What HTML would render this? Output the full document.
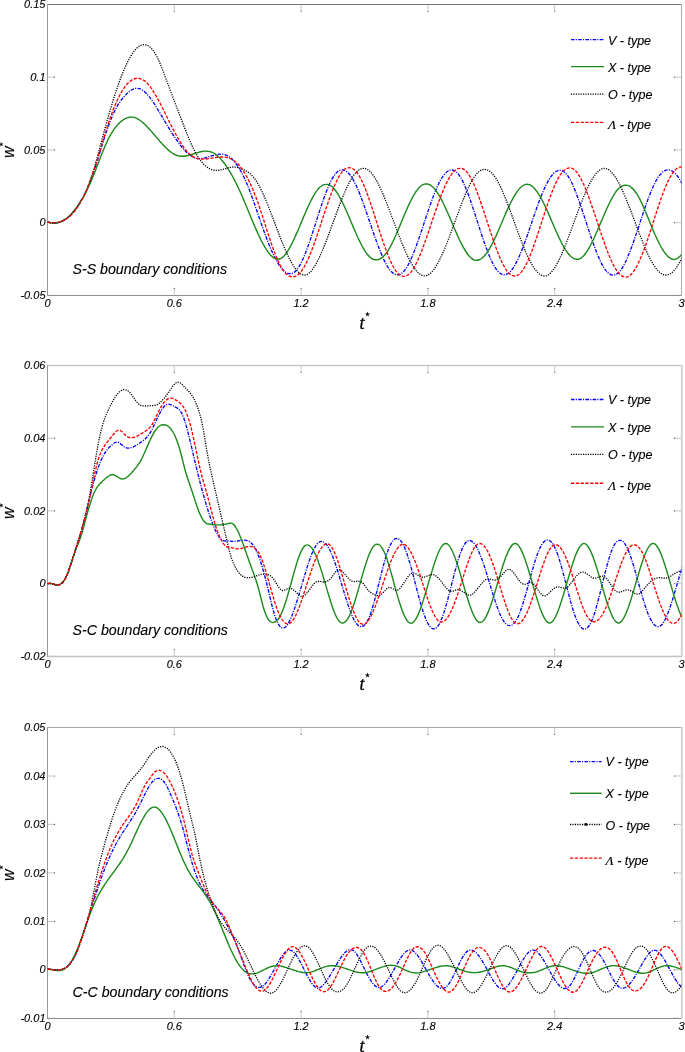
<!DOCTYPE html>
<html><head><meta charset="utf-8"><style>
html,body{margin:0;padding:0;background:#fff;}
svg{display:block;}
.box{fill:none;stroke:#858585;stroke-width:1;}
.tk{stroke:#b8b8b8;stroke-width:0.8;}
.td{fill:#555;}
text{font-family:"Liberation Sans",Arial,sans-serif;fill:#000;stroke:#000;stroke-width:0.12px;}
.yl{font-size:11px;font-style:italic;text-anchor:end;}
.xl{font-size:11px;font-style:italic;text-anchor:middle;}
.lg{font-size:12.5px;font-style:italic;}
.lam{font-family:"Liberation Serif",serif;font-size:13.5px;}
.ttl{font-size:14.2px;font-style:italic;}
.tl{font-family:"Liberation Serif",serif;font-style:italic;font-size:18px;stroke-width:0.3px;}
.wl{font-size:16px;font-style:italic;}
.st{font-family:"DejaVu Sans",sans-serif;font-style:normal;font-size:5.5px;}
.st2{font-family:"DejaVu Sans",sans-serif;font-size:5.5px;}
</style></head><body>
<svg width="685" height="1052" viewBox="0 0 685 1052">
<defs><clipPath id="c0"><rect x="47.5" y="4.5" width="634.0" height="290.9"/></clipPath><clipPath id="c1"><rect x="47.5" y="365.5" width="634.0" height="290.8"/></clipPath><clipPath id="c2"><rect x="47.5" y="727.5" width="634.0" height="290.8"/></clipPath></defs>
<line x1="47.5" y1="295.4" x2="47.5" y2="288.4" class="tk"/><line x1="47.5" y1="4.5" x2="47.5" y2="11.5" class="tk"/><circle cx="47.5" cy="288.4" r="0.6" class="td"/><circle cx="47.5" cy="11.5" r="0.6" class="td"/><line x1="174.3" y1="295.4" x2="174.3" y2="288.4" class="tk"/><line x1="174.3" y1="4.5" x2="174.3" y2="11.5" class="tk"/><circle cx="174.3" cy="288.4" r="0.6" class="td"/><circle cx="174.3" cy="11.5" r="0.6" class="td"/><line x1="301.1" y1="295.4" x2="301.1" y2="288.4" class="tk"/><line x1="301.1" y1="4.5" x2="301.1" y2="11.5" class="tk"/><circle cx="301.1" cy="288.4" r="0.6" class="td"/><circle cx="301.1" cy="11.5" r="0.6" class="td"/><line x1="427.9" y1="295.4" x2="427.9" y2="288.4" class="tk"/><line x1="427.9" y1="4.5" x2="427.9" y2="11.5" class="tk"/><circle cx="427.9" cy="288.4" r="0.6" class="td"/><circle cx="427.9" cy="11.5" r="0.6" class="td"/><line x1="554.7" y1="295.4" x2="554.7" y2="288.4" class="tk"/><line x1="554.7" y1="4.5" x2="554.7" y2="11.5" class="tk"/><circle cx="554.7" cy="288.4" r="0.6" class="td"/><circle cx="554.7" cy="11.5" r="0.6" class="td"/><line x1="681.5" y1="295.4" x2="681.5" y2="288.4" class="tk"/><line x1="681.5" y1="4.5" x2="681.5" y2="11.5" class="tk"/><circle cx="681.5" cy="288.4" r="0.6" class="td"/><circle cx="681.5" cy="11.5" r="0.6" class="td"/><line x1="47.5" y1="4.5" x2="54.5" y2="4.5" class="tk"/><line x1="681.5" y1="4.5" x2="674.5" y2="4.5" class="tk"/><circle cx="54.5" cy="4.5" r="0.6" class="td"/><circle cx="674.5" cy="4.5" r="0.6" class="td"/><text x="45.5" y="8.1" class="yl">0.15</text><line x1="47.5" y1="77.2" x2="54.5" y2="77.2" class="tk"/><line x1="681.5" y1="77.2" x2="674.5" y2="77.2" class="tk"/><circle cx="54.5" cy="77.2" r="0.6" class="td"/><circle cx="674.5" cy="77.2" r="0.6" class="td"/><text x="45.5" y="80.8" class="yl">0.1</text><line x1="47.5" y1="149.9" x2="54.5" y2="149.9" class="tk"/><line x1="681.5" y1="149.9" x2="674.5" y2="149.9" class="tk"/><circle cx="54.5" cy="149.9" r="0.6" class="td"/><circle cx="674.5" cy="149.9" r="0.6" class="td"/><text x="45.5" y="153.5" class="yl">0.05</text><line x1="47.5" y1="222.7" x2="54.5" y2="222.7" class="tk"/><line x1="681.5" y1="222.7" x2="674.5" y2="222.7" class="tk"/><circle cx="54.5" cy="222.7" r="0.6" class="td"/><circle cx="674.5" cy="222.7" r="0.6" class="td"/><text x="45.5" y="226.3" class="yl">0</text><line x1="47.5" y1="295.4" x2="54.5" y2="295.4" class="tk"/><line x1="681.5" y1="295.4" x2="674.5" y2="295.4" class="tk"/><circle cx="54.5" cy="295.4" r="0.6" class="td"/><circle cx="674.5" cy="295.4" r="0.6" class="td"/><text x="45.5" y="299.0" class="yl">-0.05</text>
<text x="47.5" y="307.4" class="xl">0</text><text x="174.3" y="307.4" class="xl">0.6</text><text x="301.1" y="307.4" class="xl">1.2</text><text x="427.9" y="307.4" class="xl">1.8</text><text x="554.7" y="307.4" class="xl">2.4</text><text x="681.5" y="307.4" class="xl">3</text>
<line x1="47.0" y1="4.50" x2="682.0" y2="4.50" stroke="#777" stroke-width="1"/><line x1="47.0" y1="295.50" x2="682.0" y2="295.50" stroke="#8f8f8f" stroke-width="1"/><line x1="47.50" y1="4.0" x2="47.50" y2="295.9" stroke="#999" stroke-width="1"/><line x1="681.50" y1="4.0" x2="681.50" y2="295.9" stroke="#aaa" stroke-width="1"/>
<text x="72.5" y="274.4" class="ttl">S-S boundary conditions</text>
<text x="359.5" y="328.8" class="tl">t<tspan class="st" dx="0.6" dy="-12.6">&#9733;</tspan></text>
<text transform="translate(14,157.9) rotate(-90)" class="wl">w<tspan class="st2" dx="-0.5" dy="-11">&#9733;</tspan></text>
<path d="M47.5,222.0 C48.2,222.2 48.8,222.3 49.5,222.4 C50.2,222.6 50.8,222.7 51.5,222.7 C52.2,222.8 52.8,222.8 53.5,222.9 C54.2,222.9 54.8,222.9 55.5,222.8 C56.2,222.8 56.8,222.7 57.5,222.6 C58.2,222.5 58.8,222.4 59.5,222.2 C60.2,222.0 60.8,221.8 61.5,221.5 C62.2,221.3 62.8,220.9 63.5,220.6 C64.2,220.2 64.8,219.8 65.5,219.4 C66.2,219.0 66.8,218.5 67.5,217.9 C68.2,217.4 68.8,216.8 69.5,216.2 C70.2,215.5 70.8,214.8 71.5,214.1 C72.2,213.4 72.8,212.6 73.5,211.8 C74.2,211.0 74.8,210.1 75.5,209.2 C76.2,208.3 76.8,207.3 77.5,206.4 C78.2,205.4 78.8,204.3 79.5,203.3 C80.2,202.2 80.8,201.1 81.5,199.9 C82.2,198.8 82.8,197.6 83.5,196.4 C84.2,195.1 84.8,193.8 85.5,192.5 C86.2,191.1 86.8,189.7 87.5,188.3 C88.2,186.8 88.8,185.2 89.5,183.6 C90.2,181.9 90.8,180.2 91.5,178.5 C92.2,176.6 92.8,174.7 93.5,172.8 C94.2,170.8 94.8,168.7 95.5,166.7 C96.2,164.5 96.8,162.4 97.5,160.2 C98.2,158.1 98.8,155.9 99.5,153.7 C100.2,151.5 100.8,149.3 101.5,147.1 C102.2,144.9 102.8,142.7 103.5,140.6 C104.2,138.5 104.8,136.4 105.5,134.4 C106.2,132.4 106.8,130.5 107.5,128.6 C108.2,126.7 108.8,124.9 109.5,123.1 C110.2,121.4 110.8,119.7 111.5,118.1 C112.2,116.5 112.8,114.9 113.5,113.5 C114.2,112.0 114.8,110.6 115.5,109.3 C116.2,108.0 116.8,106.8 117.5,105.6 C118.1,104.5 118.8,103.5 119.5,102.5 C120.2,101.5 120.8,100.6 121.5,99.7 C122.2,98.9 122.8,98.1 123.5,97.3 C124.2,96.5 124.8,95.8 125.5,95.1 C126.2,94.4 126.8,93.7 127.5,93.1 C128.2,92.5 128.8,91.9 129.5,91.4 C130.2,90.9 130.8,90.4 131.5,90.0 C132.2,89.6 132.8,89.3 133.5,89.0 C134.2,88.8 134.8,88.5 135.5,88.4 C136.2,88.3 136.8,88.3 137.5,88.3 C138.2,88.4 138.8,88.5 139.5,88.7 C140.2,88.9 140.8,89.2 141.5,89.6 C142.2,89.9 142.8,90.4 143.5,90.9 C144.2,91.4 144.8,92.0 145.5,92.6 C146.2,93.3 146.8,94.0 147.5,94.7 C148.2,95.5 148.8,96.3 149.5,97.1 C150.2,97.9 150.8,98.8 151.5,99.8 C152.2,100.7 152.8,101.7 153.5,102.7 C154.2,103.7 154.8,104.7 155.5,105.7 C156.2,106.8 156.8,107.9 157.5,109.0 C158.2,110.1 158.8,111.2 159.5,112.3 C160.2,113.4 160.8,114.6 161.5,115.7 C162.2,116.8 162.8,118.0 163.5,119.1 C164.2,120.2 164.8,121.4 165.5,122.5 C166.2,123.6 166.8,124.7 167.5,125.8 C168.2,126.9 168.8,128.0 169.5,129.1 C170.2,130.2 170.8,131.3 171.5,132.4 C172.2,133.4 172.8,134.5 173.5,135.5 C174.2,136.5 174.8,137.5 175.5,138.5 C176.2,139.5 176.8,140.4 177.5,141.4 C178.2,142.3 178.8,143.2 179.5,144.1 C180.2,145.0 180.8,145.8 181.5,146.7 C182.2,147.5 182.8,148.3 183.5,149.0 C184.2,149.8 184.8,150.5 185.5,151.2 C186.2,151.8 186.8,152.5 187.5,153.1 C188.2,153.7 188.8,154.2 189.5,154.7 C190.2,155.2 190.8,155.7 191.5,156.1 C192.2,156.5 192.8,156.9 193.5,157.2 C194.2,157.5 194.8,157.8 195.5,158.0 C196.2,158.2 196.8,158.4 197.5,158.5 C198.2,158.6 198.8,158.6 199.5,158.6 C200.2,158.6 200.8,158.6 201.5,158.5 C202.2,158.5 202.8,158.4 203.5,158.2 C204.2,158.1 204.8,158.0 205.5,157.8 C206.2,157.6 206.8,157.4 207.5,157.2 C208.2,157.0 208.8,156.8 209.5,156.6 C210.2,156.4 210.8,156.2 211.5,155.9 C212.2,155.7 212.8,155.5 213.5,155.3 C214.2,155.1 214.8,154.9 215.5,154.8 C216.2,154.6 216.8,154.5 217.5,154.4 C218.2,154.2 218.8,154.2 219.5,154.1 C220.2,154.1 220.8,154.0 221.5,154.1 C222.2,154.1 222.8,154.2 223.5,154.3 C224.2,154.4 224.8,154.6 225.5,154.8 C226.2,155.1 226.8,155.4 227.5,155.7 C228.2,156.1 228.8,156.5 229.5,157.0 C230.2,157.5 230.8,158.0 231.5,158.6 C232.2,159.2 232.8,159.9 233.5,160.6 C234.2,161.4 234.8,162.2 235.5,163.0 C236.2,163.9 236.8,164.8 237.5,165.8 C238.2,166.8 238.8,167.8 239.5,168.9 C240.2,170.0 240.8,171.2 241.5,172.4 C242.2,173.7 242.8,175.0 243.5,176.3 C244.2,177.7 244.8,179.2 245.5,180.6 C246.2,182.1 246.8,183.7 247.5,185.3 C248.2,186.9 248.8,188.6 249.5,190.3 C250.2,192.1 250.8,193.9 251.5,195.7 C252.2,197.5 252.8,199.3 253.5,201.2 C254.2,203.1 254.8,205.0 255.5,206.9 C256.2,208.8 256.8,210.8 257.5,212.7 C258.2,214.6 258.8,216.6 259.5,218.5 C260.2,220.4 260.8,222.4 261.5,224.3 C262.2,226.2 262.8,228.1 263.5,229.9 C264.2,231.8 264.8,233.6 265.5,235.4 C266.2,237.2 266.8,239.0 267.5,240.7 C268.2,242.4 268.8,244.1 269.5,245.7 C270.2,247.3 270.8,248.9 271.5,250.4 C272.2,251.9 272.8,253.3 273.5,254.8 C274.2,256.1 274.8,257.5 275.5,258.8 C276.2,260.0 276.8,261.2 277.5,262.4 C278.2,263.5 278.8,264.5 279.5,265.5 C280.1,266.5 280.8,267.4 281.5,268.2 C282.1,269.0 282.8,269.8 283.5,270.4 C284.1,271.1 284.8,271.6 285.5,272.1 C286.1,272.5 286.8,272.9 287.5,273.2 C288.2,273.4 288.8,273.6 289.5,273.7 C290.2,273.7 290.8,273.7 291.5,273.5 C292.2,273.4 292.9,273.1 293.5,272.7 C294.2,272.3 294.9,271.8 295.5,271.2 C296.2,270.5 296.9,269.7 297.5,268.9 C298.2,268.0 298.9,266.9 299.5,265.9 C300.2,264.7 300.9,263.4 301.5,262.1 C302.2,260.8 302.8,259.3 303.5,257.8 C304.2,256.2 304.8,254.6 305.5,253.0 C306.2,251.2 306.8,249.5 307.5,247.7 C308.2,245.8 308.8,243.9 309.5,242.0 C310.2,240.0 310.8,238.1 311.5,236.1 C312.2,234.0 312.8,232.0 313.5,229.9 C314.2,227.9 314.8,225.8 315.5,223.7 C316.2,221.6 316.8,219.5 317.5,217.4 C318.2,215.4 318.8,213.3 319.5,211.2 C320.2,209.2 320.8,207.2 321.5,205.2 C322.2,203.2 322.8,201.2 323.5,199.3 C324.2,197.5 324.8,195.6 325.5,193.8 C326.2,192.1 326.8,190.3 327.5,188.7 C328.2,187.1 328.8,185.5 329.5,184.0 C330.1,182.6 330.8,181.2 331.5,179.9 C332.1,178.7 332.8,177.5 333.5,176.5 C334.1,175.5 334.8,174.5 335.5,173.7 C336.1,173.0 336.8,172.3 337.5,171.7 C338.1,171.2 338.8,170.8 339.5,170.5 C340.1,170.2 340.8,170.0 341.5,169.9 C342.2,169.8 342.8,169.9 343.5,170.0 C344.2,170.2 344.9,170.5 345.5,170.8 C346.2,171.2 346.9,171.7 347.5,172.3 C348.2,172.9 348.9,173.6 349.5,174.3 C350.2,175.1 350.9,176.1 351.5,177.0 C352.2,178.0 352.9,179.1 353.5,180.3 C354.2,181.5 354.8,182.8 355.5,184.1 C356.2,185.5 356.8,187.0 357.5,188.5 C358.2,190.0 358.8,191.6 359.5,193.3 C360.2,195.0 360.8,196.7 361.5,198.4 C362.2,200.2 362.8,202.1 363.5,203.9 C364.2,205.8 364.8,207.7 365.5,209.6 C366.2,211.5 366.8,213.5 367.5,215.4 C368.2,217.4 368.8,219.3 369.5,221.3 C370.2,223.3 370.8,225.3 371.5,227.2 C372.2,229.2 372.8,231.1 373.5,233.0 C374.2,235.0 374.8,236.9 375.5,238.7 C376.2,240.6 376.8,242.4 377.5,244.2 C378.2,246.0 378.8,247.8 379.5,249.5 C380.2,251.1 380.8,252.8 381.5,254.4 C382.2,255.9 382.8,257.5 383.5,258.9 C384.2,260.3 384.8,261.7 385.5,263.0 C386.1,264.2 386.8,265.4 387.5,266.5 C388.1,267.6 388.8,268.6 389.5,269.5 C390.1,270.3 390.8,271.1 391.5,271.8 C392.1,272.4 392.8,273.0 393.5,273.5 C394.1,273.9 394.8,274.3 395.5,274.5 C396.2,274.7 396.8,274.8 397.5,274.8 C398.2,274.8 398.8,274.7 399.5,274.5 C400.2,274.2 400.9,273.9 401.5,273.4 C402.2,272.9 402.9,272.3 403.5,271.7 C404.2,271.0 404.9,270.1 405.5,269.2 C406.2,268.3 406.9,267.2 407.5,266.1 C408.2,264.9 408.9,263.6 409.5,262.3 C410.2,260.9 410.8,259.5 411.5,258.0 C412.2,256.5 412.8,254.9 413.5,253.2 C414.2,251.6 414.8,249.8 415.5,248.1 C416.2,246.3 416.8,244.4 417.5,242.6 C418.2,240.7 418.8,238.7 419.5,236.8 C420.2,234.8 420.8,232.9 421.5,230.9 C422.2,228.9 422.8,226.9 423.5,224.9 C424.2,222.8 424.8,220.8 425.5,218.8 C426.2,216.8 426.8,214.8 427.5,212.8 C428.2,210.8 428.8,208.9 429.5,206.9 C430.2,205.0 430.8,203.1 431.5,201.2 C432.2,199.4 432.8,197.6 433.5,195.8 C434.2,194.1 434.8,192.4 435.5,190.8 C436.2,189.2 436.8,187.7 437.5,186.2 C438.2,184.7 438.8,183.4 439.5,182.0 C440.1,180.8 440.8,179.6 441.5,178.5 C442.1,177.4 442.8,176.4 443.5,175.5 C444.1,174.7 444.8,173.9 445.5,173.2 C446.1,172.5 446.8,171.9 447.5,171.5 C448.1,171.0 448.8,170.7 449.5,170.4 C450.2,170.2 450.8,170.1 451.5,170.0 C452.2,170.0 452.8,170.2 453.5,170.4 C454.2,170.6 454.9,171.0 455.5,171.4 C456.2,171.9 456.9,172.5 457.5,173.2 C458.2,173.9 458.9,174.8 459.5,175.7 C460.2,176.7 460.9,177.8 461.5,178.9 C462.2,180.2 462.9,181.5 463.5,182.9 C464.2,184.3 464.8,185.8 465.5,187.4 C466.2,189.0 466.8,190.7 467.5,192.4 C468.2,194.2 468.8,196.0 469.5,197.8 C470.2,199.7 470.8,201.6 471.5,203.6 C472.2,205.6 472.8,207.6 473.5,209.6 C474.2,211.6 474.8,213.7 475.5,215.7 C476.2,217.8 476.8,219.9 477.5,221.9 C478.2,224.0 478.8,226.1 479.5,228.1 C480.2,230.2 480.8,232.2 481.5,234.3 C482.2,236.3 482.8,238.2 483.5,240.2 C484.2,242.1 484.8,244.0 485.5,245.9 C486.2,247.7 486.8,249.5 487.5,251.3 C488.2,253.0 488.8,254.7 489.5,256.3 C490.2,257.8 490.8,259.4 491.5,260.8 C492.2,262.2 492.8,263.5 493.5,264.8 C494.1,266.0 494.8,267.1 495.5,268.2 C496.1,269.1 496.8,270.1 497.5,270.9 C498.1,271.6 498.8,272.3 499.5,272.8 C500.1,273.3 500.8,273.8 501.5,274.1 C502.1,274.4 502.8,274.6 503.5,274.7 C504.2,274.8 504.8,274.7 505.5,274.6 C506.2,274.5 506.9,274.2 507.5,273.8 C508.2,273.5 508.9,272.9 509.5,272.4 C510.2,271.8 510.9,271.0 511.5,270.3 C512.2,269.4 512.9,268.5 513.5,267.5 C514.2,266.4 514.9,265.3 515.5,264.1 C516.2,262.8 516.8,261.5 517.5,260.2 C518.2,258.7 518.8,257.3 519.5,255.8 C520.2,254.2 520.8,252.6 521.5,251.0 C522.2,249.3 522.8,247.5 523.5,245.8 C524.2,244.0 524.8,242.2 525.5,240.4 C526.2,238.5 526.8,236.7 527.5,234.8 C528.2,232.9 528.8,230.9 529.5,229.0 C530.2,227.1 530.8,225.1 531.5,223.2 C532.2,221.2 532.8,219.3 533.5,217.3 C534.2,215.4 534.8,213.5 535.5,211.6 C536.2,209.7 536.8,207.8 537.5,205.9 C538.2,204.1 538.8,202.3 539.5,200.5 C540.2,198.8 540.8,197.0 541.5,195.3 C542.2,193.7 542.8,192.1 543.5,190.5 C544.2,189.0 544.8,187.5 545.5,186.1 C546.2,184.7 546.8,183.4 547.5,182.1 C548.1,180.9 548.8,179.8 549.5,178.7 C550.1,177.7 550.8,176.7 551.5,175.8 C552.1,175.0 552.8,174.2 553.5,173.5 C554.1,172.9 554.8,172.3 555.5,171.8 C556.1,171.4 556.8,171.0 557.5,170.8 C558.2,170.5 558.8,170.4 559.5,170.3 C560.2,170.3 560.8,170.4 561.5,170.6 C562.2,170.8 562.9,171.1 563.5,171.5 C564.2,171.9 564.9,172.5 565.5,173.1 C566.2,173.8 566.9,174.6 567.5,175.4 C568.2,176.4 568.9,177.4 569.5,178.5 C570.2,179.7 570.9,180.9 571.5,182.2 C572.2,183.6 572.8,185.1 573.5,186.6 C574.2,188.1 574.8,189.8 575.5,191.4 C576.2,193.1 576.8,194.9 577.5,196.7 C578.2,198.5 578.8,200.4 579.5,202.3 C580.2,204.2 580.8,206.2 581.5,208.1 C582.2,210.1 582.8,212.1 583.5,214.2 C584.2,216.2 584.8,218.2 585.5,220.3 C586.2,222.3 586.8,224.4 587.5,226.4 C588.2,228.4 588.8,230.4 589.5,232.4 C590.2,234.4 590.8,236.4 591.5,238.4 C592.2,240.3 592.8,242.2 593.5,244.1 C594.2,245.9 594.8,247.7 595.5,249.5 C596.2,251.2 596.8,252.9 597.5,254.6 C598.2,256.2 598.8,257.8 599.5,259.3 C600.2,260.7 600.8,262.1 601.5,263.4 C602.1,264.7 602.8,265.9 603.5,267.0 C604.1,268.1 604.8,269.1 605.5,270.0 C606.1,270.9 606.8,271.6 607.5,272.3 C608.1,272.9 608.8,273.5 609.5,273.9 C610.1,274.3 610.8,274.7 611.5,274.8 C612.2,275.0 612.8,275.1 613.5,275.1 C614.2,275.0 614.9,274.9 615.5,274.6 C616.2,274.3 616.9,273.9 617.5,273.4 C618.2,272.9 618.9,272.3 619.5,271.6 C620.2,270.8 620.9,269.9 621.5,269.0 C622.2,268.0 622.9,266.9 623.5,265.7 C624.2,264.5 624.8,263.2 625.5,261.9 C626.2,260.5 626.8,259.0 627.5,257.5 C628.2,255.9 628.8,254.3 629.5,252.7 C630.2,250.9 630.8,249.2 631.5,247.4 C632.2,245.6 632.8,243.8 633.5,241.9 C634.2,240.0 634.8,238.1 635.5,236.1 C636.2,234.1 636.8,232.2 637.5,230.2 C638.2,228.2 638.8,226.2 639.5,224.2 C640.2,222.2 640.8,220.1 641.5,218.1 C642.2,216.1 642.8,214.1 643.5,212.2 C644.2,210.2 644.8,208.2 645.5,206.3 C646.2,204.4 646.8,202.5 647.5,200.7 C648.2,198.9 648.8,197.1 649.5,195.4 C650.2,193.7 650.8,192.0 651.5,190.4 C652.2,188.8 652.8,187.3 653.5,185.8 C654.2,184.4 654.8,183.1 655.5,181.8 C656.1,180.6 656.8,179.4 657.5,178.3 C658.1,177.3 658.8,176.3 659.5,175.4 C660.1,174.6 660.8,173.8 661.5,173.1 C662.1,172.5 662.8,171.9 663.5,171.4 C664.1,171.0 664.8,170.6 665.5,170.3 C666.2,170.1 666.8,169.9 667.5,169.8 C668.2,169.8 668.8,169.8 669.5,169.9 C670.2,170.0 670.9,170.3 671.5,170.6 C672.2,170.9 672.9,171.4 673.5,171.9 C674.2,172.4 674.9,173.1 675.5,173.7 C676.2,174.5 676.9,175.3 677.5,176.2 C678.2,177.2 678.9,178.2 679.5,179.2 C680.2,180.3 680.8,181.5 681.5,182.7 C682.2,184.0 682.8,185.3 683.5,186.7 C684.2,188.1 684.8,189.5 685.5,191.0 C686.2,192.5 686.8,194.0 687.5,195.6 C688.2,197.2 688.8,198.9 689.5,200.5 C690.2,202.2 690.8,203.9 691.5,205.6 C692.2,207.4 692.8,209.1 693.5,210.9 C694.2,212.7 694.8,214.5 695.5,216.3 C696.2,218.1 696.8,219.9 697.5,221.7 C698.2,223.5 698.8,225.3 699.5,227.1 C700.2,228.9 700.8,230.7 701.5,232.5 C702.2,234.3 702.8,236.0 703.5,237.8 C704.2,239.5 704.8,241.2 705.5,242.9 C706.2,244.5 706.8,246.2 707.5,247.8 C708.2,249.4 708.8,250.9 709.5,252.4 C710.2,253.9 710.8,255.3 711.5,256.8 C712.2,258.1 712.8,259.4 713.5,260.7 C714.2,261.9 714.8,263.1 715.5,264.3 C716.2,265.3 716.8,266.4 717.5,267.4 C718.1,268.3 718.8,269.2 719.5,270.0 C720.1,270.7 720.8,271.5 721.5,272.1 C722.1,272.7 722.8,273.2 723.5,273.6 C724.1,274.0 724.8,274.4 725.5,274.6 C726.2,274.8 727.1,274.9 727.5,275.0 C727.7,275.0 727.8,275.0 728.0,275.0" fill="none" stroke="#0000ff" stroke-width="1.35" stroke-dasharray="3.6 1.2 1.1 1.3" stroke-linejoin="round" clip-path="url(#c0)"/>
<path d="M47.5,221.8 C48.2,222.0 48.8,222.3 49.5,222.5 C50.2,222.7 50.8,222.9 51.5,223.0 C52.2,223.1 52.8,223.2 53.5,223.2 C54.2,223.2 54.8,223.2 55.5,223.1 C56.2,223.1 56.8,223.0 57.5,222.8 C58.2,222.7 58.8,222.5 59.5,222.3 C60.2,222.1 60.8,221.8 61.5,221.5 C62.2,221.2 62.8,220.8 63.5,220.4 C64.2,220.0 64.8,219.6 65.5,219.1 C66.2,218.7 66.8,218.1 67.5,217.6 C68.2,217.0 68.8,216.4 69.5,215.8 C70.2,215.2 70.8,214.5 71.5,213.8 C72.2,213.0 72.8,212.3 73.5,211.5 C74.2,210.7 74.8,209.9 75.5,209.0 C76.2,208.1 76.8,207.2 77.5,206.2 C78.2,205.3 78.8,204.3 79.5,203.3 C80.2,202.2 80.8,201.1 81.5,200.0 C82.2,198.9 82.8,197.7 83.5,196.6 C84.2,195.4 84.8,194.1 85.5,192.9 C86.2,191.6 86.8,190.2 87.5,188.9 C88.2,187.5 88.8,186.1 89.5,184.7 C90.2,183.2 90.8,181.7 91.5,180.2 C92.2,178.6 92.8,177.0 93.5,175.4 C94.2,173.8 94.8,172.1 95.5,170.4 C96.2,168.7 96.8,166.9 97.5,165.2 C98.2,163.5 98.8,161.7 99.5,160.0 C100.2,158.2 100.8,156.5 101.5,154.8 C102.2,153.1 102.8,151.4 103.5,149.8 C104.2,148.2 104.8,146.6 105.5,145.0 C106.2,143.5 106.8,142.1 107.5,140.7 C108.2,139.3 108.8,138.0 109.5,136.7 C110.2,135.5 110.8,134.3 111.5,133.2 C112.2,132.1 112.8,131.1 113.5,130.1 C114.2,129.1 114.8,128.2 115.5,127.3 C116.2,126.5 116.8,125.7 117.5,124.9 C118.2,124.2 118.8,123.5 119.5,122.9 C120.2,122.3 120.8,121.7 121.5,121.1 C122.2,120.6 122.8,120.1 123.5,119.7 C124.2,119.3 124.8,118.9 125.5,118.5 C126.2,118.2 126.8,117.9 127.5,117.7 C128.2,117.5 128.8,117.3 129.5,117.2 C130.2,117.1 130.8,117.0 131.5,117.0 C132.2,117.1 132.8,117.1 133.5,117.3 C134.2,117.4 134.8,117.6 135.5,117.9 C136.2,118.1 136.8,118.4 137.5,118.8 C138.2,119.1 138.8,119.6 139.5,120.0 C140.2,120.5 140.8,121.0 141.5,121.5 C142.2,122.0 142.8,122.6 143.5,123.2 C144.2,123.8 144.8,124.4 145.5,125.1 C146.2,125.7 146.8,126.4 147.5,127.1 C148.2,127.8 148.8,128.6 149.5,129.3 C150.2,130.0 150.8,130.8 151.5,131.5 C152.2,132.3 152.8,133.1 153.5,133.9 C154.2,134.6 154.8,135.4 155.5,136.2 C156.2,137.0 156.8,137.8 157.5,138.6 C158.2,139.3 158.8,140.1 159.5,140.9 C160.2,141.6 160.8,142.4 161.5,143.1 C162.2,143.9 162.8,144.6 163.5,145.3 C164.2,146.0 164.8,146.7 165.5,147.4 C166.2,148.0 166.8,148.7 167.5,149.3 C168.2,149.9 168.8,150.5 169.5,151.0 C170.2,151.5 170.8,152.1 171.5,152.5 C172.2,153.0 172.8,153.4 173.5,153.8 C174.2,154.2 174.8,154.6 175.5,154.9 C176.2,155.2 176.8,155.4 177.5,155.6 C178.2,155.8 178.8,156.0 179.5,156.1 C180.2,156.2 180.8,156.2 181.5,156.3 C182.2,156.3 182.8,156.3 183.5,156.2 C184.2,156.2 184.8,156.1 185.5,156.0 C186.2,155.9 186.8,155.7 187.5,155.6 C188.2,155.4 188.8,155.3 189.5,155.1 C190.2,154.9 190.8,154.7 191.5,154.5 C192.2,154.3 192.8,154.1 193.5,153.8 C194.2,153.6 194.8,153.4 195.5,153.2 C196.2,153.0 196.8,152.8 197.5,152.6 C198.2,152.4 198.8,152.2 199.5,152.0 C200.2,151.9 200.8,151.7 201.5,151.6 C202.2,151.4 202.8,151.3 203.5,151.2 C204.2,151.2 204.8,151.1 205.5,151.1 C206.2,151.1 206.8,151.1 207.5,151.2 C208.2,151.2 208.8,151.3 209.5,151.5 C210.2,151.6 210.8,151.8 211.5,152.1 C212.2,152.3 212.8,152.6 213.5,153.0 C214.2,153.4 214.8,153.8 215.5,154.2 C216.2,154.7 216.8,155.2 217.5,155.8 C218.2,156.4 218.8,157.0 219.5,157.7 C220.2,158.4 220.8,159.1 221.5,159.9 C222.2,160.6 222.8,161.5 223.5,162.3 C224.2,163.2 224.8,164.1 225.5,165.0 C226.2,165.9 226.8,166.9 227.5,167.9 C228.2,169.0 228.8,170.0 229.5,171.1 C230.2,172.2 230.8,173.4 231.5,174.5 C232.2,175.7 232.8,176.9 233.5,178.2 C234.2,179.4 234.8,180.7 235.5,182.0 C236.2,183.3 236.8,184.7 237.5,186.1 C238.2,187.5 238.8,188.9 239.5,190.3 C240.2,191.8 240.8,193.3 241.5,194.8 C242.2,196.3 242.8,197.9 243.5,199.4 C244.2,201.0 244.8,202.6 245.5,204.2 C246.2,205.8 246.8,207.4 247.5,209.0 C248.2,210.6 248.8,212.2 249.5,213.8 C250.2,215.4 250.8,217.1 251.5,218.7 C252.2,220.3 252.8,221.8 253.5,223.4 C254.2,225.0 254.8,226.5 255.5,228.1 C256.2,229.6 256.8,231.1 257.5,232.6 C258.2,234.0 258.8,235.5 259.5,236.9 C260.2,238.3 260.8,239.6 261.5,241.0 C262.2,242.2 262.8,243.5 263.5,244.7 C264.2,245.9 264.8,247.1 265.5,248.2 C266.2,249.2 266.8,250.2 267.5,251.2 C268.2,252.1 268.8,253.0 269.5,253.8 C270.1,254.6 270.8,255.3 271.5,256.0 C272.1,256.6 272.8,257.2 273.5,257.6 C274.1,258.1 274.8,258.4 275.5,258.7 C276.2,258.9 276.8,259.1 277.5,259.2 C278.2,259.2 278.8,259.1 279.5,259.0 C280.2,258.8 280.9,258.5 281.5,258.1 C282.2,257.7 282.9,257.1 283.5,256.5 C284.2,255.8 284.9,255.1 285.5,254.2 C286.2,253.4 286.9,252.4 287.5,251.4 C288.2,250.4 288.8,249.3 289.5,248.1 C290.2,246.9 290.8,245.7 291.5,244.4 C292.2,243.1 292.8,241.7 293.5,240.3 C294.2,238.9 294.8,237.4 295.5,235.9 C296.2,234.4 296.8,232.9 297.5,231.4 C298.2,229.8 298.8,228.2 299.5,226.7 C300.2,225.1 300.8,223.5 301.5,221.9 C302.2,220.3 302.8,218.7 303.5,217.1 C304.2,215.6 304.8,214.0 305.5,212.5 C306.2,210.9 306.8,209.4 307.5,207.9 C308.2,206.5 308.8,205.0 309.5,203.6 C310.2,202.2 310.8,200.9 311.5,199.6 C312.2,198.3 312.8,197.1 313.5,195.9 C314.2,194.8 314.8,193.7 315.5,192.6 C316.1,191.7 316.8,190.7 317.5,189.9 C318.1,189.0 318.8,188.3 319.5,187.6 C320.1,187.0 320.8,186.4 321.5,186.0 C322.1,185.5 322.8,185.2 323.5,184.9 C324.2,184.6 324.8,184.4 325.5,184.4 C326.2,184.3 326.8,184.3 327.5,184.4 C328.2,184.6 328.9,184.8 329.5,185.1 C330.2,185.4 330.9,185.8 331.5,186.3 C332.2,186.8 332.9,187.5 333.5,188.1 C334.2,188.8 334.9,189.7 335.5,190.5 C336.2,191.4 336.8,192.4 337.5,193.4 C338.2,194.5 338.8,195.6 339.5,196.8 C340.2,198.0 340.8,199.3 341.5,200.5 C342.2,201.9 342.8,203.2 343.5,204.6 C344.2,206.0 344.8,207.5 345.5,209.0 C346.2,210.5 346.8,212.0 347.5,213.5 C348.2,215.0 348.8,216.6 349.5,218.1 C350.2,219.7 350.8,221.3 351.5,222.9 C352.2,224.4 352.8,226.0 353.5,227.6 C354.2,229.1 354.8,230.6 355.5,232.2 C356.2,233.7 356.8,235.2 357.5,236.7 C358.2,238.1 358.8,239.5 359.5,240.9 C360.2,242.3 360.8,243.6 361.5,244.9 C362.2,246.1 362.8,247.4 363.5,248.5 C364.2,249.6 364.8,250.7 365.5,251.8 C366.1,252.7 366.8,253.7 367.5,254.5 C368.1,255.3 368.8,256.0 369.5,256.7 C370.1,257.3 370.8,257.9 371.5,258.3 C372.1,258.7 372.8,259.1 373.5,259.3 C374.2,259.6 374.8,259.8 375.5,259.8 C376.2,259.9 376.8,259.8 377.5,259.7 C378.2,259.6 378.8,259.4 379.5,259.1 C380.2,258.8 380.9,258.4 381.5,257.9 C382.2,257.5 382.9,256.9 383.5,256.2 C384.2,255.6 384.9,254.8 385.5,254.0 C386.2,253.2 386.9,252.3 387.5,251.3 C388.2,250.3 388.8,249.2 389.5,248.1 C390.2,246.9 390.8,245.7 391.5,244.4 C392.2,243.1 392.8,241.7 393.5,240.3 C394.2,238.9 394.8,237.4 395.5,236.0 C396.2,234.4 396.8,232.9 397.5,231.4 C398.2,229.8 398.8,228.2 399.5,226.6 C400.2,225.0 400.8,223.4 401.5,221.8 C402.2,220.2 402.8,218.6 403.5,217.0 C404.2,215.4 404.8,213.8 405.5,212.2 C406.2,210.7 406.8,209.2 407.5,207.7 C408.2,206.2 408.8,204.8 409.5,203.4 C410.2,202.0 410.8,200.7 411.5,199.4 C412.2,198.1 412.8,196.9 413.5,195.7 C414.2,194.5 414.8,193.4 415.5,192.4 C416.2,191.4 416.8,190.4 417.5,189.6 C418.1,188.7 418.8,188.0 419.5,187.3 C420.1,186.6 420.8,186.0 421.5,185.5 C422.1,185.1 422.8,184.7 423.5,184.4 C424.1,184.1 424.8,184.0 425.5,183.9 C426.2,183.9 426.8,183.9 427.5,184.0 C428.2,184.2 428.9,184.4 429.5,184.7 C430.2,185.1 430.9,185.5 431.5,186.0 C432.2,186.5 432.9,187.1 433.5,187.8 C434.2,188.5 434.9,189.3 435.5,190.1 C436.2,191.0 436.8,191.9 437.5,192.9 C438.2,193.9 438.8,195.0 439.5,196.1 C440.2,197.2 440.8,198.5 441.5,199.7 C442.2,201.0 442.8,202.3 443.5,203.7 C444.2,205.1 444.8,206.5 445.5,207.9 C446.2,209.4 446.8,210.8 447.5,212.3 C448.2,213.9 448.8,215.4 449.5,216.9 C450.2,218.5 450.8,220.0 451.5,221.6 C452.2,223.1 452.8,224.7 453.5,226.3 C454.2,227.8 454.8,229.3 455.5,230.9 C456.2,232.4 456.8,233.9 457.5,235.4 C458.2,236.8 458.8,238.3 459.5,239.7 C460.2,241.1 460.8,242.5 461.5,243.8 C462.2,245.1 462.8,246.4 463.5,247.6 C464.2,248.8 464.8,249.9 465.5,251.0 C466.2,252.0 466.8,253.0 467.5,254.0 C468.1,254.9 468.8,255.7 469.5,256.4 C470.1,257.1 470.8,257.8 471.5,258.4 C472.1,258.9 472.8,259.3 473.5,259.6 C474.1,259.9 474.8,260.2 475.5,260.3 C476.2,260.4 476.8,260.4 477.5,260.3 C478.2,260.2 478.8,259.9 479.5,259.6 C480.2,259.3 480.9,258.9 481.5,258.5 C482.2,258.0 482.9,257.4 483.5,256.8 C484.2,256.1 484.9,255.3 485.5,254.5 C486.2,253.7 486.8,252.8 487.5,251.9 C488.2,250.9 488.8,249.8 489.5,248.7 C490.2,247.6 490.8,246.4 491.5,245.2 C492.2,243.9 492.8,242.6 493.5,241.3 C494.2,239.9 494.8,238.5 495.5,237.1 C496.2,235.6 496.8,234.1 497.5,232.6 C498.2,231.1 498.8,229.5 499.5,228.0 C500.2,226.4 500.8,224.8 501.5,223.3 C502.2,221.7 502.8,220.1 503.5,218.5 C504.2,217.0 504.8,215.4 505.5,213.9 C506.2,212.4 506.8,210.9 507.5,209.4 C508.2,207.9 508.8,206.5 509.5,205.1 C510.2,203.7 510.8,202.4 511.5,201.1 C512.2,199.8 512.8,198.6 513.5,197.4 C514.2,196.2 514.8,195.1 515.5,194.0 C516.2,193.0 516.8,192.0 517.5,191.1 C518.1,190.2 518.8,189.4 519.5,188.6 C520.1,187.9 520.8,187.3 521.5,186.7 C522.1,186.1 522.8,185.6 523.5,185.3 C524.1,184.9 524.8,184.6 525.5,184.4 C526.2,184.3 526.8,184.2 527.5,184.2 C528.2,184.3 528.8,184.5 529.5,184.7 C530.2,185.0 530.9,185.4 531.5,185.8 C532.2,186.3 532.9,186.8 533.5,187.5 C534.2,188.1 534.9,188.9 535.5,189.7 C536.2,190.5 536.8,191.4 537.5,192.3 C538.2,193.3 538.8,194.4 539.5,195.4 C540.2,196.6 540.8,197.8 541.5,199.0 C542.2,200.2 542.8,201.5 543.5,202.8 C544.2,204.2 544.8,205.6 545.5,207.0 C546.2,208.4 546.8,209.9 547.5,211.4 C548.2,212.9 548.8,214.4 549.5,215.9 C550.2,217.4 550.8,219.0 551.5,220.6 C552.2,222.1 552.8,223.7 553.5,225.2 C554.2,226.8 554.8,228.3 555.5,229.8 C556.2,231.4 556.8,232.9 557.5,234.3 C558.2,235.8 558.8,237.3 559.5,238.7 C560.2,240.0 560.8,241.4 561.5,242.7 C562.2,244.0 562.8,245.3 563.5,246.5 C564.2,247.6 564.8,248.7 565.5,249.8 C566.2,250.8 566.8,251.8 567.5,252.7 C568.1,253.5 568.8,254.4 569.5,255.1 C570.1,255.8 570.8,256.4 571.5,257.0 C572.1,257.5 572.8,258.0 573.5,258.3 C574.1,258.7 574.8,259.0 575.5,259.1 C576.2,259.3 576.8,259.3 577.5,259.3 C578.2,259.3 578.9,259.1 579.5,258.8 C580.2,258.6 580.9,258.2 581.5,257.7 C582.2,257.2 582.9,256.6 583.5,255.9 C584.2,255.2 584.9,254.4 585.5,253.5 C586.2,252.6 586.8,251.6 587.5,250.6 C588.2,249.5 588.8,248.3 589.5,247.2 C590.2,245.9 590.8,244.7 591.5,243.4 C592.2,242.0 592.8,240.6 593.5,239.2 C594.2,237.8 594.8,236.4 595.5,234.9 C596.2,233.4 596.8,231.8 597.5,230.3 C598.2,228.8 598.8,227.2 599.5,225.6 C600.2,224.1 600.8,222.5 601.5,220.9 C602.2,219.4 602.8,217.8 603.5,216.2 C604.2,214.7 604.8,213.1 605.5,211.6 C606.2,210.1 606.8,208.6 607.5,207.2 C608.2,205.8 608.8,204.3 609.5,203.0 C610.2,201.6 610.8,200.3 611.5,199.1 C612.2,197.9 612.8,196.7 613.5,195.5 C614.2,194.5 614.8,193.4 615.5,192.4 C616.1,191.5 616.8,190.6 617.5,189.8 C618.1,189.1 618.8,188.4 619.5,187.8 C620.1,187.3 620.8,186.8 621.5,186.4 C622.1,186.0 622.8,185.7 623.5,185.5 C624.2,185.3 624.8,185.2 625.5,185.2 C626.2,185.2 626.8,185.3 627.5,185.4 C628.2,185.6 628.9,185.9 629.5,186.2 C630.2,186.6 630.9,187.1 631.5,187.6 C632.2,188.2 632.9,188.8 633.5,189.5 C634.2,190.3 634.9,191.1 635.5,192.0 C636.2,193.0 636.9,194.0 637.5,195.0 C638.2,196.2 638.8,197.4 639.5,198.6 C640.2,199.9 640.8,201.2 641.5,202.6 C642.2,204.0 642.8,205.5 643.5,207.0 C644.2,208.5 644.8,210.1 645.5,211.7 C646.2,213.2 646.8,214.9 647.5,216.5 C648.2,218.1 648.8,219.7 649.5,221.4 C650.2,223.0 650.8,224.7 651.5,226.3 C652.2,227.9 652.8,229.5 653.5,231.1 C654.2,232.6 654.8,234.2 655.5,235.7 C656.2,237.1 656.8,238.6 657.5,240.0 C658.2,241.4 658.8,242.7 659.5,244.0 C660.2,245.3 660.8,246.5 661.5,247.7 C662.2,248.8 662.8,249.9 663.5,250.9 C664.2,251.9 664.8,252.9 665.5,253.7 C666.1,254.6 666.8,255.3 667.5,256.0 C668.1,256.7 668.8,257.3 669.5,257.8 C670.1,258.2 670.8,258.7 671.5,258.9 C672.1,259.2 672.8,259.4 673.5,259.4 C674.2,259.5 674.8,259.4 675.5,259.2 C676.2,259.0 676.9,258.7 677.5,258.3 C678.2,257.9 678.9,257.4 679.5,256.8 C680.2,256.2 680.9,255.5 681.5,254.7 C682.2,253.9 682.9,253.0 683.5,252.1 C684.2,251.1 684.8,250.1 685.5,249.0 C686.2,247.9 686.8,246.7 687.5,245.5 C688.2,244.2 688.8,242.9 689.5,241.5 C690.2,240.2 690.8,238.7 691.5,237.3 C692.2,235.8 692.8,234.3 693.5,232.8 C694.2,231.2 694.8,229.7 695.5,228.1 C696.2,226.5 696.8,224.9 697.5,223.3 C698.2,221.7 698.8,220.0 699.5,218.4 C700.2,216.8 700.8,215.2 701.5,213.6 C702.2,212.0 702.8,210.5 703.5,208.9 C704.2,207.4 704.8,205.9 705.5,204.4 C706.2,203.0 706.8,201.6 707.5,200.2 C708.2,198.9 708.8,197.6 709.5,196.3 C710.2,195.1 710.8,194.0 711.5,192.9 C712.1,191.8 712.8,190.8 713.5,189.9 C714.1,189.1 714.8,188.3 715.5,187.6 C716.1,186.9 716.8,186.3 717.5,185.8 C718.1,185.4 718.8,185.0 719.5,184.8 C720.2,184.7 721.1,184.6 721.5,184.7 C721.7,184.7 721.8,184.7 722.0,184.7" fill="none" stroke="#1a8a1a" stroke-width="1.4" stroke-linejoin="round" clip-path="url(#c0)"/>
<path d="M47.5,222.0 C48.2,222.1 48.8,222.3 49.5,222.5 C50.2,222.6 50.8,222.8 51.5,222.8 C52.2,222.9 52.8,223.0 53.5,223.0 C54.2,223.0 54.8,223.0 55.5,222.9 C56.2,222.9 56.8,222.8 57.5,222.7 C58.2,222.5 58.8,222.4 59.5,222.2 C60.2,222.0 60.8,221.7 61.5,221.4 C62.2,221.2 62.8,220.8 63.5,220.5 C64.2,220.1 64.8,219.7 65.5,219.3 C66.2,218.8 66.8,218.3 67.5,217.8 C68.2,217.3 68.8,216.7 69.5,216.1 C70.2,215.5 70.8,214.8 71.5,214.1 C72.2,213.4 72.8,212.7 73.5,211.9 C74.2,211.1 74.8,210.2 75.5,209.4 C76.2,208.5 76.8,207.5 77.5,206.6 C78.2,205.6 78.8,204.5 79.5,203.4 C80.2,202.3 80.8,201.2 81.5,200.0 C82.2,198.8 82.8,197.6 83.5,196.3 C84.2,195.0 84.8,193.6 85.5,192.2 C86.2,190.7 86.8,189.2 87.5,187.6 C88.2,186.0 88.8,184.2 89.5,182.5 C90.2,180.6 90.8,178.7 91.5,176.8 C92.2,174.7 92.8,172.6 93.5,170.4 C94.2,168.2 94.8,165.9 95.5,163.5 C96.2,161.2 96.8,158.7 97.5,156.3 C98.2,153.8 98.8,151.3 99.5,148.9 C100.2,146.4 100.8,143.9 101.5,141.4 C102.2,138.9 102.8,136.4 103.5,133.9 C104.2,131.4 104.8,129.0 105.5,126.6 C106.2,124.1 106.8,121.7 107.5,119.4 C108.2,117.0 108.8,114.7 109.5,112.4 C110.2,110.1 110.8,107.9 111.5,105.6 C112.2,103.4 112.8,101.3 113.5,99.1 C114.2,97.0 114.8,94.9 115.5,92.9 C116.2,90.9 116.8,88.9 117.5,86.9 C118.2,85.0 118.8,83.1 119.5,81.3 C120.2,79.5 120.8,77.7 121.5,76.0 C122.2,74.3 122.8,72.6 123.5,71.0 C124.2,69.4 124.8,67.9 125.5,66.4 C126.2,64.9 126.8,63.5 127.5,62.1 C128.2,60.8 128.8,59.6 129.5,58.3 C130.2,57.2 130.8,56.0 131.5,54.9 C132.2,53.9 132.8,52.9 133.5,52.0 C134.1,51.1 134.8,50.3 135.5,49.5 C136.1,48.8 136.8,48.1 137.5,47.6 C138.1,47.0 138.8,46.5 139.5,46.1 C140.1,45.7 140.8,45.3 141.5,45.1 C142.2,44.9 142.8,44.7 143.5,44.7 C144.2,44.6 144.8,44.7 145.5,44.8 C146.2,44.9 146.9,45.2 147.5,45.5 C148.2,45.8 148.9,46.2 149.5,46.7 C150.2,47.2 150.9,47.9 151.5,48.5 C152.2,49.3 152.9,50.1 153.5,51.0 C154.2,51.9 154.9,53.0 155.5,54.1 C156.2,55.3 156.9,56.5 157.5,57.8 C158.2,59.2 158.8,60.7 159.5,62.2 C160.2,63.8 160.8,65.5 161.5,67.1 C162.2,68.8 162.8,70.6 163.5,72.3 C164.2,74.1 164.8,75.8 165.5,77.6 C166.2,79.4 166.8,81.2 167.5,82.9 C168.2,84.7 168.8,86.5 169.5,88.2 C170.2,90.0 170.8,91.7 171.5,93.5 C172.2,95.3 172.8,97.0 173.5,98.8 C174.2,100.5 174.8,102.3 175.5,104.0 C176.2,105.8 176.8,107.5 177.5,109.3 C178.2,111.0 178.8,112.8 179.5,114.5 C180.2,116.3 180.8,118.0 181.5,119.8 C182.2,121.5 182.8,123.2 183.5,125.0 C184.2,126.7 184.8,128.4 185.5,130.1 C186.2,131.8 186.8,133.5 187.5,135.2 C188.2,136.8 188.8,138.5 189.5,140.0 C190.2,141.6 190.8,143.1 191.5,144.6 C192.2,146.1 192.8,147.5 193.5,148.8 C194.2,150.1 194.8,151.4 195.5,152.6 C196.2,153.8 196.8,154.9 197.5,156.0 C198.2,157.1 198.8,158.1 199.5,159.0 C200.2,160.0 200.8,160.8 201.5,161.7 C202.2,162.5 202.8,163.2 203.5,163.9 C204.2,164.6 204.8,165.3 205.5,165.8 C206.2,166.4 206.8,166.9 207.5,167.4 C208.2,167.9 208.8,168.3 209.5,168.6 C210.2,169.0 210.8,169.3 211.5,169.5 C212.2,169.8 212.8,170.0 213.5,170.1 C214.2,170.2 214.8,170.3 215.5,170.4 C216.2,170.4 216.8,170.4 217.5,170.4 C218.2,170.3 218.8,170.2 219.5,170.1 C220.2,170.0 220.8,169.9 221.5,169.7 C222.2,169.5 222.8,169.4 223.5,169.2 C224.2,169.0 224.8,168.8 225.5,168.6 C226.2,168.4 226.8,168.2 227.5,168.0 C228.2,167.8 228.8,167.7 229.5,167.5 C230.2,167.4 230.8,167.3 231.5,167.2 C232.2,167.1 232.8,167.0 233.5,167.0 C234.2,167.0 234.8,167.0 235.5,167.1 C236.2,167.2 236.8,167.3 237.5,167.5 C238.2,167.6 238.8,167.8 239.5,168.1 C240.2,168.3 240.8,168.5 241.5,168.8 C242.2,169.1 242.8,169.3 243.5,169.6 C244.2,169.9 244.8,170.3 245.5,170.6 C246.2,171.0 246.8,171.4 247.5,171.8 C248.2,172.2 248.8,172.7 249.5,173.2 C250.2,173.8 250.8,174.4 251.5,175.0 C252.2,175.7 252.9,176.4 253.5,177.2 C254.2,178.0 254.9,178.9 255.5,179.8 C256.2,180.8 256.8,181.9 257.5,182.9 C258.2,184.1 258.8,185.3 259.5,186.5 C260.2,187.8 260.8,189.1 261.5,190.5 C262.2,191.9 262.8,193.3 263.5,194.8 C264.2,196.3 264.8,197.9 265.5,199.4 C266.2,201.0 266.8,202.6 267.5,204.3 C268.2,205.9 268.8,207.6 269.5,209.3 C270.2,211.0 270.8,212.8 271.5,214.5 C272.2,216.2 272.8,218.0 273.5,219.8 C274.2,221.5 274.8,223.3 275.5,225.1 C276.2,226.8 276.8,228.6 277.5,230.4 C278.2,232.1 278.8,233.8 279.5,235.6 C280.2,237.3 280.8,239.0 281.5,240.7 C282.2,242.3 282.8,244.0 283.5,245.6 C284.2,247.2 284.8,248.7 285.5,250.3 C286.2,251.8 286.8,253.2 287.5,254.7 C288.2,256.1 288.8,257.5 289.5,258.8 C290.2,260.1 290.8,261.3 291.5,262.5 C292.2,263.7 292.8,264.8 293.5,265.9 C294.2,266.9 294.8,267.8 295.5,268.7 C296.1,269.6 296.8,270.4 297.5,271.1 C298.1,271.8 298.8,272.5 299.5,273.0 C300.1,273.5 300.8,274.0 301.5,274.3 C302.1,274.6 302.8,274.8 303.5,275.0 C304.2,275.1 304.8,275.1 305.5,275.0 C306.2,274.8 306.9,274.6 307.5,274.3 C308.2,273.9 308.9,273.4 309.5,272.8 C310.2,272.2 310.9,271.5 311.5,270.7 C312.2,269.9 312.9,269.0 313.5,268.0 C314.2,267.0 314.8,265.9 315.5,264.8 C316.2,263.7 316.8,262.4 317.5,261.1 C318.2,259.8 318.8,258.5 319.5,257.1 C320.2,255.6 320.8,254.1 321.5,252.6 C322.2,251.0 322.8,249.5 323.5,247.8 C324.2,246.2 324.8,244.5 325.5,242.8 C326.2,241.1 326.8,239.4 327.5,237.6 C328.2,235.9 328.8,234.1 329.5,232.3 C330.2,230.5 330.8,228.7 331.5,226.8 C332.2,225.0 332.8,223.2 333.5,221.3 C334.2,219.5 334.8,217.7 335.5,215.9 C336.2,214.1 336.8,212.2 337.5,210.4 C338.2,208.7 338.8,206.9 339.5,205.1 C340.2,203.4 340.8,201.7 341.5,200.0 C342.2,198.3 342.8,196.7 343.5,195.1 C344.2,193.5 344.8,192.0 345.5,190.4 C346.2,189.0 346.8,187.5 347.5,186.1 C348.2,184.8 348.8,183.5 349.5,182.2 C350.2,181.0 350.8,179.8 351.5,178.7 C352.1,177.6 352.8,176.6 353.5,175.6 C354.1,174.7 354.8,173.9 355.5,173.1 C356.1,172.4 356.8,171.7 357.5,171.1 C358.1,170.5 358.8,170.0 359.5,169.6 C360.1,169.2 360.8,168.9 361.5,168.7 C362.2,168.5 362.8,168.3 363.5,168.3 C364.2,168.3 364.8,168.4 365.5,168.6 C366.2,168.8 366.9,169.1 367.5,169.5 C368.2,169.9 368.9,170.4 369.5,171.0 C370.2,171.6 370.9,172.3 371.5,173.1 C372.2,173.9 372.9,174.8 373.5,175.7 C374.2,176.7 374.8,177.7 375.5,178.8 C376.2,180.0 376.8,181.2 377.5,182.4 C378.2,183.7 378.8,185.0 379.5,186.4 C380.2,187.8 380.8,189.2 381.5,190.7 C382.2,192.2 382.8,193.7 383.5,195.3 C384.2,196.9 384.8,198.5 385.5,200.2 C386.2,201.8 386.8,203.5 387.5,205.2 C388.2,206.9 388.8,208.7 389.5,210.4 C390.2,212.2 390.8,213.9 391.5,215.7 C392.2,217.5 392.8,219.3 393.5,221.1 C394.2,222.8 394.8,224.6 395.5,226.4 C396.2,228.2 396.8,230.0 397.5,231.7 C398.2,233.5 398.8,235.2 399.5,236.9 C400.2,238.6 400.8,240.3 401.5,242.0 C402.2,243.7 402.8,245.3 403.5,246.9 C404.2,248.5 404.8,250.0 405.5,251.5 C406.2,253.0 406.8,254.5 407.5,255.9 C408.2,257.2 408.8,258.6 409.5,259.9 C410.2,261.2 410.8,262.4 411.5,263.6 C412.2,264.7 412.8,265.8 413.5,266.8 C414.2,267.8 414.8,268.8 415.5,269.6 C416.1,270.5 416.8,271.3 417.5,272.0 C418.1,272.7 418.8,273.3 419.5,273.8 C420.1,274.3 420.8,274.8 421.5,275.1 C422.1,275.4 422.8,275.6 423.5,275.8 C424.2,275.9 424.8,275.9 425.5,275.8 C426.2,275.7 426.9,275.5 427.5,275.2 C428.2,274.9 428.9,274.5 429.5,274.0 C430.2,273.5 430.9,272.9 431.5,272.2 C432.2,271.5 432.9,270.7 433.5,269.9 C434.2,269.0 434.9,268.1 435.5,267.1 C436.2,266.0 436.8,264.9 437.5,263.8 C438.2,262.6 438.8,261.3 439.5,260.1 C440.2,258.7 440.8,257.4 441.5,255.9 C442.2,254.5 442.8,253.0 443.5,251.5 C444.2,249.9 444.8,248.3 445.5,246.7 C446.2,245.0 446.8,243.4 447.5,241.7 C448.2,239.9 448.8,238.2 449.5,236.5 C450.2,234.7 450.8,232.9 451.5,231.1 C452.2,229.3 452.8,227.5 453.5,225.6 C454.2,223.8 454.8,222.0 455.5,220.2 C456.2,218.3 456.8,216.5 457.5,214.7 C458.2,212.9 458.8,211.1 459.5,209.3 C460.2,207.5 460.8,205.8 461.5,204.0 C462.2,202.3 462.8,200.6 463.5,199.0 C464.2,197.3 464.8,195.7 465.5,194.1 C466.2,192.6 466.8,191.0 467.5,189.6 C468.2,188.1 468.8,186.7 469.5,185.3 C470.2,184.0 470.8,182.7 471.5,181.5 C472.2,180.3 472.8,179.2 473.5,178.1 C474.1,177.1 474.8,176.2 475.5,175.3 C476.1,174.4 476.8,173.6 477.5,172.9 C478.1,172.3 478.8,171.7 479.5,171.2 C480.1,170.8 480.8,170.3 481.5,170.1 C482.2,169.8 482.8,169.6 483.5,169.5 C484.2,169.4 484.8,169.4 485.5,169.5 C486.2,169.5 486.8,169.7 487.5,170.0 C488.2,170.3 488.9,170.7 489.5,171.1 C490.2,171.6 490.9,172.2 491.5,172.8 C492.2,173.4 492.9,174.2 493.5,175.0 C494.2,175.8 494.9,176.7 495.5,177.7 C496.2,178.7 496.9,179.8 497.5,181.0 C498.2,182.2 498.8,183.5 499.5,184.8 C500.2,186.1 500.8,187.5 501.5,189.0 C502.2,190.5 502.8,192.0 503.5,193.6 C504.2,195.2 504.8,196.8 505.5,198.5 C506.2,200.1 506.8,201.9 507.5,203.6 C508.2,205.4 508.8,207.1 509.5,208.9 C510.2,210.7 510.8,212.6 511.5,214.4 C512.2,216.2 512.8,218.1 513.5,219.9 C514.2,221.8 514.8,223.6 515.5,225.4 C516.2,227.3 516.8,229.1 517.5,230.9 C518.2,232.7 518.8,234.5 519.5,236.3 C520.2,238.1 520.8,239.8 521.5,241.6 C522.2,243.3 522.8,244.9 523.5,246.6 C524.2,248.2 524.8,249.8 525.5,251.4 C526.2,252.9 526.8,254.4 527.5,255.9 C528.2,257.3 528.8,258.7 529.5,260.0 C530.2,261.3 530.8,262.6 531.5,263.8 C532.2,264.9 532.8,266.1 533.5,267.1 C534.1,268.1 534.8,269.1 535.5,269.9 C536.1,270.8 536.8,271.5 537.5,272.2 C538.1,272.9 538.8,273.5 539.5,274.0 C540.1,274.5 540.8,274.9 541.5,275.2 C542.1,275.5 542.8,275.8 543.5,275.9 C544.2,276.0 544.8,276.0 545.5,275.9 C546.2,275.8 546.9,275.6 547.5,275.2 C548.2,274.9 548.9,274.5 549.5,273.9 C550.2,273.4 550.9,272.7 551.5,272.0 C552.2,271.2 552.9,270.4 553.5,269.5 C554.2,268.5 554.9,267.5 555.5,266.4 C556.2,265.3 556.8,264.1 557.5,262.9 C558.2,261.6 558.8,260.2 559.5,258.9 C560.2,257.5 560.8,256.0 561.5,254.5 C562.2,253.0 562.8,251.4 563.5,249.8 C564.2,248.2 564.8,246.6 565.5,244.9 C566.2,243.2 566.8,241.5 567.5,239.7 C568.2,238.0 568.8,236.2 569.5,234.4 C570.2,232.6 570.8,230.8 571.5,229.0 C572.2,227.2 572.8,225.3 573.5,223.5 C574.2,221.7 574.8,219.8 575.5,218.0 C576.2,216.2 576.8,214.4 577.5,212.6 C578.2,210.8 578.8,209.0 579.5,207.2 C580.2,205.5 580.8,203.8 581.5,202.1 C582.2,200.4 582.8,198.7 583.5,197.1 C584.2,195.5 584.8,193.9 585.5,192.4 C586.2,190.9 586.8,189.4 587.5,188.0 C588.2,186.6 588.8,185.3 589.5,184.0 C590.2,182.7 590.8,181.5 591.5,180.3 C592.2,179.2 592.8,178.1 593.5,177.0 C594.2,176.1 594.8,175.1 595.5,174.3 C596.1,173.4 596.8,172.7 597.5,172.0 C598.1,171.3 598.8,170.7 599.5,170.2 C600.1,169.7 600.8,169.3 601.5,169.0 C602.1,168.7 602.8,168.5 603.5,168.4 C604.2,168.3 604.8,168.3 605.5,168.5 C606.2,168.6 606.9,168.8 607.5,169.1 C608.2,169.4 608.9,169.9 609.5,170.4 C610.2,170.9 610.9,171.5 611.5,172.2 C612.2,172.9 612.9,173.7 613.5,174.5 C614.2,175.4 614.8,176.4 615.5,177.3 C616.2,178.4 616.8,179.5 617.5,180.6 C618.2,181.8 618.8,183.0 619.5,184.3 C620.2,185.6 620.8,187.0 621.5,188.4 C622.2,189.8 622.8,191.3 623.5,192.8 C624.2,194.3 624.8,195.9 625.5,197.4 C626.2,199.1 626.8,200.7 627.5,202.4 C628.2,204.0 628.8,205.7 629.5,207.4 C630.2,209.2 630.8,210.9 631.5,212.7 C632.2,214.4 632.8,216.2 633.5,218.0 C634.2,219.8 634.8,221.5 635.5,223.3 C636.2,225.1 636.8,226.9 637.5,228.7 C638.2,230.4 638.8,232.2 639.5,233.9 C640.2,235.6 640.8,237.4 641.5,239.1 C642.2,240.7 642.8,242.4 643.5,244.1 C644.2,245.7 644.8,247.3 645.5,248.8 C646.2,250.4 646.8,251.9 647.5,253.3 C648.2,254.8 648.8,256.2 649.5,257.5 C650.2,258.8 650.8,260.1 651.5,261.4 C652.2,262.5 652.8,263.7 653.5,264.8 C654.2,265.8 654.8,266.8 655.5,267.7 C656.1,268.6 656.8,269.5 657.5,270.2 C658.1,270.9 658.8,271.6 659.5,272.2 C660.1,272.7 660.8,273.2 661.5,273.6 C662.1,274.0 662.8,274.4 663.5,274.6 C664.2,274.8 664.8,275.0 665.5,275.0 C666.2,275.1 666.8,275.0 667.5,274.9 C668.2,274.8 668.9,274.5 669.5,274.2 C670.2,273.9 670.9,273.5 671.5,273.0 C672.2,272.5 672.9,271.8 673.5,271.2 C674.2,270.5 674.9,269.6 675.5,268.8 C676.2,267.9 676.9,266.9 677.5,265.9 C678.2,264.8 678.8,263.6 679.5,262.4 C680.2,261.2 680.8,259.9 681.5,258.6 C682.2,257.2 682.8,255.8 683.5,254.3 C684.2,252.8 684.8,251.3 685.5,249.7 C686.2,248.1 686.8,246.5 687.5,244.8 C688.2,243.2 688.8,241.4 689.5,239.7 C690.2,238.0 690.8,236.2 691.5,234.4 C692.2,232.6 692.8,230.8 693.5,229.0 C694.2,227.1 694.8,225.3 695.5,223.4 C696.2,221.6 696.8,219.7 697.5,217.9 C698.2,216.1 698.8,214.2 699.5,212.4 C700.2,210.6 700.8,208.8 701.5,207.0 C702.2,205.2 702.8,203.5 703.5,201.8 C704.2,200.1 704.8,198.4 705.5,196.7 C706.2,195.1 706.8,193.6 707.5,192.0 C708.2,190.5 708.8,189.0 709.5,187.6 C710.2,186.2 710.8,184.9 711.5,183.6 C712.2,182.3 712.8,181.1 713.5,180.0 C714.2,178.9 714.8,177.8 715.5,176.8 C716.1,175.9 716.8,175.0 717.5,174.2 C718.1,173.4 718.8,172.7 719.5,172.0 C720.1,171.4 720.8,170.9 721.5,170.4 C722.1,170.0 722.8,169.7 723.5,169.4 C724.2,169.2 725.1,169.1 725.5,169.0 C725.7,169.0 725.8,169.0 726.0,169.0" fill="none" stroke="#000000" stroke-width="1.3" stroke-dasharray="1.2 1.2" stroke-linejoin="round" clip-path="url(#c0)"/>
<path d="M47.5,222.2 C48.2,222.3 48.8,222.4 49.5,222.5 C50.2,222.5 50.8,222.6 51.5,222.6 C52.2,222.6 52.8,222.7 53.5,222.7 C54.2,222.6 54.8,222.6 55.5,222.6 C56.2,222.5 56.8,222.4 57.5,222.3 C58.2,222.2 58.8,222.1 59.5,221.9 C60.2,221.7 60.8,221.5 61.5,221.3 C62.2,221.0 62.8,220.8 63.5,220.4 C64.2,220.1 64.8,219.8 65.5,219.4 C66.2,219.0 66.8,218.6 67.5,218.1 C68.2,217.6 68.8,217.1 69.5,216.5 C70.2,215.9 70.8,215.3 71.5,214.7 C72.2,214.0 72.8,213.3 73.5,212.5 C74.2,211.7 74.8,210.9 75.5,210.0 C76.2,209.1 76.8,208.2 77.5,207.2 C78.2,206.2 78.8,205.1 79.5,204.0 C80.2,202.9 80.8,201.7 81.5,200.4 C82.2,199.2 82.8,197.8 83.5,196.5 C84.2,195.1 84.8,193.6 85.5,192.2 C86.2,190.6 86.8,189.1 87.5,187.5 C88.2,185.8 88.8,184.1 89.5,182.4 C90.2,180.6 90.8,178.9 91.5,177.0 C92.2,175.2 92.8,173.3 93.5,171.3 C94.2,169.4 94.8,167.4 95.5,165.4 C96.2,163.3 96.8,161.2 97.5,159.1 C98.2,156.9 98.8,154.8 99.5,152.6 C100.2,150.4 100.8,148.1 101.5,145.9 C102.2,143.7 102.8,141.4 103.5,139.2 C104.2,137.0 104.8,134.8 105.5,132.6 C106.2,130.4 106.8,128.3 107.5,126.2 C108.2,124.1 108.8,122.1 109.5,120.1 C110.2,118.1 110.8,116.2 111.5,114.3 C112.2,112.5 112.8,110.8 113.5,109.0 C114.2,107.4 114.8,105.7 115.5,104.2 C116.2,102.6 116.8,101.1 117.5,99.7 C118.2,98.3 118.8,97.0 119.5,95.7 C120.2,94.4 120.8,93.2 121.5,92.0 C122.2,90.9 122.8,89.9 123.5,88.8 C124.2,87.9 124.8,86.9 125.5,86.1 C126.2,85.2 126.8,84.4 127.5,83.7 C128.1,83.0 128.8,82.4 129.5,81.8 C130.2,81.2 130.8,80.7 131.5,80.3 C132.2,79.8 132.8,79.5 133.5,79.2 C134.2,78.9 134.8,78.7 135.5,78.5 C136.2,78.4 136.8,78.3 137.5,78.3 C138.2,78.3 138.8,78.4 139.5,78.5 C140.2,78.7 140.8,78.9 141.5,79.1 C142.2,79.4 142.8,79.8 143.5,80.2 C144.2,80.6 144.9,81.2 145.5,81.7 C146.2,82.3 146.8,82.9 147.5,83.6 C148.2,84.4 148.8,85.1 149.5,86.0 C150.2,86.8 150.8,87.7 151.5,88.6 C152.2,89.6 152.8,90.6 153.5,91.6 C154.2,92.7 154.8,93.8 155.5,94.9 C156.2,96.1 156.8,97.2 157.5,98.4 C158.2,99.6 158.8,100.9 159.5,102.1 C160.2,103.4 160.8,104.7 161.5,106.0 C162.2,107.3 162.8,108.6 163.5,109.9 C164.2,111.3 164.8,112.6 165.5,114.0 C166.2,115.3 166.8,116.7 167.5,118.0 C168.2,119.4 168.8,120.7 169.5,122.1 C170.2,123.4 170.8,124.7 171.5,126.1 C172.2,127.4 172.8,128.7 173.5,130.0 C174.2,131.2 174.8,132.5 175.5,133.7 C176.2,135.0 176.8,136.2 177.5,137.4 C178.2,138.5 178.8,139.7 179.5,140.8 C180.2,141.9 180.8,143.0 181.5,144.0 C182.2,145.0 182.8,146.0 183.5,147.0 C184.2,147.9 184.8,148.8 185.5,149.7 C186.2,150.5 186.8,151.3 187.5,152.0 C188.2,152.7 188.8,153.4 189.5,154.0 C190.2,154.6 190.8,155.2 191.5,155.6 C192.2,156.1 192.8,156.5 193.5,156.9 C194.2,157.3 194.8,157.6 195.5,157.8 C196.2,158.1 196.8,158.3 197.5,158.5 C198.2,158.6 198.8,158.8 199.5,158.9 C200.2,159.0 200.8,159.0 201.5,159.1 C202.2,159.1 202.8,159.1 203.5,159.1 C204.2,159.1 204.8,159.0 205.5,159.0 C206.2,158.9 206.8,158.8 207.5,158.8 C208.2,158.7 208.8,158.6 209.5,158.5 C210.2,158.4 210.8,158.3 211.5,158.2 C212.2,158.0 212.8,157.9 213.5,157.8 C214.2,157.7 214.8,157.6 215.5,157.5 C216.2,157.4 216.8,157.3 217.5,157.2 C218.2,157.2 218.8,157.1 219.5,157.1 C220.2,157.0 220.8,157.0 221.5,157.0 C222.2,157.0 222.8,157.0 223.5,157.0 C224.2,157.1 224.8,157.1 225.5,157.2 C226.2,157.3 226.8,157.5 227.5,157.6 C228.2,157.8 228.8,158.0 229.5,158.3 C230.2,158.5 230.8,158.8 231.5,159.2 C232.2,159.5 232.8,159.9 233.5,160.3 C234.2,160.8 234.8,161.3 235.5,161.8 C236.2,162.3 236.8,163.0 237.5,163.6 C238.2,164.3 238.8,165.0 239.5,165.8 C240.2,166.6 240.8,167.4 241.5,168.3 C242.2,169.2 242.8,170.2 243.5,171.2 C244.2,172.3 244.8,173.3 245.5,174.5 C246.2,175.6 246.8,176.9 247.5,178.1 C248.2,179.4 248.8,180.7 249.5,182.1 C250.2,183.5 250.8,184.9 251.5,186.4 C252.2,187.9 252.8,189.5 253.5,191.1 C254.2,192.8 254.8,194.4 255.5,196.2 C256.2,197.9 256.8,199.7 257.5,201.6 C258.2,203.4 258.8,205.3 259.5,207.3 C260.2,209.3 260.8,211.3 261.5,213.3 C262.2,215.3 262.8,217.4 263.5,219.4 C264.2,221.5 264.8,223.6 265.5,225.7 C266.2,227.7 266.8,229.8 267.5,231.9 C268.2,233.9 268.8,236.0 269.5,238.0 C270.2,240.0 270.8,242.0 271.5,243.9 C272.2,245.9 272.8,247.8 273.5,249.6 C274.2,251.4 274.8,253.2 275.5,254.9 C276.2,256.5 276.8,258.2 277.5,259.7 C278.2,261.2 278.8,262.6 279.5,264.0 C280.1,265.3 280.8,266.5 281.5,267.7 C282.1,268.8 282.8,269.8 283.5,270.7 C284.1,271.6 284.8,272.4 285.5,273.2 C286.1,273.8 286.8,274.5 287.5,275.0 C288.1,275.5 288.8,275.9 289.5,276.2 C290.1,276.5 290.8,276.7 291.5,276.8 C292.2,276.9 292.8,276.9 293.5,276.8 C294.2,276.7 294.9,276.5 295.5,276.2 C296.2,275.9 296.9,275.5 297.5,275.1 C298.2,274.6 298.9,274.0 299.5,273.3 C300.2,272.6 300.9,271.8 301.5,271.0 C302.2,270.0 302.9,269.1 303.5,268.0 C304.2,266.9 304.9,265.7 305.5,264.5 C306.2,263.2 306.8,261.8 307.5,260.4 C308.2,259.0 308.8,257.4 309.5,255.9 C310.2,254.3 310.8,252.6 311.5,250.9 C312.2,249.2 312.8,247.4 313.5,245.6 C314.2,243.7 314.8,241.8 315.5,239.9 C316.2,238.0 316.8,236.1 317.5,234.1 C318.2,232.1 318.8,230.1 319.5,228.1 C320.2,226.1 320.8,224.1 321.5,222.1 C322.2,220.0 322.8,218.0 323.5,216.0 C324.2,214.0 324.8,212.0 325.5,210.0 C326.2,208.0 326.8,206.1 327.5,204.1 C328.2,202.2 328.8,200.3 329.5,198.5 C330.2,196.7 330.8,194.8 331.5,193.1 C332.2,191.4 332.8,189.7 333.5,188.0 C334.2,186.5 334.8,184.9 335.5,183.4 C336.2,182.0 336.8,180.6 337.5,179.3 C338.1,178.0 338.8,176.8 339.5,175.7 C340.1,174.6 340.8,173.6 341.5,172.7 C342.1,171.9 342.8,171.1 343.5,170.4 C344.1,169.8 344.8,169.3 345.5,168.8 C346.1,168.4 346.8,168.1 347.5,167.9 C348.2,167.7 348.8,167.6 349.5,167.7 C350.2,167.7 350.9,167.9 351.5,168.1 C352.2,168.3 352.9,168.7 353.5,169.2 C354.2,169.7 354.9,170.3 355.5,170.9 C356.2,171.7 356.9,172.5 357.5,173.3 C358.2,174.3 358.9,175.3 359.5,176.4 C360.2,177.6 360.9,178.8 361.5,180.1 C362.2,181.5 362.8,182.9 363.5,184.4 C364.2,186.0 364.8,187.6 365.5,189.2 C366.2,191.0 366.8,192.7 367.5,194.5 C368.2,196.4 368.8,198.3 369.5,200.2 C370.2,202.1 370.8,204.1 371.5,206.1 C372.2,208.2 372.8,210.2 373.5,212.3 C374.2,214.3 374.8,216.4 375.5,218.5 C376.2,220.6 376.8,222.7 377.5,224.8 C378.2,226.9 378.8,228.9 379.5,231.0 C380.2,233.0 380.8,235.1 381.5,237.1 C382.2,239.1 382.8,241.0 383.5,243.0 C384.2,244.9 384.8,246.7 385.5,248.6 C386.2,250.4 386.8,252.2 387.5,253.9 C388.2,255.5 388.8,257.2 389.5,258.8 C390.2,260.3 390.8,261.8 391.5,263.2 C392.1,264.5 392.8,265.8 393.5,267.0 C394.1,268.2 394.8,269.3 395.5,270.3 C396.1,271.2 396.8,272.0 397.5,272.8 C398.1,273.5 398.8,274.1 399.5,274.7 C400.1,275.1 400.8,275.5 401.5,275.8 C402.1,276.1 402.8,276.2 403.5,276.3 C404.2,276.3 404.8,276.2 405.5,276.1 C406.2,275.9 406.9,275.6 407.5,275.2 C408.2,274.8 408.9,274.2 409.5,273.6 C410.2,272.9 410.9,272.2 411.5,271.4 C412.2,270.5 412.9,269.5 413.5,268.4 C414.2,267.3 414.9,266.2 415.5,264.9 C416.2,263.6 416.8,262.3 417.5,260.9 C418.2,259.4 418.8,257.9 419.5,256.3 C420.2,254.7 420.8,253.1 421.5,251.4 C422.2,249.7 422.8,247.9 423.5,246.1 C424.2,244.3 424.8,242.5 425.5,240.6 C426.2,238.7 426.8,236.8 427.5,234.9 C428.2,232.9 428.8,230.9 429.5,229.0 C430.2,227.0 430.8,225.0 431.5,223.0 C432.2,221.0 432.8,219.0 433.5,217.1 C434.2,215.1 434.8,213.1 435.5,211.2 C436.2,209.2 436.8,207.3 437.5,205.4 C438.2,203.5 438.8,201.7 439.5,199.8 C440.2,198.1 440.8,196.3 441.5,194.5 C442.2,192.9 442.8,191.2 443.5,189.6 C444.2,188.0 444.8,186.5 445.5,185.0 C446.2,183.6 446.8,182.2 447.5,180.9 C448.1,179.7 448.8,178.4 449.5,177.3 C450.1,176.3 450.8,175.2 451.5,174.3 C452.1,173.4 452.8,172.6 453.5,171.9 C454.1,171.2 454.8,170.6 455.5,170.0 C456.1,169.6 456.8,169.1 457.5,168.8 C458.1,168.6 458.8,168.3 459.5,168.3 C460.2,168.2 460.8,168.2 461.5,168.4 C462.2,168.5 462.9,168.8 463.5,169.1 C464.2,169.5 464.9,170.0 465.5,170.6 C466.2,171.2 466.9,171.9 467.5,172.8 C468.2,173.6 468.9,174.6 469.5,175.6 C470.2,176.8 470.9,178.0 471.5,179.2 C472.2,180.5 472.8,181.9 473.5,183.4 C474.2,184.9 474.8,186.5 475.5,188.1 C476.2,189.7 476.8,191.5 477.5,193.2 C478.2,195.0 478.8,196.8 479.5,198.7 C480.2,200.6 480.8,202.5 481.5,204.5 C482.2,206.4 482.8,208.4 483.5,210.4 C484.2,212.5 484.8,214.5 485.5,216.5 C486.2,218.6 486.8,220.6 487.5,222.7 C488.2,224.7 488.8,226.8 489.5,228.8 C490.2,230.8 490.8,232.9 491.5,234.9 C492.2,236.8 492.8,238.8 493.5,240.7 C494.2,242.6 494.8,244.5 495.5,246.4 C496.2,248.2 496.8,250.0 497.5,251.7 C498.2,253.4 498.8,255.1 499.5,256.7 C500.2,258.3 500.8,259.8 501.5,261.2 C502.2,262.6 502.8,264.0 503.5,265.3 C504.1,266.5 504.8,267.7 505.5,268.7 C506.1,269.8 506.8,270.7 507.5,271.6 C508.1,272.4 508.8,273.1 509.5,273.7 C510.1,274.3 510.8,274.8 511.5,275.2 C512.1,275.5 512.8,275.8 513.5,275.9 C514.2,276.0 514.8,276.1 515.5,276.0 C516.2,275.9 516.9,275.6 517.5,275.3 C518.2,275.0 518.9,274.5 519.5,274.0 C520.2,273.4 520.9,272.7 521.5,271.9 C522.2,271.0 522.9,270.1 523.5,269.1 C524.2,268.0 524.9,266.8 525.5,265.6 C526.2,264.3 526.8,263.0 527.5,261.6 C528.2,260.1 528.8,258.6 529.5,257.0 C530.2,255.4 530.8,253.7 531.5,252.0 C532.2,250.2 532.8,248.4 533.5,246.5 C534.2,244.7 534.8,242.8 535.5,240.8 C536.2,238.9 536.8,236.9 537.5,234.9 C538.2,232.9 538.8,230.8 539.5,228.8 C540.2,226.8 540.8,224.7 541.5,222.6 C542.2,220.6 542.8,218.5 543.5,216.5 C544.2,214.4 544.8,212.4 545.5,210.4 C546.2,208.4 546.8,206.4 547.5,204.4 C548.2,202.5 548.8,200.6 549.5,198.7 C550.2,196.9 550.8,195.1 551.5,193.3 C552.2,191.6 552.8,189.9 553.5,188.2 C554.2,186.7 554.8,185.1 555.5,183.6 C556.2,182.2 556.8,180.9 557.5,179.6 C558.1,178.3 558.8,177.2 559.5,176.1 C560.1,175.1 560.8,174.1 561.5,173.2 C562.1,172.4 562.8,171.6 563.5,170.9 C564.1,170.3 564.8,169.7 565.5,169.3 C566.1,168.9 566.8,168.5 567.5,168.3 C568.2,168.1 568.8,167.9 569.5,167.9 C570.2,167.9 570.8,168.0 571.5,168.2 C572.2,168.4 572.9,168.8 573.5,169.2 C574.2,169.6 574.9,170.2 575.5,170.8 C576.2,171.5 576.9,172.3 577.5,173.2 C578.2,174.1 578.9,175.1 579.5,176.2 C580.2,177.3 580.9,178.5 581.5,179.8 C582.2,181.1 582.8,182.5 583.5,184.0 C584.2,185.5 584.8,187.1 585.5,188.6 C586.2,190.3 586.8,192.0 587.5,193.7 C588.2,195.5 588.8,197.3 589.5,199.1 C590.2,201.0 590.8,202.9 591.5,204.8 C592.2,206.7 592.8,208.7 593.5,210.6 C594.2,212.6 594.8,214.6 595.5,216.6 C596.2,218.6 596.8,220.7 597.5,222.7 C598.2,224.7 598.8,226.7 599.5,228.7 C600.2,230.7 600.8,232.7 601.5,234.7 C602.2,236.7 602.8,238.6 603.5,240.5 C604.2,242.4 604.8,244.3 605.5,246.1 C606.2,247.9 606.8,249.7 607.5,251.5 C608.2,253.2 608.8,254.8 609.5,256.5 C610.2,258.0 610.8,259.5 611.5,261.0 C612.2,262.4 612.8,263.8 613.5,265.1 C614.1,266.3 614.8,267.5 615.5,268.6 C616.1,269.6 616.8,270.6 617.5,271.5 C618.1,272.4 618.8,273.2 619.5,273.9 C620.1,274.5 620.8,275.1 621.5,275.6 C622.1,276.0 622.8,276.4 623.5,276.7 C624.1,276.9 624.8,277.0 625.5,277.1 C626.2,277.1 626.8,277.0 627.5,276.8 C628.2,276.5 628.9,276.2 629.5,275.7 C630.2,275.3 630.9,274.6 631.5,274.0 C632.2,273.3 632.9,272.4 633.5,271.5 C634.2,270.6 634.9,269.5 635.5,268.5 C636.2,267.3 636.9,266.1 637.5,264.8 C638.2,263.5 638.8,262.1 639.5,260.6 C640.2,259.1 640.8,257.6 641.5,256.0 C642.2,254.3 642.8,252.6 643.5,250.9 C644.2,249.2 644.8,247.3 645.5,245.5 C646.2,243.6 646.8,241.7 647.5,239.8 C648.2,237.8 648.8,235.9 649.5,233.9 C650.2,231.8 650.8,229.8 651.5,227.7 C652.2,225.6 652.8,223.6 653.5,221.5 C654.2,219.4 654.8,217.3 655.5,215.2 C656.2,213.2 656.8,211.1 657.5,209.0 C658.2,207.0 658.8,205.0 659.5,203.0 C660.2,201.1 660.8,199.2 661.5,197.3 C662.2,195.4 662.8,193.6 663.5,191.8 C664.2,190.1 664.8,188.4 665.5,186.8 C666.2,185.3 666.8,183.8 667.5,182.3 C668.2,180.9 668.8,179.6 669.5,178.3 C670.1,177.1 670.8,176.0 671.5,174.9 C672.1,173.9 672.8,172.9 673.5,172.0 C674.1,171.2 674.8,170.4 675.5,169.8 C676.1,169.2 676.8,168.6 677.5,168.2 C678.1,167.8 678.8,167.4 679.5,167.2 C680.2,167.1 680.8,167.0 681.5,167.0 C682.2,167.0 682.9,167.2 683.5,167.5 C684.2,167.8 684.9,168.2 685.5,168.7 C686.2,169.3 686.9,169.9 687.5,170.7 C688.2,171.5 688.9,172.4 689.5,173.3 C690.2,174.4 690.9,175.5 691.5,176.6 C692.2,177.9 692.8,179.2 693.5,180.5 C694.2,181.9 694.8,183.4 695.5,184.9 C696.2,186.5 696.8,188.1 697.5,189.8 C698.2,191.5 698.8,193.2 699.5,195.0 C700.2,196.8 700.8,198.7 701.5,200.6 C702.2,202.6 702.8,204.5 703.5,206.5 C704.2,208.5 704.8,210.5 705.5,212.6 C706.2,214.6 706.8,216.7 707.5,218.8 C708.2,220.9 708.8,223.0 709.5,225.0 C710.2,227.1 710.8,229.2 711.5,231.3 C712.2,233.3 712.8,235.4 713.5,237.4 C714.2,239.4 714.8,241.4 715.5,243.3 C716.2,245.2 716.8,247.1 717.5,249.0 C718.2,250.8 718.8,252.6 719.5,254.3 C720.2,256.0 720.8,257.6 721.5,259.2 C722.2,260.7 722.8,262.2 723.5,263.6 C724.2,265.0 724.8,266.3 725.5,267.5 C726.1,268.6 726.8,269.8 727.5,270.8 C728.1,271.7 728.8,272.6 729.5,273.4 C730.1,274.1 730.8,274.8 731.5,275.4 C732.1,275.8 732.8,276.3 733.5,276.5 C734.1,276.8 735.1,276.9 735.5,276.9 C735.7,276.9 735.8,276.8 736.0,276.8" fill="none" stroke="#ff0000" stroke-width="1.35" stroke-dasharray="3.3 1.5" stroke-linejoin="round" clip-path="url(#c0)"/>
<line x1="571.0" y1="39.6" x2="604.0" y2="39.6" stroke="#0000ff" stroke-width="1.35" stroke-dasharray="3.6 1.2 1.1 1.3"/><text x="608.0" y="44.7" class="lg">V - type</text>
<line x1="571.0" y1="66.6" x2="604.0" y2="66.6" stroke="#1a8a1a" stroke-width="1.4"/><text x="608.0" y="71.8" class="lg">X - type</text>
<line x1="571.0" y1="94.1" x2="604.0" y2="94.1" stroke="#000000" stroke-width="1.3" stroke-dasharray="1.2 1.2"/><text x="608.0" y="99.4" class="lg">O - type</text>
<line x1="571.0" y1="122.4" x2="604.0" y2="122.4" stroke="#ff0000" stroke-width="1.35" stroke-dasharray="3.3 1.5"/><text x="608.0" y="128.9" class="lg"><tspan class="lam">Λ</tspan> - type</text>
<line x1="47.5" y1="656.3" x2="47.5" y2="649.3" class="tk"/><line x1="47.5" y1="365.5" x2="47.5" y2="372.5" class="tk"/><circle cx="47.5" cy="649.3" r="0.6" class="td"/><circle cx="47.5" cy="372.5" r="0.6" class="td"/><line x1="174.3" y1="656.3" x2="174.3" y2="649.3" class="tk"/><line x1="174.3" y1="365.5" x2="174.3" y2="372.5" class="tk"/><circle cx="174.3" cy="649.3" r="0.6" class="td"/><circle cx="174.3" cy="372.5" r="0.6" class="td"/><line x1="301.1" y1="656.3" x2="301.1" y2="649.3" class="tk"/><line x1="301.1" y1="365.5" x2="301.1" y2="372.5" class="tk"/><circle cx="301.1" cy="649.3" r="0.6" class="td"/><circle cx="301.1" cy="372.5" r="0.6" class="td"/><line x1="427.9" y1="656.3" x2="427.9" y2="649.3" class="tk"/><line x1="427.9" y1="365.5" x2="427.9" y2="372.5" class="tk"/><circle cx="427.9" cy="649.3" r="0.6" class="td"/><circle cx="427.9" cy="372.5" r="0.6" class="td"/><line x1="554.7" y1="656.3" x2="554.7" y2="649.3" class="tk"/><line x1="554.7" y1="365.5" x2="554.7" y2="372.5" class="tk"/><circle cx="554.7" cy="649.3" r="0.6" class="td"/><circle cx="554.7" cy="372.5" r="0.6" class="td"/><line x1="681.5" y1="656.3" x2="681.5" y2="649.3" class="tk"/><line x1="681.5" y1="365.5" x2="681.5" y2="372.5" class="tk"/><circle cx="681.5" cy="649.3" r="0.6" class="td"/><circle cx="681.5" cy="372.5" r="0.6" class="td"/><line x1="47.5" y1="365.5" x2="54.5" y2="365.5" class="tk"/><line x1="681.5" y1="365.5" x2="674.5" y2="365.5" class="tk"/><circle cx="54.5" cy="365.5" r="0.6" class="td"/><circle cx="674.5" cy="365.5" r="0.6" class="td"/><text x="45.5" y="369.1" class="yl">0.06</text><line x1="47.5" y1="438.2" x2="54.5" y2="438.2" class="tk"/><line x1="681.5" y1="438.2" x2="674.5" y2="438.2" class="tk"/><circle cx="54.5" cy="438.2" r="0.6" class="td"/><circle cx="674.5" cy="438.2" r="0.6" class="td"/><text x="45.5" y="441.8" class="yl">0.04</text><line x1="47.5" y1="510.9" x2="54.5" y2="510.9" class="tk"/><line x1="681.5" y1="510.9" x2="674.5" y2="510.9" class="tk"/><circle cx="54.5" cy="510.9" r="0.6" class="td"/><circle cx="674.5" cy="510.9" r="0.6" class="td"/><text x="45.5" y="514.5" class="yl">0.02</text><line x1="47.5" y1="583.6" x2="54.5" y2="583.6" class="tk"/><line x1="681.5" y1="583.6" x2="674.5" y2="583.6" class="tk"/><circle cx="54.5" cy="583.6" r="0.6" class="td"/><circle cx="674.5" cy="583.6" r="0.6" class="td"/><text x="45.5" y="587.2" class="yl">0</text><line x1="47.5" y1="656.3" x2="54.5" y2="656.3" class="tk"/><line x1="681.5" y1="656.3" x2="674.5" y2="656.3" class="tk"/><circle cx="54.5" cy="656.3" r="0.6" class="td"/><circle cx="674.5" cy="656.3" r="0.6" class="td"/><text x="45.5" y="659.9" class="yl">-0.02</text>
<text x="47.5" y="668.3" class="xl">0</text><text x="174.3" y="668.3" class="xl">0.6</text><text x="301.1" y="668.3" class="xl">1.2</text><text x="427.9" y="668.3" class="xl">1.8</text><text x="554.7" y="668.3" class="xl">2.4</text><text x="681.5" y="668.3" class="xl">3</text>
<line x1="47.0" y1="365.50" x2="682.0" y2="365.50" stroke="#c6c6c6" stroke-width="1.6"/><line x1="47.0" y1="656.50" x2="682.0" y2="656.50" stroke="#c2c2c2" stroke-width="1.6"/><line x1="47.50" y1="365.0" x2="47.50" y2="656.8" stroke="#999" stroke-width="1"/><line x1="681.80" y1="365.0" x2="681.80" y2="656.8" stroke="#d0d0d0" stroke-width="1.8"/>
<text x="72.5" y="635.3" class="ttl">S-C boundary conditions</text>
<text x="359.5" y="689.7" class="tl">t<tspan class="st" dx="0.6" dy="-12.6">&#9733;</tspan></text>
<text transform="translate(14,518.9) rotate(-90)" class="wl">w<tspan class="st2" dx="-0.5" dy="-11">&#9733;</tspan></text>
<path d="M47.5,583.7 C48.2,583.6 48.8,583.4 49.5,583.4 C50.2,583.3 50.8,583.5 51.5,583.6 C52.2,583.7 52.8,584.0 53.5,584.1 C54.2,584.3 54.8,584.5 55.5,584.7 C56.2,584.8 56.8,585.0 57.5,585.0 C58.2,585.0 58.9,584.9 59.5,584.7 C60.2,584.5 60.9,584.1 61.5,583.6 C62.2,583.1 62.9,582.3 63.5,581.5 C64.2,580.5 64.9,579.2 65.5,578.0 C66.2,576.6 66.9,575.0 67.5,573.4 C68.2,571.7 68.8,569.8 69.5,568.0 C70.2,566.1 70.8,564.1 71.5,562.1 C72.2,560.2 72.8,558.2 73.5,556.1 C74.2,554.1 74.8,552.1 75.5,550.0 C76.2,548.0 76.8,545.9 77.5,543.7 C78.2,541.6 78.8,539.4 79.5,537.2 C80.2,534.9 80.8,532.6 81.5,530.2 C82.2,527.8 82.8,525.4 83.5,522.9 C84.2,520.3 84.8,517.7 85.5,515.0 C86.2,512.3 86.8,509.5 87.5,506.7 C88.2,504.0 88.8,501.2 89.5,498.4 C90.2,495.7 90.8,493.0 91.5,490.3 C92.2,487.8 92.8,485.2 93.5,482.8 C94.2,480.4 94.8,478.1 95.5,475.9 C96.2,473.8 96.8,471.7 97.5,469.7 C98.1,467.8 98.8,465.9 99.5,464.2 C100.1,462.5 100.8,460.9 101.5,459.4 C102.1,457.9 102.8,456.6 103.5,455.3 C104.1,454.1 104.8,453.0 105.5,452.0 C106.1,451.0 106.8,450.1 107.5,449.3 C108.1,448.5 108.8,447.8 109.5,447.1 C110.2,446.5 110.8,445.9 111.5,445.3 C112.2,444.7 112.8,444.1 113.5,443.6 C114.1,443.1 114.8,442.6 115.5,442.4 C116.1,442.1 116.8,442.0 117.5,442.1 C118.2,442.2 118.9,442.6 119.5,443.0 C120.2,443.4 120.8,444.1 121.5,444.6 C122.2,445.2 122.8,445.9 123.5,446.4 C124.1,446.8 124.8,447.2 125.5,447.5 C126.1,447.8 126.8,448.0 127.5,448.1 C128.2,448.2 128.8,448.1 129.5,448.1 C130.2,448.0 130.8,447.8 131.5,447.6 C132.2,447.4 132.8,447.1 133.5,446.8 C134.2,446.5 134.8,446.1 135.5,445.7 C136.2,445.3 136.8,444.9 137.5,444.5 C138.2,444.0 138.8,443.6 139.5,443.2 C140.2,442.7 140.8,442.3 141.5,441.8 C142.2,441.4 142.8,440.9 143.5,440.4 C144.2,439.9 144.9,439.3 145.5,438.7 C146.2,438.0 146.9,437.3 147.5,436.6 C148.2,435.7 148.9,434.8 149.5,433.8 C150.2,432.8 150.9,431.6 151.5,430.4 C152.2,429.1 152.8,427.8 153.5,426.4 C154.2,425.0 154.8,423.5 155.5,422.1 C156.2,420.7 156.8,419.2 157.5,417.8 C158.2,416.4 158.8,415.1 159.5,413.8 C160.2,412.5 160.8,411.3 161.5,410.2 C162.1,409.2 162.8,408.2 163.5,407.3 C164.1,406.6 164.8,405.8 165.5,405.3 C166.1,404.8 166.8,404.5 167.5,404.3 C168.1,404.1 168.8,404.2 169.5,404.3 C170.2,404.4 170.8,404.7 171.5,405.0 C172.2,405.3 172.8,405.7 173.5,406.1 C174.2,406.4 174.8,406.8 175.5,407.2 C176.2,407.6 176.9,407.9 177.5,408.3 C178.2,408.8 178.9,409.3 179.5,410.0 C180.2,410.8 180.9,411.8 181.5,412.9 C182.2,414.1 182.9,415.7 183.5,417.3 C184.2,419.2 184.9,421.3 185.5,423.4 C186.2,425.7 186.8,428.1 187.5,430.6 C188.2,433.2 188.8,435.9 189.5,438.5 C190.2,441.3 190.8,444.1 191.5,446.9 C192.2,449.7 192.8,452.5 193.5,455.4 C194.2,458.2 194.8,461.1 195.5,463.9 C196.2,466.6 196.8,469.4 197.5,472.2 C198.2,474.8 198.8,477.5 199.5,480.1 C200.2,482.7 200.8,485.3 201.5,487.8 C202.2,490.3 202.8,492.7 203.5,495.1 C204.2,497.5 204.8,499.8 205.5,502.1 C206.2,504.3 206.8,506.5 207.5,508.7 C208.2,510.8 208.8,512.8 209.5,514.8 C210.2,516.8 210.8,518.7 211.5,520.6 C212.2,522.4 212.8,524.2 213.5,525.9 C214.1,527.5 214.8,529.0 215.5,530.5 C216.1,531.9 216.8,533.2 217.5,534.4 C218.1,535.5 218.8,536.6 219.5,537.5 C220.1,538.3 220.8,539.0 221.5,539.6 C222.1,540.1 222.8,540.5 223.5,540.7 C224.1,540.9 224.8,540.9 225.5,541.0 C226.2,541.0 226.8,540.9 227.5,540.9 C228.2,540.9 228.8,541.0 229.5,541.0 C230.2,541.1 230.8,541.2 231.5,541.3 C232.2,541.3 232.8,541.4 233.5,541.4 C234.2,541.4 234.8,541.4 235.5,541.3 C236.2,541.3 236.8,541.1 237.5,541.0 C238.2,540.9 238.8,540.8 239.5,540.6 C240.2,540.5 240.8,540.4 241.5,540.3 C242.2,540.2 242.8,540.1 243.5,540.1 C244.2,540.1 244.8,540.1 245.5,540.2 C246.2,540.2 246.8,540.4 247.5,540.6 C248.2,540.9 248.9,541.2 249.5,541.6 C250.2,542.1 250.9,542.6 251.5,543.3 C252.2,544.0 252.9,544.8 253.5,545.7 C254.2,546.7 254.9,547.8 255.5,549.0 C256.2,550.3 256.9,551.8 257.5,553.3 C258.2,554.9 258.9,556.7 259.5,558.5 C260.2,560.5 260.8,562.5 261.5,564.6 C262.2,566.8 262.8,569.1 263.5,571.4 C264.2,573.8 264.8,576.3 265.5,578.8 C266.2,581.4 266.8,584.1 267.5,586.8 C268.2,589.5 268.8,592.3 269.5,595.1 C270.2,597.9 270.8,600.8 271.5,603.6 C272.2,606.2 272.8,608.9 273.5,611.3 C274.1,613.5 274.8,615.6 275.5,617.6 C276.1,619.3 276.8,621.0 277.5,622.4 C278.1,623.7 278.8,624.9 279.5,625.8 C280.1,626.5 280.8,627.3 281.5,627.6 C282.1,627.9 282.9,628.1 283.5,628.0 C284.2,627.9 284.9,627.4 285.5,626.9 C286.2,626.3 286.9,625.5 287.5,624.6 C288.2,623.6 288.9,622.4 289.5,621.1 C290.2,619.8 290.9,618.3 291.5,616.8 C292.2,615.1 292.8,613.4 293.5,611.6 C294.2,609.7 294.8,607.8 295.5,605.8 C296.2,603.7 296.8,601.6 297.5,599.5 C298.2,597.3 298.8,595.1 299.5,592.9 C300.2,590.6 300.8,588.4 301.5,586.1 C302.2,583.8 302.8,581.5 303.5,579.3 C304.2,577.0 304.8,574.8 305.5,572.6 C306.2,570.4 306.8,568.2 307.5,566.1 C308.2,564.1 308.8,562.1 309.5,560.2 C310.2,558.3 310.8,556.5 311.5,554.7 C312.1,553.1 312.8,551.5 313.5,550.1 C314.1,548.7 314.8,547.4 315.5,546.3 C316.1,545.2 316.8,544.3 317.5,543.5 C318.1,542.8 318.8,542.2 319.5,541.9 C320.1,541.6 320.8,541.4 321.5,541.4 C322.2,541.4 322.9,541.7 323.5,542.0 C324.2,542.4 324.9,543.0 325.5,543.6 C326.2,544.3 326.9,545.2 327.5,546.1 C328.2,547.2 328.9,548.3 329.5,549.5 C330.2,550.9 330.9,552.3 331.5,553.8 C332.2,555.3 332.9,557.0 333.5,558.7 C334.2,560.5 334.8,562.4 335.5,564.3 C336.2,566.3 336.8,568.4 337.5,570.5 C338.2,572.6 338.8,574.8 339.5,577.0 C340.2,579.2 340.8,581.4 341.5,583.7 C342.2,585.9 342.8,588.2 343.5,590.4 C344.2,592.6 344.8,594.8 345.5,597.0 C346.2,599.1 346.8,601.2 347.5,603.3 C348.2,605.3 348.8,607.2 349.5,609.1 C350.2,610.9 350.8,612.7 351.5,614.3 C352.1,615.9 352.8,617.4 353.5,618.8 C354.1,620.0 354.8,621.2 355.5,622.3 C356.1,623.2 356.8,624.1 357.5,624.8 C358.1,625.4 358.8,625.9 359.5,626.2 C360.1,626.5 360.8,626.7 361.5,626.6 C362.2,626.6 362.9,626.3 363.5,625.9 C364.2,625.4 364.9,624.7 365.5,624.0 C366.2,623.1 366.9,622.0 367.5,620.9 C368.2,619.6 368.9,618.1 369.5,616.5 C370.2,614.8 370.9,612.8 371.5,610.9 C372.2,608.8 372.8,606.5 373.5,604.3 C374.2,601.9 374.8,599.4 375.5,596.9 C376.2,594.3 376.8,591.7 377.5,589.1 C378.2,586.4 378.8,583.7 379.5,581.0 C380.2,578.3 380.8,575.6 381.5,573.0 C382.2,570.4 382.8,567.8 383.5,565.3 C384.2,562.8 384.8,560.4 385.5,558.1 C386.1,556.0 386.8,553.8 387.5,551.9 C388.1,550.0 388.8,548.3 389.5,546.7 C390.1,545.3 390.8,543.9 391.5,542.8 C392.1,541.8 392.8,540.8 393.5,540.1 C394.1,539.5 394.8,539.0 395.5,538.7 C396.1,538.5 396.9,538.5 397.5,538.6 C398.2,538.7 398.9,539.1 399.5,539.6 C400.2,540.2 400.9,541.0 401.5,541.9 C402.2,542.8 402.9,544.0 403.5,545.2 C404.2,546.6 404.9,548.2 405.5,549.8 C406.2,551.5 406.9,553.4 407.5,555.4 C408.2,557.4 408.8,559.6 409.5,561.8 C410.2,564.1 410.8,566.5 411.5,568.9 C412.2,571.4 412.8,573.9 413.5,576.4 C414.2,579.0 414.8,581.6 415.5,584.2 C416.2,586.7 416.8,589.3 417.5,591.9 C418.2,594.4 418.8,596.9 419.5,599.3 C420.2,601.7 420.8,604.1 421.5,606.4 C422.2,608.5 422.8,610.7 423.5,612.7 C424.1,614.6 424.8,616.5 425.5,618.2 C426.1,619.8 426.8,621.3 427.5,622.7 C428.1,623.9 428.8,625.0 429.5,625.9 C430.1,626.8 430.8,627.5 431.5,628.0 C432.1,628.5 432.8,628.8 433.5,628.9 C434.2,628.9 434.9,628.8 435.5,628.4 C436.2,628.1 436.9,627.4 437.5,626.7 C438.2,625.8 438.9,624.7 439.5,623.6 C440.2,622.3 440.9,620.8 441.5,619.3 C442.2,617.6 442.9,615.7 443.5,613.8 C444.2,611.8 444.8,609.7 445.5,607.5 C446.2,605.2 446.8,602.8 447.5,600.4 C448.2,597.9 448.8,595.4 449.5,592.8 C450.2,590.2 450.8,587.6 451.5,584.9 C452.2,582.3 452.8,579.7 453.5,577.1 C454.2,574.5 454.8,571.9 455.5,569.5 C456.2,567.0 456.8,564.6 457.5,562.3 C458.2,560.2 458.8,558.0 459.5,556.0 C460.1,554.1 460.8,552.2 461.5,550.5 C462.1,549.0 462.8,547.5 463.5,546.1 C464.1,545.0 464.8,543.9 465.5,543.0 C466.1,542.2 466.8,541.5 467.5,541.1 C468.1,540.8 468.8,540.5 469.5,540.5 C470.2,540.5 470.9,540.8 471.5,541.1 C472.2,541.5 472.9,542.1 473.5,542.7 C474.2,543.5 474.9,544.4 475.5,545.4 C476.2,546.4 476.9,547.6 477.5,548.9 C478.2,550.2 478.9,551.7 479.5,553.2 C480.2,554.8 480.8,556.5 481.5,558.2 C482.2,560.0 482.8,561.9 483.5,563.9 C484.2,565.8 484.8,567.9 485.5,570.0 C486.2,572.1 486.8,574.2 487.5,576.4 C488.2,578.5 488.8,580.7 489.5,582.9 C490.2,585.1 490.8,587.3 491.5,589.5 C492.2,591.7 492.8,593.8 493.5,596.0 C494.2,598.0 494.8,600.1 495.5,602.1 C496.2,604.1 496.8,606.0 497.5,607.8 C498.2,609.6 498.8,611.3 499.5,613.0 C500.1,614.5 500.8,616.0 501.5,617.3 C502.1,618.6 502.8,619.8 503.5,620.8 C504.1,621.8 504.8,622.7 505.5,623.4 C506.1,624.0 506.8,624.6 507.5,625.0 C508.1,625.3 508.8,625.6 509.5,625.6 C510.2,625.7 510.9,625.5 511.5,625.3 C512.2,625.0 512.9,624.4 513.5,623.9 C514.2,623.2 514.9,622.4 515.5,621.5 C516.2,620.4 516.9,619.2 517.5,618.0 C518.2,616.6 518.9,615.1 519.5,613.5 C520.2,611.7 520.9,609.9 521.5,608.0 C522.2,606.0 522.8,603.8 523.5,601.7 C524.2,599.5 524.8,597.2 525.5,594.9 C526.2,592.6 526.8,590.2 527.5,587.8 C528.2,585.3 528.8,582.9 529.5,580.5 C530.2,578.0 530.8,575.6 531.5,573.2 C532.2,570.9 532.8,568.5 533.5,566.3 C534.2,564.1 534.8,561.9 535.5,559.8 C536.2,557.8 536.8,555.8 537.5,553.9 C538.1,552.2 538.8,550.5 539.5,549.0 C540.1,547.6 540.8,546.3 541.5,545.1 C542.1,544.1 542.8,543.1 543.5,542.3 C544.1,541.6 544.8,541.0 545.5,540.6 C546.1,540.3 546.8,540.0 547.5,540.0 C548.2,540.0 548.9,540.2 549.5,540.6 C550.2,540.9 550.9,541.5 551.5,542.2 C552.2,543.0 552.9,544.0 553.5,545.0 C554.2,546.2 554.9,547.5 555.5,549.0 C556.2,550.5 556.9,552.3 557.5,554.1 C558.2,556.0 558.9,558.0 559.5,560.1 C560.2,562.3 560.8,564.7 561.5,567.0 C562.2,569.4 562.8,571.9 563.5,574.4 C564.2,576.9 564.8,579.5 565.5,582.0 C566.2,584.6 566.8,587.2 567.5,589.8 C568.2,592.4 568.8,594.9 569.5,597.4 C570.2,599.9 570.8,602.3 571.5,604.7 C572.2,606.9 572.8,609.2 573.5,611.3 C574.1,613.3 574.8,615.3 575.5,617.1 C576.1,618.8 576.8,620.4 577.5,621.8 C578.1,623.1 578.8,624.4 579.5,625.4 C580.1,626.3 580.8,627.2 581.5,627.8 C582.1,628.4 582.8,628.8 583.5,629.0 C584.1,629.2 584.9,629.2 585.5,629.0 C586.2,628.8 586.9,628.3 587.5,627.7 C588.2,627.1 588.9,626.2 589.5,625.2 C590.2,624.1 590.9,622.8 591.5,621.4 C592.2,619.9 592.9,618.1 593.5,616.3 C594.2,614.4 594.9,612.3 595.5,610.1 C596.2,607.9 596.8,605.5 597.5,603.0 C598.2,600.5 598.8,597.9 599.5,595.3 C600.2,592.7 600.8,590.0 601.5,587.3 C602.2,584.6 602.8,581.8 603.5,579.1 C604.2,576.5 604.8,573.8 605.5,571.2 C606.2,568.7 606.8,566.1 607.5,563.7 C608.2,561.4 608.8,559.1 609.5,556.9 C610.1,554.9 610.8,552.9 611.5,551.1 C612.1,549.5 612.8,547.9 613.5,546.5 C614.1,545.3 614.8,544.1 615.5,543.2 C616.1,542.4 616.8,541.6 617.5,541.1 C618.1,540.7 618.8,540.4 619.5,540.3 C620.2,540.2 620.9,540.4 621.5,540.6 C622.2,540.9 622.9,541.5 623.5,542.2 C624.2,542.9 624.9,543.8 625.5,544.8 C626.2,545.9 626.9,547.2 627.5,548.6 C628.2,550.1 628.9,551.7 629.5,553.4 C630.2,555.2 630.8,557.2 631.5,559.1 C632.2,561.2 632.8,563.3 633.5,565.5 C634.2,567.7 634.8,570.0 635.5,572.4 C636.2,574.7 636.8,577.1 637.5,579.5 C638.2,581.9 638.8,584.3 639.5,586.7 C640.2,589.1 640.8,591.4 641.5,593.8 C642.2,596.1 642.8,598.3 643.5,600.5 C644.2,602.7 644.8,604.8 645.5,606.8 C646.1,608.7 646.8,610.6 647.5,612.4 C648.1,614.0 648.8,615.6 649.5,617.1 C650.1,618.4 650.8,619.8 651.5,620.9 C652.1,622.0 652.8,623.0 653.5,623.8 C654.1,624.6 654.8,625.3 655.5,625.8 C656.1,626.2 656.8,626.5 657.5,626.6 C658.2,626.7 658.9,626.6 659.5,626.4 C660.2,626.1 660.9,625.6 661.5,625.0 C662.2,624.3 662.9,623.4 663.5,622.4 C664.2,621.3 664.9,620.1 665.5,618.8 C666.2,617.4 666.9,615.8 667.5,614.2 C668.2,612.5 668.8,610.7 669.5,608.9 C670.2,606.9 670.8,604.9 671.5,602.9 C672.2,600.8 672.8,598.7 673.5,596.5 C674.2,594.3 674.8,592.0 675.5,589.8 C676.2,587.5 676.8,585.2 677.5,582.9 C678.2,580.7 678.8,578.4 679.5,576.1 C680.2,573.8 680.8,571.6 681.5,569.4 C682.2,567.3 682.8,565.1 683.5,563.0 C684.2,561.0 684.8,559.0 685.5,557.1 C686.2,555.3 686.8,553.6 687.5,551.9 C688.1,550.3 688.8,548.8 689.5,547.4 C690.1,546.1 690.8,544.9 691.5,543.9 C692.1,542.9 692.8,542.0 693.5,541.4 C694.1,540.9 694.9,540.4 695.5,540.2 C696.0,540.1 696.5,540.2 697.0,540.2" fill="none" stroke="#0000ff" stroke-width="1.35" stroke-dasharray="3.6 1.2 1.1 1.3" stroke-linejoin="round" clip-path="url(#c1)"/>
<path d="M47.5,583.7 C48.2,583.6 48.8,583.4 49.5,583.3 C50.2,583.3 50.8,583.5 51.5,583.6 C52.2,583.8 52.8,584.0 53.5,584.2 C54.2,584.4 54.8,584.7 55.5,584.8 C56.2,584.9 56.8,585.0 57.5,585.0 C58.2,585.0 58.9,584.8 59.5,584.6 C60.2,584.3 60.9,583.8 61.5,583.3 C62.2,582.7 62.9,581.9 63.5,581.1 C64.2,580.2 64.9,579.2 65.5,578.1 C66.2,576.8 66.9,575.4 67.5,573.9 C68.2,572.2 68.9,570.3 69.5,568.5 C70.2,566.4 70.8,564.3 71.5,562.2 C72.2,560.1 72.8,557.9 73.5,555.9 C74.2,554.0 74.8,552.0 75.5,550.2 C76.1,548.5 76.8,546.9 77.5,545.3 C78.2,543.6 78.9,542.0 79.5,540.3 C80.2,538.5 80.9,536.6 81.5,534.6 C82.2,532.4 82.8,530.0 83.5,527.6 C84.2,525.1 84.8,522.5 85.5,520.0 C86.2,517.5 86.8,515.0 87.5,512.6 C88.2,510.2 88.8,507.9 89.5,505.7 C90.2,503.6 90.8,501.5 91.5,499.5 C92.1,497.7 92.8,495.9 93.5,494.3 C94.1,492.8 94.8,491.3 95.5,490.0 C96.1,488.8 96.8,487.7 97.5,486.7 C98.1,485.8 98.8,484.9 99.5,484.2 C100.1,483.4 100.8,482.7 101.5,482.1 C102.2,481.4 102.8,480.9 103.5,480.3 C104.2,479.7 104.8,479.1 105.5,478.5 C106.2,478.0 106.8,477.4 107.5,476.9 C108.2,476.4 108.8,475.9 109.5,475.5 C110.1,475.2 110.8,474.9 111.5,474.8 C112.2,474.6 112.8,474.7 113.5,474.8 C114.2,475.0 114.8,475.3 115.5,475.7 C116.2,476.0 116.8,476.5 117.5,476.9 C118.2,477.3 118.8,477.7 119.5,478.1 C120.2,478.4 120.8,478.7 121.5,478.9 C122.2,479.0 122.8,479.0 123.5,478.9 C124.2,478.8 124.9,478.5 125.5,478.2 C126.2,477.8 126.9,477.3 127.5,476.8 C128.2,476.3 128.8,475.6 129.5,475.0 C130.2,474.3 130.8,473.6 131.5,472.9 C132.2,472.1 132.8,471.4 133.5,470.6 C134.2,469.8 134.8,469.0 135.5,468.2 C136.2,467.4 136.8,466.5 137.5,465.6 C138.2,464.6 138.9,463.7 139.5,462.6 C140.2,461.5 140.9,460.3 141.5,459.1 C142.2,457.8 142.8,456.4 143.5,455.0 C144.2,453.5 144.8,452.0 145.5,450.5 C146.2,449.0 146.8,447.4 147.5,445.9 C148.2,444.4 148.8,442.8 149.5,441.4 C150.2,439.9 150.8,438.5 151.5,437.2 C152.2,435.9 152.8,434.6 153.5,433.4 C154.1,432.3 154.8,431.2 155.5,430.3 C156.1,429.4 156.8,428.5 157.5,427.8 C158.1,427.1 158.8,426.5 159.5,426.0 C160.1,425.6 160.8,425.2 161.5,425.0 C162.2,424.8 162.8,424.7 163.5,424.7 C164.2,424.7 164.8,424.8 165.5,425.0 C166.2,425.2 166.9,425.5 167.5,425.9 C168.2,426.3 168.9,426.9 169.5,427.5 C170.2,428.1 170.9,428.9 171.5,429.8 C172.2,430.8 172.9,431.8 173.5,433.0 C174.2,434.2 174.9,435.6 175.5,437.1 C176.2,438.7 176.9,440.4 177.5,442.2 C178.2,444.2 178.9,446.2 179.5,448.4 C180.2,450.8 180.8,453.3 181.5,455.8 C182.2,458.5 182.8,461.3 183.5,463.9 C184.2,466.5 184.8,469.1 185.5,471.5 C186.1,473.8 186.8,475.9 187.5,477.9 C188.2,479.9 188.8,481.8 189.5,483.8 C190.2,485.7 190.8,487.7 191.5,489.6 C192.2,491.7 192.8,493.8 193.5,495.8 C194.2,497.9 194.8,499.9 195.5,502.0 C196.2,503.9 196.8,505.9 197.5,507.8 C198.2,509.6 198.8,511.4 199.5,513.0 C200.1,514.5 200.8,516.0 201.5,517.3 C202.1,518.5 202.8,519.7 203.5,520.6 C204.1,521.5 204.8,522.2 205.5,522.8 C206.1,523.2 206.8,523.5 207.5,523.8 C208.2,524.0 208.8,524.0 209.5,524.1 C210.2,524.2 210.8,524.3 211.5,524.3 C212.2,524.4 212.8,524.5 213.5,524.6 C214.2,524.6 214.8,524.7 215.5,524.8 C216.2,524.8 216.8,524.9 217.5,524.9 C218.2,524.9 218.8,524.9 219.5,524.9 C220.2,524.9 220.8,524.8 221.5,524.8 C222.2,524.7 222.8,524.6 223.5,524.5 C224.2,524.4 224.8,524.3 225.5,524.2 C226.2,524.0 226.8,523.9 227.5,523.7 C228.2,523.5 228.8,523.3 229.5,523.2 C230.2,523.1 230.9,523.0 231.5,523.2 C232.2,523.4 232.9,523.8 233.5,524.4 C234.2,525.0 234.9,525.9 235.5,526.8 C236.2,527.9 236.9,529.1 237.5,530.4 C238.2,531.7 238.9,533.2 239.5,534.7 C240.2,536.3 240.8,538.0 241.5,539.7 C242.2,541.5 242.8,543.3 243.5,545.1 C244.2,547.0 244.8,548.8 245.5,550.7 C246.2,552.6 246.8,554.6 247.5,556.5 C248.2,558.4 248.8,560.3 249.5,562.2 C250.2,564.0 250.8,565.9 251.5,567.7 C252.2,569.5 252.8,571.3 253.5,573.1 C254.2,575.0 254.8,576.8 255.5,578.8 C256.2,580.8 256.9,582.9 257.5,585.0 C258.2,587.4 258.8,589.8 259.5,592.3 C260.2,594.9 260.8,597.6 261.5,600.2 C262.2,602.8 262.8,605.4 263.5,607.8 C264.1,609.9 264.8,612.0 265.5,613.8 C266.1,615.4 266.8,616.9 267.5,618.1 C268.1,619.2 268.8,620.1 269.5,620.8 C270.1,621.4 270.8,621.9 271.5,622.2 C272.1,622.4 272.8,622.5 273.5,622.4 C274.2,622.4 274.9,622.1 275.5,621.7 C276.2,621.3 276.9,620.7 277.5,620.0 C278.2,619.3 278.9,618.3 279.5,617.2 C280.2,616.1 280.9,614.7 281.5,613.3 C282.2,611.7 282.9,610.0 283.5,608.3 C284.2,606.5 284.8,604.5 285.5,602.5 C286.2,600.4 286.8,598.2 287.5,596.0 C288.2,593.7 288.8,591.3 289.5,589.0 C290.2,586.6 290.8,584.1 291.5,581.7 C292.2,579.3 292.8,576.8 293.5,574.4 C294.2,572.1 294.8,569.7 295.5,567.4 C296.2,565.2 296.8,563.0 297.5,560.9 C298.1,559.0 298.8,557.0 299.5,555.2 C300.1,553.6 300.8,552.0 301.5,550.6 C302.1,549.3 302.8,548.1 303.5,547.2 C304.1,546.4 304.8,545.7 305.5,545.3 C306.1,545.0 306.8,544.8 307.5,544.9 C308.2,544.9 308.9,545.3 309.5,545.7 C310.2,546.2 310.9,546.9 311.5,547.7 C312.2,548.6 312.9,549.7 313.5,550.8 C314.2,552.0 314.9,553.4 315.5,554.8 C316.2,556.3 316.9,557.9 317.5,559.6 C318.2,561.4 318.8,563.2 319.5,565.1 C320.2,567.1 320.8,569.1 321.5,571.1 C322.2,573.3 322.8,575.4 323.5,577.6 C324.2,579.9 324.8,582.1 325.5,584.4 C326.2,586.7 326.8,589.0 327.5,591.2 C328.2,593.5 328.8,595.7 329.5,597.9 C330.2,600.1 330.8,602.2 331.5,604.3 C332.2,606.3 332.8,608.2 333.5,610.0 C334.1,611.8 334.8,613.4 335.5,615.0 C336.1,616.4 336.8,617.8 337.5,618.9 C338.1,619.9 338.8,620.9 339.5,621.6 C340.1,622.2 340.8,622.7 341.5,622.9 C342.1,623.1 342.9,623.1 343.5,622.9 C344.2,622.7 344.9,622.2 345.5,621.6 C346.2,621.0 346.9,620.1 347.5,619.2 C348.2,618.1 348.9,616.9 349.5,615.6 C350.2,614.1 350.9,612.6 351.5,610.9 C352.2,609.2 352.9,607.3 353.5,605.4 C354.2,603.4 354.8,601.3 355.5,599.2 C356.2,597.0 356.8,594.7 357.5,592.4 C358.2,590.1 358.8,587.8 359.5,585.4 C360.2,583.1 360.8,580.7 361.5,578.4 C362.2,576.0 362.8,573.7 363.5,571.4 C364.2,569.2 364.8,567.0 365.5,564.9 C366.2,562.8 366.8,560.8 367.5,558.9 C368.1,557.1 368.8,555.3 369.5,553.6 C370.1,552.1 370.8,550.6 371.5,549.4 C372.1,548.2 372.8,547.1 373.5,546.3 C374.1,545.6 374.8,544.9 375.5,544.5 C376.1,544.2 376.8,544.1 377.5,544.1 C378.2,544.2 378.9,544.6 379.5,545.0 C380.2,545.5 380.9,546.3 381.5,547.2 C382.2,548.1 382.9,549.3 383.5,550.5 C384.2,551.9 384.9,553.5 385.5,555.1 C386.2,556.9 386.9,558.8 387.5,560.7 C388.2,562.8 388.8,565.0 389.5,567.2 C390.2,569.5 390.8,571.9 391.5,574.3 C392.2,576.7 392.8,579.1 393.5,581.6 C394.2,584.0 394.8,586.5 395.5,588.9 C396.2,591.2 396.8,593.6 397.5,595.9 C398.2,598.1 398.8,600.3 399.5,602.5 C400.2,604.5 400.8,606.5 401.5,608.5 C402.1,610.3 402.8,612.0 403.5,613.7 C404.1,615.2 404.8,616.6 405.5,617.9 C406.1,619.1 406.8,620.2 407.5,621.1 C408.1,621.8 408.8,622.5 409.5,622.9 C410.1,623.2 410.9,623.3 411.5,623.2 C412.2,623.1 412.9,622.6 413.5,622.1 C414.2,621.4 414.9,620.5 415.5,619.5 C416.2,618.5 416.9,617.2 417.5,615.9 C418.2,614.4 418.9,612.8 419.5,611.2 C420.2,609.4 420.8,607.6 421.5,605.7 C422.2,603.7 422.8,601.7 423.5,599.6 C424.2,597.5 424.8,595.3 425.5,593.1 C426.2,590.8 426.8,588.6 427.5,586.3 C428.2,584.0 428.8,581.7 429.5,579.4 C430.2,577.2 430.8,574.9 431.5,572.7 C432.2,570.5 432.8,568.3 433.5,566.2 C434.2,564.1 434.8,562.1 435.5,560.2 C436.2,558.3 436.8,556.5 437.5,554.8 C438.1,553.2 438.8,551.7 439.5,550.3 C440.1,549.0 440.8,547.8 441.5,546.7 C442.1,545.9 442.8,545.0 443.5,544.4 C444.1,543.9 444.8,543.5 445.5,543.5 C446.2,543.4 446.9,543.7 447.5,544.0 C448.2,544.5 448.9,545.3 449.5,546.1 C450.2,547.0 450.9,548.2 451.5,549.3 C452.2,550.7 452.9,552.2 453.5,553.7 C454.2,555.3 454.9,557.1 455.5,558.9 C456.2,560.8 456.8,562.8 457.5,564.8 C458.2,566.9 458.8,569.1 459.5,571.3 C460.2,573.5 460.8,575.8 461.5,578.0 C462.2,580.3 462.8,582.6 463.5,584.9 C464.2,587.2 464.8,589.5 465.5,591.7 C466.2,594.0 466.8,596.2 467.5,598.3 C468.2,600.4 468.8,602.5 469.5,604.5 C470.2,606.4 470.8,608.3 471.5,610.0 C472.1,611.7 472.8,613.3 473.5,614.8 C474.1,616.1 474.8,617.5 475.5,618.6 C476.1,619.6 476.8,620.5 477.5,621.2 C478.1,621.8 478.8,622.3 479.5,622.5 C480.1,622.6 480.9,622.5 481.5,622.2 C482.2,621.9 482.9,621.3 483.5,620.6 C484.2,619.8 484.9,618.7 485.5,617.6 C486.2,616.4 486.9,615.0 487.5,613.6 C488.2,612.1 488.9,610.4 489.5,608.7 C490.2,606.9 490.8,605.0 491.5,603.0 C492.2,601.0 492.8,598.9 493.5,596.8 C494.2,594.7 494.8,592.5 495.5,590.3 C496.2,588.0 496.8,585.8 497.5,583.5 C498.2,581.2 498.8,579.0 499.5,576.7 C500.2,574.5 500.8,572.3 501.5,570.1 C502.2,568.0 502.8,565.9 503.5,563.8 C504.2,561.9 504.8,559.9 505.5,558.1 C506.1,556.4 506.8,554.6 507.5,553.1 C508.1,551.6 508.8,550.2 509.5,548.9 C510.1,547.8 510.8,546.7 511.5,545.8 C512.1,545.0 512.8,544.3 513.5,543.9 C514.1,543.6 514.8,543.4 515.5,543.5 C516.2,543.6 516.9,544.0 517.5,544.5 C518.2,545.1 518.9,546.0 519.5,547.0 C520.2,548.0 520.9,549.3 521.5,550.6 C522.2,552.0 522.9,553.6 523.5,555.2 C524.2,557.0 524.8,558.8 525.5,560.7 C526.2,562.7 526.8,564.7 527.5,566.8 C528.2,568.9 528.8,571.1 529.5,573.3 C530.2,575.6 530.8,577.9 531.5,580.2 C532.2,582.5 532.8,584.8 533.5,587.1 C534.2,589.4 534.8,591.6 535.5,593.9 C536.2,596.1 536.8,598.3 537.5,600.4 C538.2,602.5 538.8,604.5 539.5,606.5 C540.2,608.3 540.8,610.1 541.5,611.9 C542.1,613.4 542.8,615.0 543.5,616.4 C544.1,617.6 544.8,618.9 545.5,619.9 C546.1,620.8 546.8,621.6 547.5,622.1 C548.1,622.6 548.8,623.0 549.5,623.0 C550.2,623.0 550.9,622.7 551.5,622.2 C552.2,621.8 552.9,620.9 553.5,620.1 C554.2,619.1 554.9,617.9 555.5,616.7 C556.2,615.3 556.9,613.8 557.5,612.3 C558.2,610.6 558.9,608.8 559.5,606.9 C560.2,605.0 560.8,603.0 561.5,601.0 C562.2,598.8 562.8,596.7 563.5,594.5 C564.2,592.2 564.8,589.9 565.5,587.7 C566.2,585.4 566.8,583.0 567.5,580.8 C568.2,578.5 568.8,576.2 569.5,573.9 C570.2,571.7 570.8,569.5 571.5,567.3 C572.2,565.2 572.8,563.1 573.5,561.1 C574.2,559.2 574.8,557.4 575.5,555.6 C576.1,554.0 576.8,552.4 577.5,550.9 C578.1,549.6 578.8,548.3 579.5,547.2 C580.1,546.2 580.8,545.3 581.5,544.7 C582.1,544.1 582.8,543.6 583.5,543.5 C584.1,543.4 584.9,543.6 585.5,543.9 C586.2,544.2 586.9,545.0 587.5,545.7 C588.2,546.6 588.9,547.7 589.5,548.8 C590.2,550.1 590.9,551.6 591.5,553.1 C592.2,554.7 592.9,556.4 593.5,558.2 C594.2,560.1 594.8,562.1 595.5,564.1 C596.2,566.1 596.8,568.3 597.5,570.4 C598.2,572.7 598.8,574.9 599.5,577.2 C600.2,579.5 600.8,581.8 601.5,584.1 C602.2,586.4 602.8,588.7 603.5,591.0 C604.2,593.2 604.8,595.4 605.5,597.6 C606.2,599.7 606.8,601.9 607.5,603.9 C608.2,605.8 608.8,607.8 609.5,609.6 C610.1,611.3 610.8,613.0 611.5,614.5 C612.1,615.9 612.8,617.3 613.5,618.5 C614.1,619.5 614.8,620.5 615.5,621.3 C616.1,621.9 616.8,622.5 617.5,622.8 C618.1,623.0 618.9,623.0 619.5,622.8 C620.2,622.5 620.9,621.9 621.5,621.3 C622.2,620.5 622.9,619.5 623.5,618.4 C624.2,617.3 624.9,615.9 625.5,614.5 C626.2,613.0 626.9,611.3 627.5,609.6 C628.2,607.8 628.8,605.9 629.5,603.9 C630.2,601.9 630.8,599.8 631.5,597.7 C632.2,595.5 632.8,593.3 633.5,591.1 C634.2,588.8 634.8,586.5 635.5,584.2 C636.2,581.9 636.8,579.6 637.5,577.4 C638.2,575.1 638.8,572.9 639.5,570.7 C640.2,568.5 640.8,566.4 641.5,564.3 C642.2,562.3 642.8,560.3 643.5,558.4 C644.1,556.7 644.8,554.9 645.5,553.3 C646.1,551.8 646.8,550.3 647.5,549.0 C648.1,547.9 648.8,546.8 649.5,545.9 C650.1,545.1 650.8,544.3 651.5,543.9 C652.1,543.6 652.8,543.4 653.5,543.5 C654.2,543.6 654.9,544.0 655.5,544.5 C656.2,545.1 656.9,546.1 657.5,547.0 C658.2,548.0 658.9,549.3 659.5,550.6 C660.2,552.1 660.9,553.6 661.5,555.3 C662.2,557.0 662.8,558.9 663.5,560.7 C664.2,562.7 664.8,564.8 665.5,566.9 C666.2,569.0 666.8,571.2 667.5,573.4 C668.2,575.7 668.8,578.0 669.5,580.2 C670.2,582.5 670.8,584.8 671.5,587.1 C672.2,589.4 672.8,591.7 673.5,593.9 C674.2,596.1 674.8,598.3 675.5,600.4 C676.2,602.4 676.8,604.5 677.5,606.4 C678.1,608.2 678.8,610.0 679.5,611.7 C680.1,613.3 680.8,614.8 681.5,616.2 C682.1,617.4 682.8,618.6 683.5,619.6 C684.1,620.4 684.8,621.3 685.5,621.8 C686.1,622.2 687.3,622.5 687.5,622.5 C687.6,622.5 687.6,622.5 687.6,622.5" fill="none" stroke="#1a8a1a" stroke-width="1.4" stroke-linejoin="round" clip-path="url(#c1)"/>
<path d="M47.5,583.7 C48.2,583.6 48.8,583.4 49.5,583.4 C50.2,583.4 50.8,583.5 51.5,583.6 C52.2,583.8 52.8,584.0 53.5,584.2 C54.2,584.4 54.8,584.6 55.5,584.8 C56.2,584.9 56.8,585.0 57.5,585.0 C58.2,584.9 58.9,584.8 59.5,584.5 C60.2,584.3 60.9,583.8 61.5,583.3 C62.2,582.7 62.9,581.9 63.5,581.1 C64.2,580.2 64.9,579.1 65.5,578.0 C66.2,576.7 66.9,575.3 67.5,573.9 C68.2,572.2 68.9,570.5 69.5,568.6 C70.2,566.7 70.8,564.6 71.5,562.5 C72.2,560.4 72.8,558.2 73.5,556.0 C74.2,553.8 74.8,551.5 75.5,549.4 C76.2,547.2 76.8,545.1 77.5,543.0 C78.2,540.9 78.8,538.9 79.5,536.7 C80.2,534.6 80.8,532.4 81.5,530.2 C82.2,527.9 82.8,525.5 83.5,523.1 C84.2,520.5 84.9,517.9 85.5,515.2 C86.2,512.4 86.9,509.4 87.5,506.3 C88.2,503.1 88.9,499.7 89.5,496.2 C90.2,492.5 90.8,488.5 91.5,484.6 C92.2,480.4 92.8,476.1 93.5,471.9 C94.2,467.7 94.8,463.4 95.5,459.3 C96.2,455.4 96.8,451.5 97.5,447.8 C98.1,444.3 98.8,440.9 99.5,437.7 C100.1,434.7 100.8,431.8 101.5,429.1 C102.1,426.6 102.8,424.2 103.5,422.0 C104.1,420.0 104.8,418.2 105.5,416.4 C106.1,414.7 106.8,413.2 107.5,411.6 C108.2,410.2 108.8,408.8 109.5,407.4 C110.2,406.0 110.8,404.7 111.5,403.4 C112.2,402.1 112.8,400.9 113.5,399.7 C114.2,398.6 114.8,397.6 115.5,396.6 C116.1,395.6 116.8,394.7 117.5,393.9 C118.1,393.1 118.8,392.4 119.5,391.8 C120.1,391.2 120.8,390.7 121.5,390.4 C122.1,390.0 122.8,389.8 123.5,389.7 C124.2,389.6 124.8,389.6 125.5,389.8 C126.2,389.9 126.9,390.2 127.5,390.6 C128.2,391.0 128.9,391.6 129.5,392.2 C130.2,392.9 130.9,393.7 131.5,394.6 C132.2,395.5 132.8,396.5 133.5,397.4 C134.2,398.4 134.8,399.4 135.5,400.4 C136.2,401.3 136.8,402.2 137.5,402.9 C138.1,403.6 138.8,404.2 139.5,404.6 C140.1,405.1 140.8,405.4 141.5,405.6 C142.2,405.8 142.8,405.9 143.5,405.9 C144.2,406.0 144.8,406.0 145.5,406.0 C146.2,405.9 146.8,405.8 147.5,405.8 C148.2,405.8 148.8,405.7 149.5,405.7 C150.2,405.7 150.8,405.7 151.5,405.7 C152.2,405.7 152.8,405.7 153.5,405.6 C154.2,405.5 154.8,405.4 155.5,405.2 C156.2,405.0 156.9,404.8 157.5,404.4 C158.2,404.1 158.9,403.6 159.5,403.1 C160.2,402.6 160.8,401.9 161.5,401.3 C162.2,400.6 162.8,399.8 163.5,399.1 C164.2,398.3 164.8,397.4 165.5,396.6 C166.2,395.7 166.8,394.8 167.5,393.8 C168.2,392.9 168.8,391.9 169.5,391.0 C170.2,390.0 170.8,389.0 171.5,388.0 C172.2,387.1 172.8,386.2 173.5,385.3 C174.1,384.6 174.8,383.8 175.5,383.3 C176.1,382.8 176.8,382.3 177.5,382.2 C178.1,382.1 178.9,382.3 179.5,382.5 C180.2,382.8 180.9,383.4 181.5,383.9 C182.2,384.5 182.8,385.2 183.5,385.9 C184.2,386.6 184.8,387.4 185.5,388.1 C186.2,388.7 186.8,389.4 187.5,390.1 C188.2,390.8 188.8,391.5 189.5,392.3 C190.2,393.1 190.9,393.9 191.5,394.8 C192.2,395.8 192.9,396.9 193.5,398.0 C194.2,399.3 194.9,400.7 195.5,402.1 C196.2,403.7 196.9,405.4 197.5,407.2 C198.2,409.1 198.9,411.0 199.5,413.2 C200.2,415.5 200.9,418.0 201.5,420.8 C202.2,423.9 202.9,427.4 203.5,430.9 C204.2,434.7 204.8,438.9 205.5,442.9 C206.2,446.8 206.8,450.7 207.5,454.4 C208.1,458.0 208.8,461.4 209.5,464.8 C210.2,468.0 210.8,471.1 211.5,474.2 C212.2,477.2 212.8,480.1 213.5,483.0 C214.2,485.9 214.8,488.7 215.5,491.6 C216.2,494.4 216.8,497.3 217.5,500.1 C218.2,503.0 218.8,505.9 219.5,508.8 C220.2,511.7 220.8,514.6 221.5,517.5 C222.2,520.3 222.8,523.1 223.5,526.0 C224.2,528.8 224.8,531.6 225.5,534.5 C226.2,537.4 226.8,540.4 227.5,543.3 C228.2,546.0 228.8,548.8 229.5,551.4 C230.1,553.7 230.8,555.9 231.5,558.0 C232.1,559.9 232.8,561.7 233.5,563.4 C234.1,564.9 234.8,566.3 235.5,567.6 C236.1,568.8 236.8,569.9 237.5,570.9 C238.1,571.8 238.8,572.7 239.5,573.5 C240.1,574.2 240.8,574.8 241.5,575.3 C242.1,575.8 242.8,576.3 243.5,576.6 C244.2,577.0 244.8,577.2 245.5,577.4 C246.2,577.6 246.8,577.7 247.5,577.7 C248.2,577.8 248.8,577.7 249.5,577.7 C250.2,577.6 250.8,577.5 251.5,577.4 C252.2,577.2 252.8,577.0 253.5,576.9 C254.2,576.7 254.8,576.4 255.5,576.2 C256.2,576.0 256.8,575.7 257.5,575.5 C258.2,575.3 258.8,575.1 259.5,574.9 C260.2,574.7 260.8,574.5 261.5,574.3 C262.2,574.2 262.8,574.0 263.5,574.0 C264.2,573.9 264.8,573.9 265.5,574.0 C266.2,574.0 266.8,574.2 267.5,574.4 C268.2,574.6 268.9,574.9 269.5,575.3 C270.2,575.7 270.9,576.2 271.5,576.8 C272.2,577.4 272.9,578.2 273.5,579.0 C274.2,579.9 274.8,580.9 275.5,581.9 C276.2,583.0 276.8,584.2 277.5,585.3 C278.2,586.3 278.8,587.4 279.5,588.2 C280.1,589.0 280.8,589.7 281.5,590.1 C282.1,590.4 282.8,590.5 283.5,590.5 C284.2,590.4 284.8,590.1 285.5,589.8 C286.2,589.5 286.8,589.1 287.5,588.8 C288.2,588.6 288.8,588.4 289.5,588.4 C290.2,588.3 290.9,588.5 291.5,588.7 C292.2,589.0 292.9,589.4 293.5,589.9 C294.2,590.4 294.8,591.0 295.5,591.6 C296.2,592.2 296.8,593.0 297.5,593.6 C298.2,594.2 298.8,594.9 299.5,595.4 C300.1,595.8 300.8,596.2 301.5,596.3 C302.2,596.4 302.9,596.3 303.5,596.0 C304.2,595.7 304.9,595.2 305.5,594.6 C306.2,593.9 306.9,593.1 307.5,592.3 C308.2,591.5 308.8,590.6 309.5,589.7 C310.2,588.7 310.8,587.8 311.5,586.9 C312.2,586.0 312.8,585.1 313.5,584.3 C314.1,583.6 314.8,582.9 315.5,582.4 C316.1,582.0 316.8,581.6 317.5,581.4 C318.1,581.2 318.8,581.3 319.5,581.3 C320.2,581.3 320.8,581.5 321.5,581.6 C322.2,581.7 322.8,581.9 323.5,582.0 C324.2,582.0 324.8,582.0 325.5,581.9 C326.2,581.7 326.9,581.5 327.5,581.2 C328.2,580.8 328.9,580.3 329.5,579.8 C330.2,579.2 330.9,578.4 331.5,577.5 C332.2,576.7 332.8,575.6 333.5,574.7 C334.2,573.7 334.8,572.7 335.5,571.9 C336.1,571.2 336.8,570.5 337.5,570.1 C338.1,569.9 338.8,569.8 339.5,569.9 C340.2,570.0 340.9,570.4 341.5,570.8 C342.2,571.3 342.9,572.0 343.5,572.6 C344.2,573.3 344.8,574.1 345.5,574.9 C346.2,575.7 346.8,576.5 347.5,577.3 C348.2,578.0 348.8,578.8 349.5,579.4 C350.1,580.0 350.8,580.5 351.5,580.9 C352.1,581.2 352.8,581.4 353.5,581.5 C354.2,581.6 354.8,581.5 355.5,581.4 C356.2,581.4 356.8,581.3 357.5,581.2 C358.2,581.2 358.8,581.1 359.5,581.3 C360.2,581.4 360.9,581.6 361.5,582.0 C362.2,582.5 362.9,583.2 363.5,583.9 C364.2,584.7 364.8,585.7 365.5,586.6 C366.2,587.5 366.8,588.5 367.5,589.4 C368.1,590.2 368.8,590.9 369.5,591.6 C370.1,592.1 370.8,592.6 371.5,593.1 C372.2,593.5 372.8,593.8 373.5,594.2 C374.2,594.5 374.8,594.8 375.5,595.1 C376.2,595.3 376.8,595.6 377.5,595.7 C378.2,595.7 378.9,595.7 379.5,595.5 C380.2,595.3 380.9,594.7 381.5,594.2 C382.2,593.7 382.8,592.9 383.5,592.2 C384.2,591.5 384.8,590.7 385.5,590.0 C386.1,589.4 386.8,588.7 387.5,588.3 C388.1,587.9 388.8,587.6 389.5,587.6 C390.2,587.5 390.8,587.8 391.5,588.0 C392.2,588.3 392.8,588.7 393.5,589.1 C394.2,589.4 394.8,589.8 395.5,590.0 C396.2,590.1 396.9,590.2 397.5,590.0 C398.2,589.8 398.9,589.3 399.5,588.8 C400.2,588.2 400.9,587.3 401.5,586.5 C402.2,585.6 402.8,584.6 403.5,583.6 C404.2,582.6 404.8,581.5 405.5,580.5 C406.2,579.4 406.8,578.4 407.5,577.4 C408.1,576.5 408.8,575.6 409.5,574.9 C410.1,574.3 410.8,573.6 411.5,573.3 C412.1,573.0 412.8,572.8 413.5,572.9 C414.2,572.9 414.9,573.3 415.5,573.6 C416.2,573.9 416.8,574.5 417.5,574.9 C418.2,575.4 418.8,575.9 419.5,576.3 C420.2,576.6 420.8,577.0 421.5,577.1 C422.2,577.3 422.8,577.3 423.5,577.2 C424.2,577.1 424.8,576.9 425.5,576.7 C426.2,576.5 426.8,576.2 427.5,575.9 C428.2,575.6 428.8,575.3 429.5,575.1 C430.2,574.9 430.8,574.7 431.5,574.6 C432.2,574.6 432.8,574.6 433.5,574.7 C434.2,574.9 434.9,575.2 435.5,575.6 C436.2,576.1 436.9,576.6 437.5,577.2 C438.2,577.9 438.8,578.6 439.5,579.3 C440.2,580.1 440.8,581.0 441.5,581.8 C442.2,582.7 442.8,583.6 443.5,584.5 C444.2,585.4 444.8,586.3 445.5,587.1 C446.2,587.8 446.8,588.6 447.5,589.3 C448.1,589.9 448.8,590.5 449.5,590.8 C450.1,591.1 450.8,591.3 451.5,591.3 C452.2,591.4 452.8,591.1 453.5,591.0 C454.2,590.8 454.8,590.4 455.5,590.2 C456.2,590.0 456.8,589.7 457.5,589.6 C458.2,589.6 458.8,589.7 459.5,589.9 C460.2,590.1 460.8,590.4 461.5,590.8 C462.2,591.2 462.8,591.7 463.5,592.1 C464.2,592.6 464.8,593.1 465.5,593.6 C466.2,594.0 466.8,594.4 467.5,594.7 C468.1,595.0 468.8,595.2 469.5,595.2 C470.2,595.2 470.9,595.0 471.5,594.7 C472.2,594.4 472.9,593.8 473.5,593.3 C474.2,592.7 474.8,591.9 475.5,591.2 C476.2,590.4 476.8,589.5 477.5,588.7 C478.2,587.8 478.8,586.9 479.5,586.1 C480.2,585.2 480.8,584.4 481.5,583.6 C482.2,582.8 482.8,582.1 483.5,581.5 C484.1,580.9 484.8,580.3 485.5,579.9 C486.1,579.5 486.8,579.2 487.5,579.1 C488.2,578.9 488.8,579.0 489.5,579.0 C490.2,579.1 490.8,579.3 491.5,579.5 C492.2,579.6 492.8,579.9 493.5,579.9 C494.2,580.0 494.8,580.1 495.5,580.0 C496.2,579.9 496.9,579.6 497.5,579.2 C498.2,578.8 498.9,578.3 499.5,577.7 C500.2,577.1 500.8,576.3 501.5,575.6 C502.2,574.9 502.8,574.0 503.5,573.2 C504.2,572.5 504.8,571.7 505.5,571.0 C506.1,570.5 506.8,569.8 507.5,569.6 C508.1,569.4 508.9,569.3 509.5,569.4 C510.2,569.6 510.9,570.1 511.5,570.6 C512.2,571.1 512.9,571.9 513.5,572.7 C514.2,573.5 514.8,574.4 515.5,575.3 C516.2,576.3 516.8,577.3 517.5,578.2 C518.2,579.1 518.8,580.1 519.5,580.9 C520.1,581.7 520.8,582.4 521.5,583.0 C522.1,583.5 522.8,584.0 523.5,584.2 C524.1,584.4 524.8,584.3 525.5,584.2 C526.2,584.0 526.8,583.6 527.5,583.3 C528.2,583.0 528.8,582.6 529.5,582.4 C530.2,582.3 530.9,582.3 531.5,582.5 C532.2,582.7 532.9,583.3 533.5,583.9 C534.2,584.5 534.9,585.4 535.5,586.2 C536.2,587.1 536.8,588.1 537.5,589.1 C538.2,590.0 538.8,591.1 539.5,592.0 C540.1,592.8 540.8,593.7 541.5,594.3 C542.1,594.9 542.8,595.5 543.5,595.8 C544.1,596.0 544.9,595.9 545.5,595.8 C546.2,595.6 546.9,595.0 547.5,594.5 C548.2,594.0 548.8,593.3 549.5,592.6 C550.2,592.0 550.8,591.3 551.5,590.6 C552.2,590.0 552.8,589.3 553.5,588.8 C554.1,588.3 554.8,587.8 555.5,587.5 C556.1,587.2 556.8,586.9 557.5,586.9 C558.2,586.8 558.8,586.9 559.5,587.0 C560.2,587.1 560.8,587.4 561.5,587.6 C562.2,587.8 562.8,588.0 563.5,588.1 C564.2,588.1 564.9,588.2 565.5,588.0 C566.2,587.8 566.9,587.4 567.5,586.9 C568.2,586.4 568.9,585.7 569.5,585.0 C570.2,584.2 570.8,583.3 571.5,582.4 C572.2,581.5 572.8,580.6 573.5,579.7 C574.2,578.8 574.8,577.9 575.5,577.1 C576.2,576.3 576.8,575.5 577.5,574.9 C578.1,574.3 578.8,573.7 579.5,573.2 C580.1,572.8 580.8,572.4 581.5,572.2 C582.2,572.1 582.8,572.0 583.5,572.2 C584.2,572.3 584.9,572.6 585.5,572.9 C586.2,573.3 586.8,573.8 587.5,574.3 C588.2,574.8 588.8,575.3 589.5,575.8 C590.2,576.3 590.8,576.8 591.5,577.2 C592.1,577.6 592.8,578.0 593.5,578.1 C594.2,578.3 594.8,578.3 595.5,578.2 C596.2,578.1 596.8,577.8 597.5,577.6 C598.2,577.3 598.8,576.9 599.5,576.7 C600.2,576.5 600.8,576.2 601.5,576.1 C602.2,576.0 602.9,576.0 603.5,576.2 C604.2,576.4 604.9,576.9 605.5,577.5 C606.2,578.1 606.9,578.9 607.5,579.7 C608.2,580.6 608.8,581.6 609.5,582.6 C610.2,583.6 610.8,584.6 611.5,585.6 C612.2,586.6 612.8,587.6 613.5,588.5 C614.1,589.3 614.8,590.1 615.5,590.7 C616.1,591.3 616.8,591.8 617.5,592.0 C618.1,592.2 618.8,592.3 619.5,592.2 C620.2,592.2 620.8,591.9 621.5,591.7 C622.2,591.5 622.8,591.2 623.5,590.9 C624.2,590.6 624.8,590.3 625.5,590.1 C626.2,589.9 626.8,589.7 627.5,589.8 C628.2,589.8 628.8,590.0 629.5,590.2 C630.2,590.4 630.8,590.9 631.5,591.3 C632.2,591.6 632.8,592.1 633.5,592.5 C634.2,592.9 634.8,593.4 635.5,593.6 C636.2,593.9 636.8,594.1 637.5,594.2 C638.2,594.2 638.9,594.0 639.5,593.7 C640.2,593.3 640.9,592.7 641.5,592.1 C642.2,591.4 642.8,590.5 643.5,589.7 C644.2,588.9 644.8,588.0 645.5,587.2 C646.2,586.4 646.8,585.6 647.5,584.8 C648.2,584.1 648.8,583.4 649.5,582.7 C650.2,582.1 650.8,581.5 651.5,581.0 C652.2,580.4 652.8,579.9 653.5,579.5 C654.2,579.1 654.8,578.8 655.5,578.5 C656.2,578.2 656.8,578.0 657.5,577.9 C658.2,577.7 658.8,577.7 659.5,577.7 C660.2,577.7 660.8,577.8 661.5,577.9 C662.2,578.0 662.8,578.1 663.5,578.1 C664.2,578.2 664.8,578.3 665.5,578.2 C666.2,578.1 666.8,578.0 667.5,577.8 C668.2,577.6 668.8,577.2 669.5,576.9 C670.2,576.5 670.8,576.1 671.5,575.6 C672.2,575.2 672.8,574.7 673.5,574.3 C674.2,573.8 674.8,573.4 675.5,573.0 C676.2,572.6 676.8,572.2 677.5,572.0 C678.2,571.7 678.8,571.5 679.5,571.4 C680.2,571.3 680.8,571.5 681.5,571.5" fill="none" stroke="#000000" stroke-width="1.3" stroke-dasharray="1.2 1.2" stroke-linejoin="round" clip-path="url(#c1)"/>
<path d="M47.5,583.7 C48.2,583.6 48.8,583.3 49.5,583.3 C50.2,583.3 50.8,583.4 51.5,583.5 C52.2,583.7 52.8,583.9 53.5,584.1 C54.2,584.3 54.8,584.5 55.5,584.6 C56.2,584.8 56.8,585.0 57.5,585.0 C58.2,585.0 58.9,585.0 59.5,584.8 C60.2,584.6 60.9,584.2 61.5,583.7 C62.2,583.2 62.9,582.4 63.5,581.6 C64.2,580.6 64.9,579.3 65.5,578.1 C66.2,576.6 66.9,575.0 67.5,573.4 C68.2,571.7 68.8,569.8 69.5,568.0 C70.2,566.1 70.8,564.1 71.5,562.1 C72.2,560.1 72.8,558.1 73.5,556.0 C74.2,554.0 74.8,551.9 75.5,549.9 C76.2,547.8 76.8,545.7 77.5,543.6 C78.2,541.4 78.8,539.2 79.5,537.0 C80.2,534.8 80.8,532.5 81.5,530.2 C82.2,527.8 82.8,525.4 83.5,523.0 C84.2,520.5 84.8,518.0 85.5,515.4 C86.2,512.7 86.8,510.0 87.5,507.3 C88.2,504.5 88.8,501.6 89.5,498.7 C90.2,495.6 90.8,492.5 91.5,489.4 C92.2,486.2 92.8,482.9 93.5,479.7 C94.2,476.5 94.8,473.3 95.5,470.2 C96.1,467.4 96.8,464.5 97.5,462.0 C98.1,459.7 98.8,457.6 99.5,455.7 C100.1,454.0 100.8,452.5 101.5,451.0 C102.1,449.7 102.8,448.5 103.5,447.4 C104.1,446.3 104.8,445.3 105.5,444.3 C106.2,443.4 106.8,442.5 107.5,441.7 C108.2,440.8 108.8,440.0 109.5,439.2 C110.2,438.4 110.8,437.6 111.5,436.8 C112.2,435.9 112.8,435.1 113.5,434.3 C114.2,433.5 114.8,432.7 115.5,432.0 C116.1,431.4 116.8,430.8 117.5,430.5 C118.1,430.2 118.9,430.1 119.5,430.2 C120.2,430.3 120.9,430.8 121.5,431.3 C122.2,431.8 122.8,432.6 123.5,433.3 C124.2,433.9 124.8,434.7 125.5,435.3 C126.1,435.9 126.8,436.4 127.5,436.8 C128.1,437.1 128.8,437.4 129.5,437.5 C130.2,437.7 130.8,437.8 131.5,437.7 C132.2,437.7 132.8,437.6 133.5,437.5 C134.2,437.3 134.8,437.1 135.5,436.8 C136.2,436.6 136.8,436.2 137.5,435.9 C138.2,435.6 138.8,435.2 139.5,434.8 C140.2,434.4 140.8,434.0 141.5,433.6 C142.2,433.2 142.8,432.8 143.5,432.4 C144.2,432.0 144.8,431.6 145.5,431.2 C146.2,430.8 146.9,430.3 147.5,429.8 C148.2,429.2 148.9,428.6 149.5,427.9 C150.2,427.2 150.9,426.3 151.5,425.4 C152.2,424.3 152.9,423.1 153.5,421.9 C154.2,420.6 154.8,419.2 155.5,417.8 C156.2,416.4 156.8,415.0 157.5,413.7 C158.2,412.3 158.8,411.0 159.5,409.7 C160.2,408.5 160.8,407.3 161.5,406.2 C162.1,405.2 162.8,404.2 163.5,403.2 C164.1,402.4 164.8,401.5 165.5,400.8 C166.1,400.2 166.8,399.6 167.5,399.1 C168.1,398.7 168.8,398.4 169.5,398.3 C170.2,398.1 170.8,398.1 171.5,398.2 C172.2,398.3 172.8,398.5 173.5,398.8 C174.2,399.1 174.8,399.4 175.5,399.8 C176.2,400.2 176.8,400.6 177.5,401.0 C178.2,401.5 178.9,402.0 179.5,402.5 C180.2,403.1 180.9,403.8 181.5,404.5 C182.2,405.3 182.9,406.2 183.5,407.2 C184.2,408.3 184.9,409.5 185.5,410.8 C186.2,412.3 186.9,413.9 187.5,415.6 C188.2,417.5 188.9,419.6 189.5,421.7 C190.2,424.1 190.9,426.7 191.5,429.4 C192.2,432.2 192.8,435.1 193.5,438.1 C194.2,441.2 194.8,444.3 195.5,447.4 C196.2,450.6 196.8,453.8 197.5,457.0 C198.2,460.1 198.8,463.2 199.5,466.2 C200.2,469.1 200.8,471.9 201.5,474.6 C202.1,477.1 202.8,479.5 203.5,481.9 C204.2,484.2 204.8,486.4 205.5,488.7 C206.2,491.0 206.8,493.4 207.5,495.9 C208.2,498.4 208.8,501.0 209.5,503.6 C210.2,506.3 210.8,508.9 211.5,511.5 C212.2,514.0 212.8,516.5 213.5,518.9 C214.2,521.2 214.8,523.4 215.5,525.5 C216.1,527.6 216.8,529.5 217.5,531.4 C218.1,533.1 218.8,534.8 219.5,536.4 C220.1,537.9 220.8,539.3 221.5,540.5 C222.1,541.7 222.8,542.8 223.5,543.7 C224.1,544.5 224.8,545.3 225.5,545.8 C226.1,546.3 226.8,546.7 227.5,547.0 C228.1,547.2 228.8,547.3 229.5,547.4 C230.2,547.6 230.8,547.6 231.5,547.7 C232.2,547.8 232.8,548.0 233.5,548.1 C234.2,548.2 234.8,548.4 235.5,548.5 C236.2,548.7 236.8,548.8 237.5,548.8 C238.2,548.9 238.8,548.9 239.5,548.8 C240.2,548.7 240.8,548.6 241.5,548.4 C242.2,548.2 242.8,548.0 243.5,547.8 C244.2,547.6 244.8,547.4 245.5,547.2 C246.2,547.0 246.8,546.8 247.5,546.7 C248.2,546.6 248.8,546.4 249.5,546.4 C250.2,546.4 250.8,546.4 251.5,546.6 C252.2,546.7 252.9,546.9 253.5,547.3 C254.2,547.6 254.9,548.1 255.5,548.7 C256.2,549.3 256.9,550.1 257.5,551.0 C258.2,551.9 258.9,553.0 259.5,554.2 C260.2,555.6 260.9,557.1 261.5,558.6 C262.2,560.3 262.9,562.2 263.5,564.1 C264.2,566.1 264.8,568.2 265.5,570.3 C266.2,572.5 266.8,574.8 267.5,577.0 C268.2,579.4 268.8,581.7 269.5,584.1 C270.2,586.5 270.8,588.8 271.5,591.2 C272.2,593.5 272.8,595.8 273.5,598.0 C274.2,600.2 274.8,602.4 275.5,604.4 C276.1,606.4 276.8,608.3 277.5,610.1 C278.1,611.7 278.8,613.3 279.5,614.8 C280.1,616.2 280.8,617.5 281.5,618.6 C282.1,619.6 282.8,620.6 283.5,621.4 C284.1,622.1 284.8,622.7 285.5,623.1 C286.1,623.5 286.8,623.8 287.5,623.8 C288.2,623.9 288.9,623.7 289.5,623.4 C290.2,623.1 290.9,622.5 291.5,621.9 C292.2,621.2 292.9,620.3 293.5,619.3 C294.2,618.3 294.9,617.0 295.5,615.8 C296.2,614.4 296.9,612.9 297.5,611.4 C298.2,609.8 298.8,608.1 299.5,606.3 C300.2,604.5 300.8,602.6 301.5,600.7 C302.2,598.8 302.8,596.8 303.5,594.8 C304.2,592.8 304.8,590.7 305.5,588.6 C306.2,586.5 306.8,584.4 307.5,582.3 C308.2,580.3 308.8,578.2 309.5,576.2 C310.2,574.1 310.8,572.1 311.5,570.2 C312.2,568.3 312.8,566.4 313.5,564.6 C314.2,562.8 314.8,561.1 315.5,559.4 C316.2,557.8 316.8,556.3 317.5,554.8 C318.1,553.5 318.8,552.1 319.5,550.9 C320.1,549.8 320.8,548.7 321.5,547.8 C322.1,546.9 322.8,546.1 323.5,545.5 C324.1,544.9 324.8,544.4 325.5,544.1 C326.1,543.9 326.8,543.8 327.5,543.9 C328.2,544.0 328.9,544.3 329.5,544.8 C330.2,545.3 330.9,546.1 331.5,547.0 C332.2,547.9 332.9,549.2 333.5,550.4 C334.2,551.8 334.9,553.3 335.5,554.9 C336.2,556.6 336.8,558.4 337.5,560.3 C338.2,562.2 338.8,564.3 339.5,566.3 C340.2,568.5 340.8,570.7 341.5,572.9 C342.2,575.1 342.8,577.4 343.5,579.7 C344.2,582.0 344.8,584.3 345.5,586.6 C346.2,588.9 346.8,591.1 347.5,593.4 C348.2,595.6 348.8,597.7 349.5,599.8 C350.2,601.9 350.8,603.9 351.5,605.9 C352.2,607.7 352.8,609.6 353.5,611.3 C354.1,612.9 354.8,614.5 355.5,615.9 C356.1,617.3 356.8,618.6 357.5,619.7 C358.1,620.7 358.8,621.6 359.5,622.3 C360.1,623.0 360.8,623.5 361.5,623.8 C362.1,624.1 362.8,624.3 363.5,624.2 C364.2,624.2 364.9,623.9 365.5,623.5 C366.2,623.0 366.9,622.4 367.5,621.7 C368.2,620.9 368.9,619.9 369.5,618.8 C370.2,617.7 370.9,616.4 371.5,615.1 C372.2,613.7 372.9,612.2 373.5,610.7 C374.2,609.1 374.8,607.4 375.5,605.7 C376.2,603.9 376.8,602.1 377.5,600.2 C378.2,598.3 378.8,596.3 379.5,594.4 C380.2,592.4 380.8,590.4 381.5,588.4 C382.2,586.4 382.8,584.3 383.5,582.3 C384.2,580.3 384.8,578.3 385.5,576.3 C386.2,574.4 386.8,572.4 387.5,570.5 C388.2,568.7 388.8,566.8 389.5,565.1 C390.2,563.3 390.8,561.6 391.5,560.0 C392.2,558.4 392.8,556.9 393.5,555.4 C394.1,554.1 394.8,552.7 395.5,551.5 C396.1,550.4 396.8,549.3 397.5,548.3 C398.1,547.4 398.8,546.6 399.5,546.0 C400.1,545.4 400.8,544.9 401.5,544.6 C402.1,544.4 402.8,544.2 403.5,544.3 C404.2,544.4 404.9,544.7 405.5,545.1 C406.2,545.6 406.9,546.3 407.5,547.0 C408.2,547.8 408.9,548.8 409.5,549.8 C410.2,550.9 410.9,552.1 411.5,553.3 C412.2,554.7 412.9,556.2 413.5,557.7 C414.2,559.2 414.8,560.9 415.5,562.6 C416.2,564.3 416.8,566.1 417.5,568.0 C418.2,569.9 418.8,571.8 419.5,573.8 C420.2,575.8 420.8,577.8 421.5,579.9 C422.2,581.9 422.8,584.0 423.5,586.1 C424.2,588.2 424.8,590.2 425.5,592.3 C426.2,594.3 426.8,596.3 427.5,598.3 C428.2,600.2 428.8,602.1 429.5,603.9 C430.2,605.7 430.8,607.4 431.5,609.0 C432.1,610.6 432.8,612.1 433.5,613.5 C434.1,614.8 434.8,616.1 435.5,617.2 C436.1,618.2 436.8,619.2 437.5,619.9 C438.1,620.6 438.8,621.2 439.5,621.5 C440.1,621.8 440.8,622.0 441.5,622.0 C442.2,622.0 442.9,621.8 443.5,621.4 C444.2,621.1 444.9,620.5 445.5,619.9 C446.2,619.2 446.9,618.4 447.5,617.5 C448.2,616.5 448.9,615.4 449.5,614.3 C450.2,613.1 450.9,611.7 451.5,610.3 C452.2,608.9 452.8,607.3 453.5,605.7 C454.2,604.1 454.8,602.3 455.5,600.5 C456.2,598.7 456.8,596.8 457.5,594.9 C458.2,592.9 458.8,590.8 459.5,588.8 C460.2,586.7 460.8,584.6 461.5,582.4 C462.2,580.3 462.8,578.2 463.5,576.1 C464.2,573.9 464.8,571.8 465.5,569.8 C466.2,567.7 466.8,565.7 467.5,563.8 C468.2,561.9 468.8,560.0 469.5,558.2 C470.1,556.6 470.8,554.9 471.5,553.3 C472.1,551.9 472.8,550.5 473.5,549.3 C474.1,548.1 474.8,547.0 475.5,546.2 C476.1,545.4 476.8,544.7 477.5,544.2 C478.1,543.8 478.8,543.5 479.5,543.5 C480.2,543.4 480.9,543.6 481.5,543.9 C482.2,544.2 482.9,544.7 483.5,545.3 C484.2,546.0 484.9,546.9 485.5,547.8 C486.2,548.8 486.9,549.9 487.5,551.1 C488.2,552.4 488.9,553.8 489.5,555.2 C490.2,556.8 490.9,558.4 491.5,560.1 C492.2,561.9 492.8,563.7 493.5,565.6 C494.2,567.6 494.8,569.6 495.5,571.7 C496.2,573.8 496.8,576.0 497.5,578.1 C498.2,580.3 498.8,582.6 499.5,584.8 C500.2,587.0 500.8,589.2 501.5,591.4 C502.2,593.6 502.8,595.8 503.5,597.9 C504.2,600.0 504.8,602.1 505.5,604.0 C506.2,606.0 506.8,607.9 507.5,609.6 C508.1,611.3 508.8,613.0 509.5,614.5 C510.1,616.0 510.8,617.3 511.5,618.5 C512.1,619.6 512.8,620.7 513.5,621.5 C514.1,622.2 514.8,622.8 515.5,623.2 C516.1,623.5 516.8,623.7 517.5,623.7 C518.2,623.7 518.9,623.5 519.5,623.2 C520.2,622.8 520.9,622.2 521.5,621.5 C522.2,620.8 522.9,619.9 523.5,619.0 C524.2,618.0 524.9,616.8 525.5,615.6 C526.2,614.3 526.9,612.8 527.5,611.4 C528.2,609.8 528.8,608.2 529.5,606.5 C530.2,604.7 530.8,602.8 531.5,601.0 C532.2,599.0 532.8,597.0 533.5,595.0 C534.2,592.9 534.8,590.8 535.5,588.7 C536.2,586.5 536.8,584.4 537.5,582.2 C538.2,580.1 538.8,577.9 539.5,575.8 C540.2,573.7 540.8,571.6 541.5,569.5 C542.2,567.5 542.8,565.5 543.5,563.6 C544.2,561.8 544.8,559.9 545.5,558.2 C546.1,556.6 546.8,555.0 547.5,553.5 C548.1,552.2 548.8,550.9 549.5,549.7 C550.1,548.7 550.8,547.7 551.5,546.9 C552.1,546.2 552.8,545.6 553.5,545.3 C554.1,544.9 554.8,544.7 555.5,544.7 C556.2,544.7 556.9,544.9 557.5,545.2 C558.2,545.6 558.9,546.2 559.5,546.8 C560.2,547.4 560.9,548.3 561.5,549.2 C562.2,550.2 562.9,551.3 563.5,552.5 C564.2,553.8 564.9,555.2 565.5,556.6 C566.2,558.1 566.9,559.8 567.5,561.4 C568.2,563.2 568.8,565.0 569.5,566.9 C570.2,568.8 570.8,570.8 571.5,572.8 C572.2,574.9 572.8,577.0 573.5,579.1 C574.2,581.2 574.8,583.3 575.5,585.5 C576.2,587.6 576.8,589.7 577.5,591.8 C578.2,593.9 578.8,595.9 579.5,597.9 C580.2,599.9 580.8,601.8 581.5,603.6 C582.2,605.4 582.8,607.2 583.5,608.8 C584.1,610.4 584.8,611.9 585.5,613.3 C586.1,614.5 586.8,615.7 587.5,616.8 C588.1,617.7 588.8,618.6 589.5,619.4 C590.1,620.0 590.8,620.6 591.5,621.0 C592.1,621.3 592.8,621.6 593.5,621.7 C594.2,621.8 594.9,621.7 595.5,621.5 C596.2,621.3 596.9,620.9 597.5,620.5 C598.2,620.0 598.9,619.3 599.5,618.6 C600.2,617.8 600.9,616.9 601.5,616.0 C602.2,614.9 602.9,613.8 603.5,612.6 C604.2,611.3 604.9,609.9 605.5,608.5 C606.2,607.0 606.8,605.4 607.5,603.7 C608.2,602.0 608.8,600.2 609.5,598.4 C610.2,596.5 610.8,594.5 611.5,592.6 C612.2,590.6 612.8,588.6 613.5,586.6 C614.2,584.5 614.8,582.5 615.5,580.4 C616.2,578.4 616.8,576.3 617.5,574.3 C618.2,572.3 618.8,570.3 619.5,568.4 C620.2,566.5 620.8,564.7 621.5,562.9 C622.2,561.2 622.8,559.5 623.5,557.9 C624.1,556.4 624.8,554.9 625.5,553.5 C626.1,552.3 626.8,551.1 627.5,550.0 C628.1,549.0 628.8,548.1 629.5,547.4 C630.1,546.7 630.8,546.1 631.5,545.7 C632.1,545.3 632.8,545.0 633.5,544.9 C634.2,544.8 634.9,544.9 635.5,545.0 C636.2,545.2 636.9,545.7 637.5,546.1 C638.2,546.7 638.9,547.4 639.5,548.1 C640.2,549.0 640.9,550.0 641.5,551.1 C642.2,552.3 642.9,553.6 643.5,555.0 C644.2,556.5 644.9,558.1 645.5,559.7 C646.2,561.5 646.8,563.3 647.5,565.1 C648.2,567.1 648.8,569.1 649.5,571.1 C650.2,573.1 650.8,575.2 651.5,577.3 C652.2,579.4 652.8,581.6 653.5,583.7 C654.2,585.8 654.8,588.0 655.5,590.1 C656.2,592.2 656.8,594.3 657.5,596.3 C658.2,598.3 658.8,600.3 659.5,602.2 C660.2,604.0 660.8,605.8 661.5,607.5 C662.1,609.1 662.8,610.7 663.5,612.2 C664.1,613.6 664.8,614.9 665.5,616.2 C666.1,617.3 666.8,618.4 667.5,619.3 C668.1,620.2 668.8,621.0 669.5,621.6 C670.1,622.2 670.8,622.7 671.5,623.0 C672.1,623.3 672.8,623.5 673.5,623.4 C674.2,623.4 674.9,623.2 675.5,622.8 C676.2,622.4 676.9,621.8 677.5,621.2 C678.2,620.4 678.9,619.4 679.5,618.4 C680.2,617.3 680.9,616.0 681.5,614.7 C682.2,613.3 682.9,611.8 683.5,610.3 C684.2,608.6 684.8,606.9 685.5,605.1 C686.2,603.3 686.8,601.4 687.5,599.5 C688.2,597.6 688.8,595.5 689.5,593.5 C690.2,591.5 690.8,589.4 691.5,587.3 C692.2,585.2 692.8,583.1 693.5,581.1 C694.2,579.0 694.8,576.9 695.5,574.8 C696.2,572.8 696.8,570.8 697.5,568.9 C698.2,566.9 698.8,565.0 699.5,563.2 C700.2,561.5 700.8,559.7 701.5,558.1 C702.1,556.5 702.8,555.0 703.5,553.6 C704.1,552.3 704.8,551.0 705.5,549.9 C706.1,548.9 706.8,547.9 707.5,547.1 C708.1,546.4 708.8,545.8 709.5,545.4 C710.1,545.1 711.1,544.9 711.5,544.9 C711.7,544.9 711.8,545.0 712.0,545.0" fill="none" stroke="#ff0000" stroke-width="1.35" stroke-dasharray="3.3 1.5" stroke-linejoin="round" clip-path="url(#c1)"/>
<line x1="571.0" y1="399.5" x2="604.0" y2="399.5" stroke="#0000ff" stroke-width="1.35" stroke-dasharray="3.6 1.2 1.1 1.3"/><text x="608.0" y="404.3" class="lg">V - type</text>
<line x1="571.0" y1="426.9" x2="604.0" y2="426.9" stroke="#1a8a1a" stroke-width="1.4"/><text x="608.0" y="431.8" class="lg">X - type</text>
<line x1="571.0" y1="454.4" x2="604.0" y2="454.4" stroke="#000000" stroke-width="1.3" stroke-dasharray="1.2 1.2"/><text x="608.0" y="459.4" class="lg">O - type</text>
<line x1="571.0" y1="483.2" x2="604.0" y2="483.2" stroke="#ff0000" stroke-width="1.35" stroke-dasharray="3.3 1.5"/><text x="608.0" y="490.0" class="lg"><tspan class="lam">Λ</tspan> - type</text>
<line x1="47.5" y1="1018.3" x2="47.5" y2="1011.3" class="tk"/><line x1="47.5" y1="727.5" x2="47.5" y2="734.5" class="tk"/><circle cx="47.5" cy="1011.3" r="0.6" class="td"/><circle cx="47.5" cy="734.5" r="0.6" class="td"/><line x1="174.3" y1="1018.3" x2="174.3" y2="1011.3" class="tk"/><line x1="174.3" y1="727.5" x2="174.3" y2="734.5" class="tk"/><circle cx="174.3" cy="1011.3" r="0.6" class="td"/><circle cx="174.3" cy="734.5" r="0.6" class="td"/><line x1="301.1" y1="1018.3" x2="301.1" y2="1011.3" class="tk"/><line x1="301.1" y1="727.5" x2="301.1" y2="734.5" class="tk"/><circle cx="301.1" cy="1011.3" r="0.6" class="td"/><circle cx="301.1" cy="734.5" r="0.6" class="td"/><line x1="427.9" y1="1018.3" x2="427.9" y2="1011.3" class="tk"/><line x1="427.9" y1="727.5" x2="427.9" y2="734.5" class="tk"/><circle cx="427.9" cy="1011.3" r="0.6" class="td"/><circle cx="427.9" cy="734.5" r="0.6" class="td"/><line x1="554.7" y1="1018.3" x2="554.7" y2="1011.3" class="tk"/><line x1="554.7" y1="727.5" x2="554.7" y2="734.5" class="tk"/><circle cx="554.7" cy="1011.3" r="0.6" class="td"/><circle cx="554.7" cy="734.5" r="0.6" class="td"/><line x1="681.5" y1="1018.3" x2="681.5" y2="1011.3" class="tk"/><line x1="681.5" y1="727.5" x2="681.5" y2="734.5" class="tk"/><circle cx="681.5" cy="1011.3" r="0.6" class="td"/><circle cx="681.5" cy="734.5" r="0.6" class="td"/><line x1="47.5" y1="727.5" x2="54.5" y2="727.5" class="tk"/><line x1="681.5" y1="727.5" x2="674.5" y2="727.5" class="tk"/><circle cx="54.5" cy="727.5" r="0.6" class="td"/><circle cx="674.5" cy="727.5" r="0.6" class="td"/><text x="45.5" y="731.1" class="yl">0.05</text><line x1="47.5" y1="776.0" x2="54.5" y2="776.0" class="tk"/><line x1="681.5" y1="776.0" x2="674.5" y2="776.0" class="tk"/><circle cx="54.5" cy="776.0" r="0.6" class="td"/><circle cx="674.5" cy="776.0" r="0.6" class="td"/><text x="45.5" y="779.6" class="yl">0.04</text><line x1="47.5" y1="824.4" x2="54.5" y2="824.4" class="tk"/><line x1="681.5" y1="824.4" x2="674.5" y2="824.4" class="tk"/><circle cx="54.5" cy="824.4" r="0.6" class="td"/><circle cx="674.5" cy="824.4" r="0.6" class="td"/><text x="45.5" y="828.0" class="yl">0.03</text><line x1="47.5" y1="872.9" x2="54.5" y2="872.9" class="tk"/><line x1="681.5" y1="872.9" x2="674.5" y2="872.9" class="tk"/><circle cx="54.5" cy="872.9" r="0.6" class="td"/><circle cx="674.5" cy="872.9" r="0.6" class="td"/><text x="45.5" y="876.5" class="yl">0.02</text><line x1="47.5" y1="921.4" x2="54.5" y2="921.4" class="tk"/><line x1="681.5" y1="921.4" x2="674.5" y2="921.4" class="tk"/><circle cx="54.5" cy="921.4" r="0.6" class="td"/><circle cx="674.5" cy="921.4" r="0.6" class="td"/><text x="45.5" y="925.0" class="yl">0.01</text><line x1="47.5" y1="969.8" x2="54.5" y2="969.8" class="tk"/><line x1="681.5" y1="969.8" x2="674.5" y2="969.8" class="tk"/><circle cx="54.5" cy="969.8" r="0.6" class="td"/><circle cx="674.5" cy="969.8" r="0.6" class="td"/><text x="45.5" y="973.4" class="yl">0</text><line x1="47.5" y1="1018.3" x2="54.5" y2="1018.3" class="tk"/><line x1="681.5" y1="1018.3" x2="674.5" y2="1018.3" class="tk"/><circle cx="54.5" cy="1018.3" r="0.6" class="td"/><circle cx="674.5" cy="1018.3" r="0.6" class="td"/><text x="45.5" y="1021.9" class="yl">-0.01</text>
<text x="47.5" y="1030.3" class="xl">0</text><text x="174.3" y="1030.3" class="xl">0.6</text><text x="301.1" y="1030.3" class="xl">1.2</text><text x="427.9" y="1030.3" class="xl">1.8</text><text x="554.7" y="1030.3" class="xl">2.4</text><text x="681.5" y="1030.3" class="xl">3</text>
<line x1="47.0" y1="727.50" x2="682.0" y2="727.50" stroke="#a6a6a6" stroke-width="1"/><line x1="47.0" y1="1018.50" x2="682.0" y2="1018.50" stroke="#8c8c8c" stroke-width="1"/><line x1="47.50" y1="727.0" x2="47.50" y2="1018.8" stroke="#999" stroke-width="1"/><line x1="681.80" y1="727.0" x2="681.80" y2="1018.8" stroke="#d0d0d0" stroke-width="1.8"/>
<text x="72.5" y="997.3" class="ttl">C-C boundary conditions</text>
<text x="359.5" y="1051.7" class="tl">t<tspan class="st" dx="0.6" dy="-12.6">&#9733;</tspan></text>
<text transform="translate(14,880.9) rotate(-90)" class="wl">w<tspan class="st2" dx="-0.5" dy="-11">&#9733;</tspan></text>
<path d="M47.5,969.1 C48.2,969.1 48.8,969.1 49.5,969.2 C50.2,969.2 50.8,969.3 51.5,969.4 C52.2,969.5 52.8,969.6 53.5,969.6 C54.2,969.7 54.8,969.8 55.5,969.9 C56.2,969.9 56.8,970.0 57.5,970.0 C58.2,970.0 58.8,970.0 59.5,969.9 C60.2,969.8 60.8,969.7 61.5,969.6 C62.2,969.4 62.8,969.2 63.5,968.9 C64.2,968.6 64.9,968.3 65.5,967.9 C66.2,967.4 66.9,966.9 67.5,966.3 C68.2,965.7 68.9,965.0 69.5,964.3 C70.2,963.5 70.9,962.6 71.5,961.7 C72.2,960.6 72.9,959.6 73.5,958.4 C74.2,957.2 74.9,955.9 75.5,954.5 C76.2,953.0 76.9,951.5 77.5,949.9 C78.2,948.2 78.8,946.4 79.5,944.6 C80.2,942.8 80.8,940.8 81.5,938.9 C82.2,936.8 82.8,934.8 83.5,932.7 C84.2,930.6 84.8,928.5 85.5,926.4 C86.2,924.2 86.8,922.1 87.5,919.9 C88.2,917.8 88.8,915.6 89.5,913.5 C90.2,911.5 90.8,909.4 91.5,907.4 C92.2,905.4 92.8,903.4 93.5,901.4 C94.2,899.4 94.8,897.3 95.5,895.3 C96.2,893.3 96.8,891.3 97.5,889.2 C98.2,887.2 98.8,885.2 99.5,883.2 C100.2,881.3 100.8,879.3 101.5,877.4 C102.2,875.6 102.8,873.8 103.5,872.0 C104.2,870.2 104.8,868.5 105.5,866.8 C106.2,865.1 106.8,863.5 107.5,861.9 C108.2,860.3 108.8,858.8 109.5,857.2 C110.2,855.7 110.8,854.3 111.5,852.8 C112.2,851.4 112.8,850.1 113.5,848.7 C114.2,847.4 114.8,846.1 115.5,844.8 C116.2,843.6 116.8,842.4 117.5,841.2 C118.2,840.0 118.8,838.9 119.5,837.8 C120.2,836.7 120.8,835.6 121.5,834.5 C122.2,833.5 122.8,832.4 123.5,831.4 C124.2,830.4 124.8,829.4 125.5,828.4 C126.2,827.4 126.8,826.4 127.5,825.4 C128.2,824.3 128.8,823.3 129.5,822.3 C130.2,821.3 130.8,820.3 131.5,819.2 C132.2,818.2 132.8,817.1 133.5,816.0 C134.2,814.9 134.8,813.7 135.5,812.6 C136.2,811.4 136.8,810.2 137.5,809.0 C138.2,807.7 138.8,806.4 139.5,805.1 C140.2,803.8 140.8,802.4 141.5,801.1 C142.2,799.7 142.8,798.3 143.5,797.0 C144.2,795.6 144.8,794.3 145.5,793.0 C146.2,791.7 146.8,790.4 147.5,789.2 C148.2,788.1 148.8,786.9 149.5,785.8 C150.1,784.8 150.8,783.8 151.5,782.9 C152.1,782.1 152.8,781.3 153.5,780.6 C154.1,780.0 154.8,779.5 155.5,779.1 C156.1,778.8 156.8,778.5 157.5,778.4 C158.2,778.3 158.8,778.4 159.5,778.5 C160.2,778.7 160.9,779.1 161.5,779.5 C162.2,780.0 162.9,780.6 163.5,781.3 C164.2,782.1 164.9,783.0 165.5,784.0 C166.2,785.1 166.9,786.3 167.5,787.5 C168.2,788.9 168.8,790.3 169.5,791.7 C170.2,793.2 170.8,794.8 171.5,796.4 C172.2,798.0 172.8,799.6 173.5,801.2 C174.2,802.9 174.8,804.5 175.5,806.2 C176.2,808.0 176.8,809.8 177.5,811.6 C178.2,813.5 178.8,815.4 179.5,817.4 C180.2,819.4 180.8,821.5 181.5,823.7 C182.2,826.0 182.8,828.3 183.5,830.7 C184.2,833.1 184.8,835.7 185.5,838.2 C186.2,840.9 186.8,843.5 187.5,846.1 C188.2,848.7 188.8,851.3 189.5,853.8 C190.2,856.3 190.8,858.7 191.5,861.0 C192.2,863.2 192.8,865.4 193.5,867.5 C194.2,869.5 194.8,871.5 195.5,873.4 C196.1,875.2 196.8,876.9 197.5,878.5 C198.1,880.1 198.8,881.6 199.5,883.0 C200.1,884.4 200.8,885.7 201.5,886.9 C202.2,888.1 202.8,889.3 203.5,890.4 C204.2,891.4 204.8,892.5 205.5,893.4 C206.2,894.4 206.8,895.3 207.5,896.2 C208.2,897.1 208.8,898.0 209.5,898.8 C210.2,899.7 210.8,900.5 211.5,901.3 C212.2,902.1 212.8,903.0 213.5,903.8 C214.2,904.7 214.8,905.5 215.5,906.4 C216.2,907.3 216.8,908.2 217.5,909.2 C218.2,910.1 218.8,911.1 219.5,912.1 C220.2,913.1 220.8,914.1 221.5,915.2 C222.2,916.3 222.8,917.4 223.5,918.5 C224.2,919.6 224.8,920.8 225.5,922.0 C226.2,923.2 226.8,924.4 227.5,925.6 C228.2,926.9 228.8,928.2 229.5,929.5 C230.2,930.8 230.8,932.2 231.5,933.5 C232.2,934.9 232.8,936.3 233.5,937.8 C234.2,939.3 234.8,940.8 235.5,942.3 C236.2,943.9 236.8,945.5 237.5,947.2 C238.2,948.9 238.8,950.6 239.5,952.4 C240.2,954.2 240.8,956.1 241.5,958.0 C242.2,959.9 242.8,961.8 243.5,963.7 C244.2,965.5 244.8,967.4 245.5,969.1 C246.2,970.8 246.8,972.5 247.5,974.1 C248.1,975.6 248.8,977.0 249.5,978.3 C250.1,979.5 250.8,980.6 251.5,981.7 C252.1,982.6 252.8,983.5 253.5,984.3 C254.1,985.0 254.8,985.6 255.5,986.1 C256.1,986.6 256.8,986.9 257.5,987.2 C258.1,987.4 258.8,987.5 259.5,987.4 C260.2,987.4 260.9,987.2 261.5,986.9 C262.2,986.6 262.9,986.1 263.5,985.6 C264.2,985.0 264.9,984.3 265.5,983.6 C266.2,982.8 266.9,981.9 267.5,981.0 C268.2,980.0 268.8,979.0 269.5,977.9 C270.2,976.8 270.8,975.6 271.5,974.5 C272.2,973.3 272.8,972.1 273.5,970.8 C274.2,969.6 274.8,968.4 275.5,967.1 C276.2,965.9 276.8,964.7 277.5,963.5 C278.2,962.3 278.8,961.1 279.5,960.0 C280.2,958.9 280.8,957.8 281.5,956.8 C282.1,955.9 282.8,954.9 283.5,954.1 C284.1,953.3 284.8,952.6 285.5,952.0 C286.1,951.5 286.8,950.9 287.5,950.6 C288.1,950.3 288.8,950.1 289.5,950.1 C290.2,950.1 290.9,950.3 291.5,950.6 C292.2,950.9 292.9,951.5 293.5,952.0 C294.2,952.7 294.9,953.4 295.5,954.3 C296.2,955.1 296.9,956.1 297.5,957.2 C298.2,958.2 298.8,959.4 299.5,960.6 C300.2,961.8 300.8,963.0 301.5,964.3 C302.2,965.6 302.8,966.9 303.5,968.3 C304.2,969.6 304.8,970.9 305.5,972.2 C306.2,973.5 306.8,974.9 307.5,976.1 C308.2,977.3 308.8,978.6 309.5,979.7 C310.2,980.8 310.8,981.9 311.5,982.9 C312.1,983.8 312.8,984.7 313.5,985.4 C314.1,986.1 314.8,986.8 315.5,987.2 C316.1,987.6 316.8,987.9 317.5,988.0 C318.2,988.1 318.9,988.0 319.5,987.8 C320.2,987.6 320.9,987.1 321.5,986.6 C322.2,986.1 322.9,985.5 323.5,984.8 C324.2,984.0 324.8,983.2 325.5,982.3 C326.2,981.4 326.8,980.4 327.5,979.5 C328.2,978.5 328.8,977.4 329.5,976.3 C330.2,975.2 330.8,974.1 331.5,973.0 C332.2,971.9 332.8,970.7 333.5,969.6 C334.2,968.5 334.8,967.3 335.5,966.2 C336.2,965.0 336.8,963.9 337.5,962.8 C338.2,961.7 338.8,960.7 339.5,959.6 C340.2,958.7 340.8,957.7 341.5,956.7 C342.2,955.9 342.8,955.0 343.5,954.2 C344.1,953.5 344.8,952.7 345.5,952.1 C346.1,951.6 346.8,951.0 347.5,950.6 C348.1,950.2 348.8,949.9 349.5,949.8 C350.2,949.7 350.8,949.6 351.5,949.8 C352.2,949.9 352.9,950.2 353.5,950.6 C354.2,951.1 354.9,951.8 355.5,952.5 C356.2,953.4 356.9,954.4 357.5,955.4 C358.2,956.5 358.8,957.7 359.5,958.9 C360.2,960.2 360.8,961.5 361.5,962.9 C362.2,964.2 362.8,965.6 363.5,967.0 C364.2,968.3 364.8,969.7 365.5,971.0 C366.2,972.3 366.8,973.6 367.5,974.9 C368.2,976.1 368.8,977.3 369.5,978.5 C370.2,979.6 370.8,980.6 371.5,981.6 C372.1,982.5 372.8,983.4 373.5,984.2 C374.1,984.9 374.8,985.6 375.5,986.1 C376.1,986.6 376.8,987.0 377.5,987.3 C378.1,987.5 378.8,987.6 379.5,987.5 C380.2,987.4 380.9,987.1 381.5,986.8 C382.2,986.4 382.9,985.9 383.5,985.3 C384.2,984.7 384.9,984.0 385.5,983.2 C386.2,982.4 386.8,981.5 387.5,980.5 C388.2,979.5 388.8,978.5 389.5,977.4 C390.2,976.3 390.8,975.2 391.5,974.0 C392.2,972.9 392.8,971.7 393.5,970.5 C394.2,969.3 394.8,968.0 395.5,966.8 C396.2,965.6 396.8,964.4 397.5,963.3 C398.2,962.1 398.8,961.0 399.5,959.9 C400.2,958.8 400.8,957.8 401.5,956.8 C402.2,955.8 402.8,954.9 403.5,954.1 C404.1,953.4 404.8,952.6 405.5,952.0 C406.1,951.4 406.8,950.9 407.5,950.6 C408.1,950.2 408.8,950.0 409.5,949.9 C410.2,949.8 410.9,949.9 411.5,950.1 C412.2,950.3 412.9,950.8 413.5,951.2 C414.2,951.7 414.9,952.3 415.5,953.0 C416.2,953.7 416.9,954.5 417.5,955.4 C418.2,956.3 418.8,957.2 419.5,958.2 C420.2,959.3 420.8,960.4 421.5,961.5 C422.2,962.6 422.8,963.8 423.5,964.9 C424.2,966.1 424.8,967.3 425.5,968.5 C426.2,969.7 426.8,970.9 427.5,972.1 C428.2,973.3 428.8,974.5 429.5,975.6 C430.2,976.7 430.8,977.8 431.5,978.8 C432.2,979.8 432.8,980.8 433.5,981.7 C434.2,982.6 434.8,983.5 435.5,984.2 C436.1,985.0 436.8,985.6 437.5,986.2 C438.1,986.8 438.8,987.3 439.5,987.6 C440.1,988.0 440.8,988.2 441.5,988.3 C442.2,988.4 442.8,988.4 443.5,988.3 C444.2,988.1 444.9,987.8 445.5,987.4 C446.2,986.9 446.9,986.3 447.5,985.6 C448.2,984.8 448.9,983.8 449.5,982.9 C450.2,981.8 450.8,980.7 451.5,979.5 C452.2,978.3 452.8,977.0 453.5,975.7 C454.2,974.3 454.8,972.9 455.5,971.5 C456.2,970.1 456.8,968.7 457.5,967.3 C458.2,965.9 458.8,964.5 459.5,963.1 C460.2,961.8 460.8,960.5 461.5,959.2 C462.2,958.0 462.8,956.9 463.5,955.8 C464.1,954.8 464.8,953.8 465.5,953.0 C466.1,952.3 466.8,951.6 467.5,951.1 C468.1,950.7 468.8,950.3 469.5,950.2 C470.2,950.0 470.8,950.0 471.5,950.1 C472.2,950.2 472.9,950.5 473.5,950.8 C474.2,951.1 474.9,951.6 475.5,952.2 C476.2,952.8 476.9,953.5 477.5,954.2 C478.2,955.0 478.8,955.9 479.5,956.8 C480.2,957.7 480.8,958.7 481.5,959.7 C482.2,960.8 482.8,961.9 483.5,963.1 C484.2,964.3 484.8,965.5 485.5,966.7 C486.2,967.9 486.8,969.2 487.5,970.4 C488.2,971.6 488.8,972.9 489.5,974.1 C490.2,975.3 490.8,976.5 491.5,977.7 C492.2,978.8 492.8,979.9 493.5,980.9 C494.2,981.9 494.8,982.9 495.5,983.8 C496.1,984.7 496.8,985.5 497.5,986.2 C498.1,986.8 498.8,987.4 499.5,987.8 C500.1,988.2 500.8,988.6 501.5,988.7 C502.2,988.8 502.8,988.8 503.5,988.7 C504.2,988.5 504.9,988.1 505.5,987.7 C506.2,987.2 506.9,986.6 507.5,985.9 C508.2,985.2 508.9,984.4 509.5,983.5 C510.2,982.6 510.8,981.6 511.5,980.5 C512.2,979.5 512.8,978.3 513.5,977.2 C514.2,976.0 514.8,974.8 515.5,973.6 C516.2,972.3 516.8,971.1 517.5,969.8 C518.2,968.6 518.8,967.3 519.5,966.1 C520.2,964.8 520.8,963.6 521.5,962.4 C522.2,961.3 522.8,960.1 523.5,959.0 C524.2,958.0 524.8,957.0 525.5,956.0 C526.1,955.1 526.8,954.2 527.5,953.5 C528.1,952.8 528.8,952.1 529.5,951.6 C530.1,951.1 530.8,950.6 531.5,950.4 C532.1,950.2 532.8,950.0 533.5,950.1 C534.2,950.1 534.9,950.4 535.5,950.7 C536.2,951.1 536.9,951.6 537.5,952.2 C538.2,952.8 538.9,953.5 539.5,954.3 C540.2,955.1 540.8,956.0 541.5,957.0 C542.2,958.0 542.8,959.0 543.5,960.1 C544.2,961.2 544.8,962.3 545.5,963.5 C546.2,964.7 546.8,965.9 547.5,967.1 C548.2,968.3 548.8,969.5 549.5,970.7 C550.2,971.9 550.8,973.1 551.5,974.3 C552.2,975.4 552.8,976.6 553.5,977.7 C554.2,978.7 554.8,979.8 555.5,980.8 C556.2,981.7 556.8,982.6 557.5,983.5 C558.1,984.3 558.8,985.0 559.5,985.7 C560.1,986.3 560.8,986.9 561.5,987.3 C562.1,987.8 562.8,988.1 563.5,988.3 C564.2,988.5 564.8,988.5 565.5,988.4 C566.2,988.3 566.9,988.1 567.5,987.7 C568.2,987.3 568.9,986.6 569.5,986.0 C570.2,985.2 570.9,984.2 571.5,983.3 C572.2,982.2 572.9,981.0 573.5,979.8 C574.2,978.6 574.8,977.2 575.5,975.9 C576.2,974.5 576.8,973.1 577.5,971.6 C578.2,970.2 578.8,968.7 579.5,967.3 C580.2,965.9 580.8,964.5 581.5,963.1 C582.2,961.8 582.8,960.5 583.5,959.3 C584.1,958.2 584.8,957.1 585.5,956.1 C586.1,955.2 586.8,954.3 587.5,953.6 C588.1,952.9 588.8,952.3 589.5,951.8 C590.1,951.4 590.8,951.0 591.5,950.8 C592.1,950.6 592.8,950.5 593.5,950.5 C594.2,950.6 594.9,950.8 595.5,951.1 C596.2,951.4 596.9,951.9 597.5,952.5 C598.2,953.1 598.9,953.8 599.5,954.6 C600.2,955.5 600.9,956.4 601.5,957.4 C602.2,958.4 602.8,959.5 603.5,960.7 C604.2,961.9 604.8,963.1 605.5,964.4 C606.2,965.7 606.8,967.0 607.5,968.3 C608.2,969.6 608.8,971.0 609.5,972.3 C610.2,973.6 610.8,974.9 611.5,976.2 C612.2,977.4 612.8,978.6 613.5,979.8 C614.2,980.9 614.8,982.0 615.5,983.0 C616.1,983.9 616.8,984.8 617.5,985.5 C618.1,986.2 618.8,986.9 619.5,987.3 C620.1,987.7 620.8,988.1 621.5,988.2 C622.2,988.3 622.8,988.3 623.5,988.2 C624.2,988.1 624.9,987.8 625.5,987.5 C626.2,987.1 626.9,986.6 627.5,986.1 C628.2,985.5 628.9,984.8 629.5,984.1 C630.2,983.4 630.8,982.5 631.5,981.7 C632.2,980.7 632.8,979.8 633.5,978.8 C634.2,977.8 634.8,976.7 635.5,975.6 C636.2,974.5 636.8,973.3 637.5,972.2 C638.2,971.0 638.8,969.8 639.5,968.6 C640.2,967.4 640.8,966.2 641.5,965.0 C642.2,963.8 642.8,962.7 643.5,961.5 C644.2,960.4 644.8,959.3 645.5,958.3 C646.2,957.3 646.8,956.3 647.5,955.4 C648.1,954.6 648.8,953.7 649.5,953.0 C650.1,952.4 650.8,951.8 651.5,951.3 C652.1,950.9 652.8,950.6 653.5,950.4 C654.2,950.3 654.8,950.3 655.5,950.4 C656.2,950.5 656.9,950.9 657.5,951.3 C658.2,951.8 658.9,952.4 659.5,953.0 C660.2,953.7 660.9,954.6 661.5,955.4 C662.2,956.3 662.8,957.3 663.5,958.3 C664.2,959.4 664.8,960.5 665.5,961.6 C666.2,962.8 666.8,964.0 667.5,965.2 C668.2,966.5 668.8,967.7 669.5,969.0 C670.2,970.2 670.8,971.5 671.5,972.7 C672.2,973.9 672.8,975.1 673.5,976.3 C674.2,977.4 674.8,978.6 675.5,979.6 C676.2,980.7 676.8,981.7 677.5,982.6 C678.1,983.5 678.8,984.3 679.5,985.1 C680.1,985.7 680.8,986.4 681.5,986.8 C682.1,987.3 682.9,987.7 683.5,987.9 C684.0,988.0 684.5,988.0 685.0,988.0" fill="none" stroke="#0000ff" stroke-width="1.35" stroke-dasharray="3.6 1.2 1.1 1.3" stroke-linejoin="round" clip-path="url(#c2)"/>
<path d="M47.5,968.8 C48.2,968.9 48.8,969.0 49.5,969.1 C50.2,969.2 50.8,969.3 51.5,969.5 C52.2,969.6 52.8,969.8 53.5,969.9 C54.2,970.1 54.8,970.2 55.5,970.3 C56.2,970.4 56.8,970.5 57.5,970.6 C58.2,970.6 58.8,970.6 59.5,970.6 C60.2,970.5 60.8,970.4 61.5,970.2 C62.2,970.1 62.8,969.8 63.5,969.5 C64.2,969.2 64.9,968.7 65.5,968.3 C66.2,967.7 66.9,967.1 67.5,966.4 C68.2,965.7 68.9,964.9 69.5,964.1 C70.2,963.1 70.9,962.1 71.5,961.1 C72.2,960.0 72.9,958.8 73.5,957.6 C74.2,956.3 74.9,954.9 75.5,953.5 C76.2,952.0 76.8,950.5 77.5,948.9 C78.2,947.2 78.8,945.5 79.5,943.7 C80.2,942.0 80.8,940.1 81.5,938.3 C82.2,936.4 82.8,934.5 83.5,932.6 C84.2,930.7 84.8,928.7 85.5,926.8 C86.2,924.9 86.8,923.0 87.5,921.1 C88.2,919.2 88.8,917.4 89.5,915.6 C90.2,913.8 90.8,912.0 91.5,910.3 C92.2,908.6 92.8,907.0 93.5,905.4 C94.2,903.9 94.8,902.4 95.5,900.9 C96.2,899.5 96.8,898.2 97.5,896.8 C98.2,895.6 98.8,894.3 99.5,893.1 C100.2,891.9 100.8,890.7 101.5,889.6 C102.2,888.5 102.8,887.4 103.5,886.3 C104.2,885.3 104.8,884.3 105.5,883.3 C106.2,882.3 106.8,881.4 107.5,880.4 C108.2,879.5 108.8,878.6 109.5,877.6 C110.2,876.7 110.8,875.8 111.5,874.9 C112.2,874.0 112.8,873.2 113.5,872.3 C114.2,871.4 114.8,870.5 115.5,869.6 C116.2,868.7 116.8,867.7 117.5,866.8 C118.2,865.9 118.8,864.9 119.5,864.0 C120.2,863.0 120.8,862.0 121.5,861.0 C122.2,860.0 122.8,858.9 123.5,857.8 C124.2,856.7 124.8,855.6 125.5,854.4 C126.2,853.2 126.8,852.0 127.5,850.7 C128.2,849.5 128.8,848.1 129.5,846.8 C130.2,845.4 130.8,844.0 131.5,842.6 C132.2,841.1 132.8,839.7 133.5,838.2 C134.2,836.7 134.8,835.3 135.5,833.8 C136.2,832.3 136.8,830.9 137.5,829.4 C138.2,828.0 138.8,826.6 139.5,825.2 C140.2,823.8 140.8,822.5 141.5,821.2 C142.2,819.9 142.8,818.7 143.5,817.5 C144.2,816.4 144.8,815.3 145.5,814.2 C146.1,813.2 146.8,812.3 147.5,811.4 C148.1,810.7 148.8,809.9 149.5,809.3 C150.1,808.7 150.8,808.2 151.5,807.8 C152.1,807.5 152.8,807.2 153.5,807.1 C154.2,807.0 154.8,807.1 155.5,807.3 C156.2,807.4 156.9,807.8 157.5,808.2 C158.2,808.7 158.9,809.3 159.5,809.9 C160.2,810.6 160.9,811.5 161.5,812.3 C162.2,813.2 162.9,814.3 163.5,815.3 C164.2,816.4 164.8,817.6 165.5,818.8 C166.2,820.1 166.8,821.4 167.5,822.8 C168.2,824.2 168.8,825.6 169.5,827.1 C170.2,828.6 170.8,830.2 171.5,831.7 C172.2,833.3 172.8,835.0 173.5,836.6 C174.2,838.3 174.8,839.9 175.5,841.6 C176.2,843.3 176.8,845.0 177.5,846.6 C178.2,848.3 178.8,849.9 179.5,851.6 C180.2,853.2 180.8,854.8 181.5,856.3 C182.2,857.9 182.8,859.4 183.5,860.9 C184.2,862.3 184.8,863.8 185.5,865.1 C186.2,866.5 186.8,867.8 187.5,869.1 C188.2,870.3 188.8,871.5 189.5,872.7 C190.2,873.8 190.8,874.8 191.5,875.9 C192.2,876.9 192.8,877.9 193.5,878.9 C194.2,879.8 194.8,880.7 195.5,881.6 C196.2,882.5 196.8,883.4 197.5,884.3 C198.2,885.1 198.8,886.0 199.5,886.8 C200.2,887.7 200.8,888.5 201.5,889.4 C202.2,890.3 202.8,891.2 203.5,892.1 C204.2,893.0 204.8,893.9 205.5,894.9 C206.2,895.9 206.8,896.9 207.5,898.0 C208.2,899.1 208.8,900.2 209.5,901.3 C210.2,902.5 210.8,903.7 211.5,905.0 C212.2,906.2 212.8,907.6 213.5,908.9 C214.2,910.3 214.8,911.7 215.5,913.2 C216.2,914.6 216.8,916.1 217.5,917.7 C218.2,919.2 218.8,920.8 219.5,922.4 C220.2,924.0 220.8,925.6 221.5,927.2 C222.2,928.8 222.8,930.5 223.5,932.1 C224.2,933.8 224.8,935.4 225.5,937.0 C226.2,938.7 226.8,940.3 227.5,941.9 C228.2,943.5 228.8,945.0 229.5,946.6 C230.2,948.1 230.8,949.6 231.5,951.0 C232.2,952.5 232.8,953.9 233.5,955.2 C234.2,956.6 234.8,957.8 235.5,959.1 C236.2,960.3 236.8,961.4 237.5,962.6 C238.2,963.6 238.8,964.6 239.5,965.6 C240.1,966.5 240.8,967.3 241.5,968.1 C242.1,968.9 242.8,969.6 243.5,970.2 C244.1,970.8 244.8,971.4 245.5,971.8 C246.1,972.3 246.8,972.6 247.5,972.9 C248.2,973.2 248.8,973.5 249.5,973.6 C250.2,973.8 250.8,973.8 251.5,973.9 C252.2,973.9 252.8,973.9 253.5,973.8 C254.2,973.7 254.8,973.6 255.5,973.4 C256.2,973.2 256.8,973.0 257.5,972.8 C258.2,972.5 258.8,972.2 259.5,972.0 C260.2,971.7 260.8,971.3 261.5,971.0 C262.2,970.7 262.8,970.3 263.5,970.0 C264.2,969.7 264.8,969.3 265.5,969.0 C266.2,968.6 266.8,968.3 267.5,968.0 C268.2,967.7 268.8,967.4 269.5,967.2 C270.2,966.9 270.8,966.7 271.5,966.5 C272.2,966.3 272.8,966.1 273.5,966.0 C274.2,965.9 274.8,965.8 275.5,965.8 C276.2,965.8 276.8,965.8 277.5,965.8 C278.2,965.8 278.8,965.9 279.5,965.9 C280.2,966.0 280.8,966.1 281.5,966.3 C282.2,966.4 282.8,966.6 283.5,966.7 C284.2,966.9 284.8,967.1 285.5,967.3 C286.2,967.5 286.8,967.7 287.5,967.9 C288.2,968.1 288.8,968.4 289.5,968.6 C290.2,968.8 290.8,969.1 291.5,969.3 C292.2,969.5 292.8,969.8 293.5,970.0 C294.2,970.2 294.8,970.5 295.5,970.7 C296.2,970.9 296.8,971.1 297.5,971.3 C298.2,971.5 298.8,971.7 299.5,971.8 C300.2,972.0 300.8,972.1 301.5,972.3 C302.2,972.4 302.8,972.5 303.5,972.6 C304.2,972.6 304.8,972.7 305.5,972.7 C306.2,972.7 306.8,972.7 307.5,972.6 C308.2,972.6 308.8,972.5 309.5,972.4 C310.2,972.2 310.8,972.1 311.5,971.9 C312.2,971.7 312.8,971.5 313.5,971.3 C314.2,971.0 314.8,970.8 315.5,970.5 C316.2,970.3 316.8,970.0 317.5,969.7 C318.2,969.4 318.8,969.2 319.5,968.9 C320.2,968.6 320.8,968.3 321.5,968.1 C322.2,967.8 322.8,967.5 323.5,967.3 C324.2,967.1 324.8,966.8 325.5,966.6 C326.2,966.4 326.8,966.3 327.5,966.1 C328.2,966.0 328.8,965.9 329.5,965.8 C330.2,965.7 330.8,965.7 331.5,965.6 C332.2,965.6 332.8,965.6 333.5,965.7 C334.2,965.7 334.8,965.8 335.5,965.8 C336.2,965.9 336.8,966.0 337.5,966.2 C338.2,966.3 338.8,966.4 339.5,966.6 C340.2,966.8 340.8,966.9 341.5,967.1 C342.2,967.3 342.8,967.5 343.5,967.8 C344.2,968.0 344.8,968.2 345.5,968.4 C346.2,968.7 346.8,968.9 347.5,969.1 C348.2,969.4 348.8,969.6 349.5,969.9 C350.2,970.1 350.8,970.3 351.5,970.6 C352.2,970.8 352.8,971.0 353.5,971.2 C354.2,971.4 354.8,971.6 355.5,971.8 C356.2,972.0 356.8,972.1 357.5,972.2 C358.2,972.4 358.8,972.5 359.5,972.6 C360.2,972.7 360.8,972.7 361.5,972.7 C362.2,972.8 362.8,972.8 363.5,972.7 C364.2,972.7 364.8,972.6 365.5,972.5 C366.2,972.4 366.8,972.3 367.5,972.1 C368.2,971.9 368.8,971.8 369.5,971.6 C370.2,971.4 370.8,971.1 371.5,970.9 C372.2,970.7 372.8,970.4 373.5,970.2 C374.2,969.9 374.8,969.7 375.5,969.4 C376.2,969.2 376.8,968.9 377.5,968.7 C378.2,968.4 378.8,968.1 379.5,967.9 C380.2,967.7 380.8,967.4 381.5,967.2 C382.2,967.0 382.8,966.8 383.5,966.6 C384.2,966.4 384.8,966.2 385.5,966.0 C386.2,965.9 386.8,965.7 387.5,965.6 C388.2,965.5 388.8,965.4 389.5,965.4 C390.2,965.3 390.8,965.3 391.5,965.3 C392.2,965.3 392.8,965.4 393.5,965.4 C394.2,965.5 394.8,965.6 395.5,965.8 C396.2,966.0 396.8,966.2 397.5,966.4 C398.2,966.6 398.8,966.9 399.5,967.2 C400.2,967.5 400.8,967.8 401.5,968.1 C402.2,968.4 402.8,968.7 403.5,969.1 C404.2,969.4 404.8,969.7 405.5,970.1 C406.2,970.4 406.8,970.7 407.5,971.0 C408.2,971.3 408.8,971.6 409.5,971.8 C410.2,972.0 410.8,972.2 411.5,972.4 C412.2,972.6 412.8,972.7 413.5,972.8 C414.2,972.9 414.8,972.9 415.5,973.0 C416.2,973.0 416.8,972.9 417.5,972.9 C418.2,972.8 418.8,972.8 419.5,972.6 C420.2,972.5 420.8,972.4 421.5,972.2 C422.2,972.1 422.8,971.9 423.5,971.7 C424.2,971.5 424.8,971.3 425.5,971.1 C426.2,970.9 426.8,970.7 427.5,970.4 C428.2,970.2 428.8,970.0 429.5,969.7 C430.2,969.5 430.8,969.2 431.5,969.0 C432.2,968.7 432.8,968.5 433.5,968.3 C434.2,968.1 434.8,967.8 435.5,967.6 C436.2,967.4 436.8,967.2 437.5,967.0 C438.2,966.8 438.8,966.7 439.5,966.5 C440.2,966.4 440.8,966.2 441.5,966.1 C442.2,966.0 442.8,965.9 443.5,965.9 C444.2,965.8 444.8,965.8 445.5,965.8 C446.2,965.8 446.8,965.8 447.5,965.8 C448.2,965.9 448.8,966.0 449.5,966.1 C450.2,966.2 450.8,966.4 451.5,966.5 C452.2,966.7 452.8,966.9 453.5,967.1 C454.2,967.3 454.8,967.5 455.5,967.8 C456.2,968.0 456.8,968.2 457.5,968.5 C458.2,968.7 458.8,969.0 459.5,969.3 C460.2,969.5 460.8,969.8 461.5,970.0 C462.2,970.3 462.8,970.5 463.5,970.7 C464.2,970.9 464.8,971.2 465.5,971.4 C466.2,971.5 466.8,971.7 467.5,971.9 C468.2,972.0 468.8,972.2 469.5,972.3 C470.2,972.4 470.8,972.4 471.5,972.5 C472.2,972.6 472.8,972.6 473.5,972.6 C474.2,972.6 474.8,972.6 475.5,972.6 C476.2,972.6 476.8,972.5 477.5,972.4 C478.2,972.4 478.8,972.3 479.5,972.2 C480.2,972.0 480.8,971.9 481.5,971.8 C482.2,971.6 482.8,971.4 483.5,971.2 C484.2,971.0 484.8,970.8 485.5,970.6 C486.2,970.4 486.8,970.1 487.5,969.9 C488.2,969.6 488.8,969.4 489.5,969.1 C490.2,968.9 490.8,968.6 491.5,968.4 C492.2,968.1 492.8,967.9 493.5,967.6 C494.2,967.4 494.8,967.2 495.5,967.0 C496.2,966.8 496.8,966.6 497.5,966.4 C498.2,966.3 498.8,966.1 499.5,966.0 C500.2,965.9 500.8,965.8 501.5,965.8 C502.2,965.7 502.8,965.7 503.5,965.7 C504.2,965.8 504.8,965.8 505.5,965.9 C506.2,966.1 506.8,966.2 507.5,966.4 C508.2,966.6 508.8,966.8 509.5,967.0 C510.2,967.2 510.8,967.5 511.5,967.7 C512.2,968.0 512.8,968.3 513.5,968.6 C514.2,968.8 514.8,969.1 515.5,969.4 C516.2,969.7 516.8,970.0 517.5,970.2 C518.2,970.5 518.8,970.8 519.5,971.0 C520.2,971.2 520.8,971.5 521.5,971.7 C522.2,971.8 522.8,972.0 523.5,972.2 C524.2,972.3 524.8,972.4 525.5,972.5 C526.2,972.6 526.8,972.7 527.5,972.8 C528.2,972.8 528.8,972.8 529.5,972.8 C530.2,972.8 530.8,972.8 531.5,972.8 C532.2,972.7 532.8,972.6 533.5,972.5 C534.2,972.4 534.8,972.3 535.5,972.1 C536.2,971.9 536.8,971.7 537.5,971.5 C538.2,971.3 538.8,971.0 539.5,970.8 C540.2,970.5 540.8,970.2 541.5,969.9 C542.2,969.7 542.8,969.4 543.5,969.1 C544.2,968.8 544.8,968.5 545.5,968.2 C546.2,967.9 546.8,967.7 547.5,967.4 C548.2,967.2 548.8,966.9 549.5,966.7 C550.2,966.5 550.8,966.3 551.5,966.2 C552.2,966.0 552.8,965.9 553.5,965.8 C554.2,965.7 554.8,965.7 555.5,965.7 C556.2,965.7 556.8,965.7 557.5,965.8 C558.2,965.8 558.8,965.9 559.5,966.0 C560.2,966.1 560.8,966.2 561.5,966.4 C562.2,966.5 562.8,966.7 563.5,966.9 C564.2,967.1 564.8,967.3 565.5,967.5 C566.2,967.7 566.8,967.9 567.5,968.1 C568.2,968.4 568.8,968.6 569.5,968.9 C570.2,969.1 570.8,969.3 571.5,969.6 C572.2,969.8 572.8,970.1 573.5,970.3 C574.2,970.5 574.8,970.8 575.5,971.0 C576.2,971.2 576.8,971.4 577.5,971.6 C578.2,971.8 578.8,972.0 579.5,972.2 C580.2,972.4 580.8,972.5 581.5,972.7 C582.2,972.8 582.8,972.9 583.5,973.0 C584.2,973.1 584.8,973.2 585.5,973.2 C586.2,973.2 586.8,973.3 587.5,973.2 C588.2,973.2 588.8,973.2 589.5,973.1 C590.2,973.0 590.8,972.9 591.5,972.7 C592.2,972.6 592.8,972.4 593.5,972.2 C594.2,972.0 594.8,971.7 595.5,971.5 C596.2,971.2 596.8,970.9 597.5,970.7 C598.2,970.4 598.8,970.1 599.5,969.8 C600.2,969.5 600.8,969.2 601.5,968.9 C602.2,968.6 602.8,968.3 603.5,968.1 C604.2,967.8 604.8,967.5 605.5,967.3 C606.2,967.0 606.8,966.8 607.5,966.6 C608.2,966.4 608.8,966.2 609.5,966.1 C610.2,965.9 610.8,965.8 611.5,965.7 C612.2,965.7 612.8,965.6 613.5,965.6 C614.2,965.6 614.8,965.7 615.5,965.7 C616.2,965.8 616.8,965.9 617.5,966.0 C618.2,966.1 618.8,966.2 619.5,966.4 C620.2,966.5 620.8,966.7 621.5,966.9 C622.2,967.1 622.8,967.3 623.5,967.6 C624.2,967.8 624.8,968.0 625.5,968.3 C626.2,968.5 626.8,968.8 627.5,969.0 C628.2,969.3 628.8,969.5 629.5,969.8 C630.2,970.1 630.8,970.3 631.5,970.6 C632.2,970.8 632.8,971.1 633.5,971.3 C634.2,971.5 634.8,971.8 635.5,972.0 C636.2,972.2 636.8,972.4 637.5,972.5 C638.2,972.7 638.8,972.8 639.5,973.0 C640.2,973.1 640.8,973.2 641.5,973.2 C642.2,973.3 642.8,973.3 643.5,973.3 C644.2,973.3 644.8,973.2 645.5,973.1 C646.2,973.0 646.8,972.9 647.5,972.7 C648.2,972.5 648.8,972.3 649.5,972.0 C650.2,971.8 650.8,971.5 651.5,971.2 C652.2,970.9 652.8,970.6 653.5,970.2 C654.2,969.9 654.8,969.6 655.5,969.2 C656.2,968.9 656.8,968.6 657.5,968.2 C658.2,967.9 658.8,967.6 659.5,967.3 C660.2,967.1 660.8,966.8 661.5,966.6 C662.2,966.4 662.8,966.2 663.5,966.0 C664.2,965.9 664.8,965.8 665.5,965.7 C666.2,965.7 666.8,965.7 667.5,965.7 C668.2,965.7 668.8,965.8 669.5,965.8 C670.2,965.9 670.8,966.0 671.5,966.2 C672.2,966.3 672.8,966.5 673.5,966.6 C674.2,966.8 674.8,967.0 675.5,967.2 C676.2,967.4 676.8,967.7 677.5,967.9 C678.2,968.2 678.8,968.4 679.5,968.7 C680.2,968.9 680.8,969.2 681.5,969.5 C682.2,969.8 682.8,970.0 683.5,970.3 C684.2,970.6 684.8,970.8 685.5,971.1 C686.2,971.4 686.8,971.6 687.5,971.8 C688.2,972.1 688.8,972.3 689.5,972.5 C690.2,972.7 690.8,972.9 691.5,973.1 C692.2,973.3 692.9,973.4 693.5,973.6 C694.0,973.7 694.5,973.7 695.0,973.8" fill="none" stroke="#1a8a1a" stroke-width="1.4" stroke-linejoin="round" clip-path="url(#c2)"/>
<path d="M47.5,969.1 C48.2,969.1 48.8,969.2 49.5,969.2 C50.2,969.3 50.8,969.4 51.5,969.5 C52.2,969.5 52.8,969.6 53.5,969.7 C54.2,969.8 54.8,969.8 55.5,969.9 C56.2,969.9 56.8,970.0 57.5,970.0 C58.2,970.0 58.8,969.9 59.5,969.9 C60.2,969.8 60.8,969.7 61.5,969.5 C62.2,969.3 62.8,969.1 63.5,968.8 C64.2,968.6 64.8,968.2 65.5,967.8 C66.2,967.4 66.9,966.9 67.5,966.3 C68.2,965.7 68.9,965.1 69.5,964.3 C70.2,963.5 70.9,962.7 71.5,961.8 C72.2,960.8 72.9,959.7 73.5,958.5 C74.2,957.3 74.9,956.0 75.5,954.6 C76.2,953.1 76.9,951.5 77.5,949.9 C78.2,948.2 78.8,946.4 79.5,944.5 C80.2,942.6 80.8,940.7 81.5,938.7 C82.2,936.7 82.8,934.7 83.5,932.7 C84.2,930.7 84.8,928.7 85.5,926.6 C86.2,924.6 86.9,922.5 87.5,920.3 C88.2,918.0 88.9,915.6 89.5,913.1 C90.2,910.2 90.9,907.2 91.5,904.1 C92.2,900.8 92.8,897.3 93.5,893.8 C94.2,890.3 94.8,886.6 95.5,883.0 C96.2,879.6 96.8,876.1 97.5,872.8 C98.1,869.7 98.8,866.7 99.5,863.7 C100.1,861.0 100.8,858.4 101.5,855.7 C102.2,853.2 102.8,850.7 103.5,848.2 C104.2,845.8 104.8,843.4 105.5,841.0 C106.2,838.6 106.8,836.3 107.5,834.0 C108.2,831.7 108.8,829.5 109.5,827.2 C110.2,825.1 110.8,823.0 111.5,820.9 C112.2,818.8 112.8,816.8 113.5,814.9 C114.2,813.0 114.8,811.1 115.5,809.3 C116.2,807.6 116.8,805.9 117.5,804.3 C118.2,802.7 118.8,801.1 119.5,799.6 C120.2,798.2 120.8,796.7 121.5,795.4 C122.2,794.1 122.8,792.8 123.5,791.5 C124.2,790.3 124.8,789.2 125.5,788.1 C126.2,787.0 126.8,785.9 127.5,784.9 C128.2,783.9 128.8,783.0 129.5,782.1 C130.2,781.2 130.8,780.3 131.5,779.5 C132.2,778.7 132.8,778.0 133.5,777.2 C134.2,776.5 134.8,775.8 135.5,775.1 C136.2,774.3 136.8,773.7 137.5,772.9 C138.2,772.2 138.8,771.5 139.5,770.7 C140.2,769.9 140.8,769.1 141.5,768.2 C142.2,767.3 142.8,766.3 143.5,765.4 C144.2,764.4 144.8,763.3 145.5,762.3 C146.2,761.3 146.8,760.2 147.5,759.2 C148.2,758.2 148.8,757.2 149.5,756.3 C150.2,755.3 150.8,754.4 151.5,753.6 C152.2,752.8 152.8,752.0 153.5,751.3 C154.2,750.6 154.8,750.0 155.5,749.4 C156.1,748.8 156.8,748.3 157.5,747.9 C158.1,747.6 158.8,747.2 159.5,747.0 C160.2,746.8 160.8,746.6 161.5,746.5 C162.2,746.5 162.8,746.5 163.5,746.7 C164.2,746.8 164.9,747.0 165.5,747.4 C166.2,747.7 166.9,748.2 167.5,748.7 C168.2,749.3 168.9,749.9 169.5,750.7 C170.2,751.5 170.9,752.4 171.5,753.4 C172.2,754.4 172.9,755.6 173.5,756.8 C174.2,758.1 174.9,759.5 175.5,761.0 C176.2,762.6 176.9,764.3 177.5,766.0 C178.2,767.9 178.9,769.8 179.5,771.8 C180.2,774.0 180.9,776.3 181.5,778.6 C182.2,781.0 182.8,783.6 183.5,786.2 C184.2,788.9 184.8,791.7 185.5,794.5 C186.2,797.3 186.8,800.2 187.5,803.1 C188.2,806.0 188.8,808.9 189.5,811.7 C190.2,814.5 190.8,817.2 191.5,820.0 C192.2,822.7 192.8,825.3 193.5,828.1 C194.2,831.0 194.9,833.9 195.5,837.0 C196.2,840.3 196.8,843.8 197.5,847.3 C198.2,850.7 198.8,854.2 199.5,857.6 C200.2,860.8 200.8,864.0 201.5,867.0 C202.2,869.9 202.8,872.8 203.5,875.5 C204.2,878.1 204.8,880.7 205.5,883.2 C206.2,885.6 206.8,887.9 207.5,890.1 C208.2,892.3 208.8,894.4 209.5,896.4 C210.2,898.4 210.8,900.3 211.5,902.2 C212.2,904.0 212.8,905.8 213.5,907.5 C214.2,909.1 214.8,910.7 215.5,912.3 C216.2,913.7 216.8,915.1 217.5,916.5 C218.1,917.7 218.8,918.9 219.5,920.1 C220.1,921.2 220.8,922.2 221.5,923.2 C222.2,924.2 222.8,925.0 223.5,925.9 C224.2,926.7 224.8,927.5 225.5,928.3 C226.2,929.0 226.8,929.7 227.5,930.4 C228.2,931.1 228.8,931.7 229.5,932.4 C230.2,933.1 230.8,933.7 231.5,934.4 C232.2,935.0 232.8,935.7 233.5,936.4 C234.2,937.1 234.8,937.9 235.5,938.6 C236.2,939.4 236.8,940.2 237.5,941.1 C238.2,942.0 238.8,943.0 239.5,944.0 C240.2,945.0 240.8,946.1 241.5,947.2 C242.2,948.4 242.8,949.6 243.5,950.8 C244.2,952.1 244.8,953.4 245.5,954.8 C246.2,956.1 246.8,957.5 247.5,958.9 C248.2,960.2 248.8,961.7 249.5,963.1 C250.2,964.5 250.8,965.9 251.5,967.3 C252.2,968.7 252.8,970.1 253.5,971.5 C254.2,972.8 254.8,974.2 255.5,975.5 C256.2,976.8 256.8,978.1 257.5,979.4 C258.2,980.6 258.8,981.8 259.5,982.9 C260.2,984.0 260.8,985.0 261.5,986.0 C262.1,987.0 262.8,987.9 263.5,988.7 C264.1,989.5 264.8,990.2 265.5,990.8 C266.1,991.4 266.8,992.0 267.5,992.3 C268.1,992.7 268.8,993.0 269.5,993.1 C270.2,993.3 270.8,993.3 271.5,993.1 C272.2,993.0 272.9,992.7 273.5,992.3 C274.2,991.9 274.9,991.3 275.5,990.7 C276.2,990.0 276.9,989.2 277.5,988.4 C278.2,987.5 278.9,986.5 279.5,985.5 C280.2,984.4 280.8,983.3 281.5,982.1 C282.2,980.9 282.8,979.6 283.5,978.2 C284.2,976.9 284.8,975.4 285.5,974.0 C286.2,972.6 286.8,971.1 287.5,969.6 C288.2,968.1 288.8,966.6 289.5,965.2 C290.2,963.7 290.8,962.3 291.5,960.9 C292.2,959.6 292.8,958.3 293.5,957.1 C294.2,955.9 294.8,954.7 295.5,953.7 C296.1,952.7 296.8,951.7 297.5,950.8 C298.1,950.0 298.8,949.2 299.5,948.5 C300.1,947.9 300.8,947.3 301.5,946.9 C302.1,946.5 302.8,946.1 303.5,946.0 C304.2,945.8 304.8,945.8 305.5,945.9 C306.2,946.0 306.9,946.2 307.5,946.6 C308.2,947.0 308.9,947.6 309.5,948.2 C310.2,949.0 310.9,949.9 311.5,950.8 C312.2,951.8 312.9,952.9 313.5,954.0 C314.2,955.2 314.8,956.5 315.5,957.8 C316.2,959.1 316.8,960.5 317.5,961.9 C318.2,963.4 318.8,964.8 319.5,966.3 C320.2,967.8 320.8,969.3 321.5,970.8 C322.2,972.3 322.8,973.7 323.5,975.2 C324.2,976.6 324.8,978.0 325.5,979.3 C326.2,980.6 326.8,981.8 327.5,983.0 C328.1,984.1 328.8,985.2 329.5,986.2 C330.1,987.1 330.8,987.9 331.5,988.7 C332.1,989.3 332.8,990.0 333.5,990.4 C334.1,990.9 334.8,991.3 335.5,991.5 C336.1,991.8 336.8,991.9 337.5,991.9 C338.2,991.9 338.8,991.8 339.5,991.6 C340.2,991.4 340.9,991.0 341.5,990.6 C342.2,990.1 342.9,989.5 343.5,988.9 C344.2,988.2 344.9,987.4 345.5,986.5 C346.2,985.6 346.9,984.5 347.5,983.4 C348.2,982.3 348.8,981.1 349.5,979.8 C350.2,978.5 350.8,977.1 351.5,975.8 C352.2,974.4 352.8,972.9 353.5,971.5 C354.2,970.0 354.8,968.5 355.5,967.1 C356.2,965.6 356.8,964.2 357.5,962.7 C358.2,961.3 358.8,959.9 359.5,958.6 C360.2,957.3 360.8,956.0 361.5,954.8 C362.1,953.6 362.8,952.5 363.5,951.5 C364.1,950.6 364.8,949.7 365.5,948.9 C366.1,948.2 366.8,947.6 367.5,947.1 C368.1,946.7 368.8,946.4 369.5,946.2 C370.2,946.0 370.8,946.0 371.5,946.1 C372.2,946.2 372.9,946.5 373.5,946.8 C374.2,947.2 374.9,947.7 375.5,948.2 C376.2,948.8 376.9,949.6 377.5,950.3 C378.2,951.1 378.9,952.0 379.5,952.9 C380.2,953.9 380.8,955.0 381.5,956.1 C382.2,957.2 382.8,958.5 383.5,959.7 C384.2,961.0 384.8,962.3 385.5,963.7 C386.2,965.0 386.8,966.4 387.5,967.8 C388.2,969.2 388.8,970.7 389.5,972.1 C390.2,973.5 390.8,974.9 391.5,976.3 C392.2,977.6 392.8,979.0 393.5,980.2 C394.2,981.5 394.8,982.7 395.5,983.9 C396.2,985.0 396.8,986.1 397.5,987.1 C398.1,988.0 398.8,988.9 399.5,989.7 C400.1,990.4 400.8,991.0 401.5,991.5 C402.1,992.0 402.8,992.3 403.5,992.5 C404.1,992.7 404.8,992.7 405.5,992.6 C406.2,992.6 406.9,992.3 407.5,992.0 C408.2,991.7 408.9,991.2 409.5,990.6 C410.2,990.0 410.9,989.3 411.5,988.6 C412.2,987.7 412.9,986.8 413.5,985.9 C414.2,984.8 414.9,983.7 415.5,982.6 C416.2,981.4 416.8,980.1 417.5,978.8 C418.2,977.4 418.8,976.0 419.5,974.6 C420.2,973.1 420.8,971.6 421.5,970.1 C422.2,968.5 422.8,967.0 423.5,965.4 C424.2,963.9 424.8,962.4 425.5,960.9 C426.2,959.5 426.8,958.0 427.5,956.7 C428.2,955.4 428.8,954.1 429.5,952.9 C430.1,951.8 430.8,950.8 431.5,949.8 C432.1,949.0 432.8,948.2 433.5,947.5 C434.1,946.9 434.8,946.3 435.5,946.0 C436.1,945.6 436.8,945.4 437.5,945.3 C438.2,945.2 438.9,945.3 439.5,945.5 C440.2,945.8 440.9,946.2 441.5,946.7 C442.2,947.2 442.9,947.8 443.5,948.5 C444.2,949.3 444.9,950.1 445.5,951.0 C446.2,952.0 446.8,953.0 447.5,954.1 C448.2,955.2 448.8,956.4 449.5,957.5 C450.2,958.8 450.8,960.1 451.5,961.3 C452.2,962.7 452.8,964.0 453.5,965.4 C454.2,966.7 454.8,968.1 455.5,969.5 C456.2,970.8 456.8,972.2 457.5,973.6 C458.2,974.9 458.8,976.3 459.5,977.6 C460.2,978.8 460.8,980.1 461.5,981.3 C462.2,982.5 462.8,983.7 463.5,984.7 C464.2,985.8 464.8,986.8 465.5,987.7 C466.1,988.6 466.8,989.4 467.5,990.1 C468.1,990.7 468.8,991.4 469.5,991.8 C470.1,992.2 470.8,992.6 471.5,992.7 C472.2,992.9 472.8,992.9 473.5,992.7 C474.2,992.6 474.9,992.2 475.5,991.8 C476.2,991.4 476.9,990.8 477.5,990.2 C478.2,989.5 478.9,988.6 479.5,987.8 C480.2,986.9 480.8,985.9 481.5,984.8 C482.2,983.8 482.8,982.6 483.5,981.4 C484.2,980.2 484.8,978.9 485.5,977.7 C486.2,976.4 486.8,975.0 487.5,973.7 C488.2,972.3 488.8,970.9 489.5,969.5 C490.2,968.1 490.8,966.8 491.5,965.4 C492.2,964.0 492.8,962.7 493.5,961.3 C494.2,960.0 494.8,958.7 495.5,957.5 C496.2,956.3 496.8,955.1 497.5,954.0 C498.2,953.0 498.8,951.9 499.5,951.0 C500.1,950.1 500.8,949.2 501.5,948.5 C502.1,947.8 502.8,947.2 503.5,946.7 C504.1,946.3 504.8,945.9 505.5,945.7 C506.1,945.6 506.8,945.5 507.5,945.7 C508.2,945.8 508.9,946.1 509.5,946.5 C510.2,947.0 510.9,947.6 511.5,948.2 C512.2,949.0 512.9,949.8 513.5,950.7 C514.2,951.6 514.9,952.6 515.5,953.7 C516.2,954.8 516.8,956.0 517.5,957.2 C518.2,958.4 518.8,959.8 519.5,961.1 C520.2,962.4 520.8,963.8 521.5,965.2 C522.2,966.6 522.8,968.0 523.5,969.4 C524.2,970.8 524.8,972.3 525.5,973.7 C526.2,975.0 526.8,976.4 527.5,977.8 C528.2,979.1 528.8,980.4 529.5,981.7 C530.2,982.9 530.8,984.1 531.5,985.2 C532.1,986.2 532.8,987.3 533.5,988.2 C534.1,989.0 534.8,989.9 535.5,990.6 C536.1,991.2 536.8,991.8 537.5,992.2 C538.1,992.6 538.8,992.9 539.5,993.1 C540.2,993.2 540.8,993.2 541.5,993.0 C542.2,992.9 542.9,992.6 543.5,992.1 C544.2,991.7 544.9,991.0 545.5,990.3 C546.2,989.5 546.9,988.6 547.5,987.6 C548.2,986.5 548.9,985.4 549.5,984.2 C550.2,983.0 550.8,981.6 551.5,980.3 C552.2,978.9 552.8,977.5 553.5,976.1 C554.2,974.6 554.8,973.1 555.5,971.6 C556.2,970.2 556.8,968.7 557.5,967.2 C558.2,965.8 558.8,964.3 559.5,963.0 C560.2,961.6 560.8,960.3 561.5,959.0 C562.2,957.8 562.8,956.7 563.5,955.6 C564.1,954.5 564.8,953.5 565.5,952.6 C566.1,951.8 566.8,950.9 567.5,950.2 C568.1,949.5 568.8,948.9 569.5,948.4 C570.1,947.9 570.8,947.5 571.5,947.2 C572.1,946.9 572.8,946.7 573.5,946.7 C574.2,946.6 574.8,946.6 575.5,946.8 C576.2,947.0 576.9,947.3 577.5,947.7 C578.2,948.1 578.9,948.7 579.5,949.4 C580.2,950.1 580.9,950.9 581.5,951.8 C582.2,952.8 582.9,954.0 583.5,955.1 C584.2,956.4 584.8,957.7 585.5,959.1 C586.2,960.5 586.8,962.0 587.5,963.5 C588.2,965.1 588.8,966.6 589.5,968.2 C590.2,969.8 590.8,971.4 591.5,972.9 C592.2,974.5 592.8,976.0 593.5,977.5 C594.2,978.9 594.8,980.4 595.5,981.7 C596.1,983.0 596.8,984.2 597.5,985.3 C598.1,986.4 598.8,987.4 599.5,988.2 C600.1,989.0 600.8,989.7 601.5,990.3 C602.1,990.8 602.8,991.2 603.5,991.6 C604.1,991.8 604.8,992.0 605.5,992.1 C606.2,992.2 606.8,992.1 607.5,991.9 C608.2,991.8 608.9,991.4 609.5,991.1 C610.2,990.7 610.9,990.2 611.5,989.6 C612.2,989.0 612.9,988.3 613.5,987.5 C614.2,986.7 614.9,985.8 615.5,984.8 C616.2,983.8 616.9,982.7 617.5,981.6 C618.2,980.4 618.8,979.2 619.5,977.9 C620.2,976.6 620.8,975.2 621.5,973.9 C622.2,972.4 622.8,971.0 623.5,969.6 C624.2,968.1 624.8,966.7 625.5,965.3 C626.2,963.8 626.8,962.4 627.5,961.0 C628.2,959.7 628.8,958.4 629.5,957.1 C630.2,955.9 630.8,954.7 631.5,953.6 C632.1,952.5 632.8,951.5 633.5,950.6 C634.1,949.8 634.8,949.0 635.5,948.4 C636.1,947.8 636.8,947.2 637.5,946.8 C638.1,946.5 638.8,946.2 639.5,946.1 C640.2,946.0 640.8,946.0 641.5,946.1 C642.2,946.2 642.9,946.5 643.5,946.9 C644.2,947.3 644.9,947.8 645.5,948.5 C646.2,949.1 646.9,950.0 647.5,950.8 C648.2,951.8 648.9,952.8 649.5,953.9 C650.2,955.0 650.8,956.2 651.5,957.5 C652.2,958.8 652.8,960.2 653.5,961.6 C654.2,963.0 654.8,964.5 655.5,966.0 C656.2,967.5 656.8,969.0 657.5,970.6 C658.2,972.1 658.8,973.6 659.5,975.1 C660.2,976.6 660.8,978.1 661.5,979.5 C662.2,980.9 662.8,982.3 663.5,983.6 C664.1,984.8 664.8,986.0 665.5,987.1 C666.1,988.1 666.8,989.0 667.5,989.8 C668.1,990.6 668.8,991.3 669.5,991.8 C670.1,992.2 670.8,992.5 671.5,992.7 C672.2,992.9 672.8,992.9 673.5,992.7 C674.2,992.6 674.9,992.3 675.5,992.0 C676.2,991.6 676.9,991.0 677.5,990.5 C678.2,989.8 678.9,989.1 679.5,988.3 C680.2,987.5 680.9,986.5 681.5,985.6 C682.2,984.6 682.8,983.5 683.5,982.4 C684.2,981.2 684.8,980.0 685.5,978.8 C686.2,977.5 686.8,976.2 687.5,974.9 C688.2,973.6 688.8,972.2 689.5,970.8 C690.2,969.4 690.8,968.0 691.5,966.5 C692.2,965.1 692.8,963.7 693.5,962.3 C694.2,960.9 694.8,959.6 695.5,958.2 C696.2,957.0 696.8,955.7 697.5,954.5 C698.1,953.4 698.8,952.2 699.5,951.2 C700.1,950.3 700.8,949.4 701.5,948.6 C702.1,948.0 702.8,947.3 703.5,946.8 C704.1,946.5 704.9,946.1 705.5,946.0 C706.0,946.0 706.5,946.1 707.0,946.2" fill="none" stroke="#000000" stroke-width="1.3" stroke-dasharray="1.2 1.2" stroke-linejoin="round" clip-path="url(#c2)"/>
<path d="M47.5,969.0 C48.2,969.1 48.8,969.2 49.5,969.3 C50.2,969.4 50.8,969.5 51.5,969.6 C52.2,969.7 52.8,969.8 53.5,969.9 C54.2,970.0 54.8,970.0 55.5,970.1 C56.2,970.1 56.8,970.1 57.5,970.1 C58.2,970.1 58.8,970.0 59.5,969.9 C60.2,969.8 60.8,969.7 61.5,969.5 C62.2,969.3 62.8,969.0 63.5,968.7 C64.2,968.4 64.8,968.0 65.5,967.6 C66.2,967.2 66.9,966.6 67.5,966.1 C68.2,965.5 68.9,964.8 69.5,964.0 C70.2,963.2 70.9,962.4 71.5,961.5 C72.2,960.5 72.9,959.4 73.5,958.3 C74.2,957.1 74.9,955.9 75.5,954.6 C76.2,953.1 76.9,951.6 77.5,950.1 C78.2,948.4 78.8,946.7 79.5,944.9 C80.2,943.1 80.8,941.2 81.5,939.2 C82.2,937.2 82.8,935.1 83.5,933.1 C84.2,930.9 84.8,928.7 85.5,926.5 C86.2,924.3 86.8,922.0 87.5,919.7 C88.2,917.4 88.8,915.0 89.5,912.7 C90.2,910.4 90.8,908.0 91.5,905.7 C92.2,903.3 92.8,901.0 93.5,898.6 C94.2,896.3 94.8,894.0 95.5,891.7 C96.2,889.5 96.8,887.2 97.5,885.0 C98.2,882.8 98.8,880.6 99.5,878.5 C100.2,876.4 100.8,874.3 101.5,872.2 C102.2,870.2 102.8,868.1 103.5,866.2 C104.2,864.2 104.8,862.3 105.5,860.4 C106.2,858.6 106.8,856.8 107.5,855.0 C108.2,853.3 108.8,851.6 109.5,850.0 C110.2,848.4 110.8,846.8 111.5,845.3 C112.2,843.9 112.8,842.4 113.5,841.0 C114.2,839.7 114.8,838.3 115.5,837.1 C116.2,835.8 116.8,834.6 117.5,833.4 C118.2,832.2 118.8,831.1 119.5,829.9 C120.2,828.9 120.8,827.8 121.5,826.8 C122.2,825.7 122.8,824.7 123.5,823.7 C124.2,822.8 124.8,821.8 125.5,820.9 C126.2,820.0 126.8,819.1 127.5,818.2 C128.2,817.3 128.8,816.4 129.5,815.4 C130.2,814.5 130.8,813.5 131.5,812.6 C132.2,811.5 132.8,810.5 133.5,809.4 C134.2,808.3 134.9,807.1 135.5,805.8 C136.2,804.5 136.8,803.1 137.5,801.7 C138.2,800.2 138.8,798.7 139.5,797.2 C140.2,795.7 140.8,794.1 141.5,792.6 C142.2,791.1 142.8,789.7 143.5,788.3 C144.2,786.9 144.8,785.6 145.5,784.4 C146.1,783.3 146.8,782.3 147.5,781.4 C148.1,780.5 148.8,779.7 149.5,778.8 C150.2,777.9 150.8,777.0 151.5,776.1 C152.2,775.2 152.8,774.2 153.5,773.4 C154.1,772.6 154.8,771.9 155.5,771.4 C156.1,771.0 156.8,770.6 157.5,770.4 C158.1,770.3 158.8,770.2 159.5,770.3 C160.2,770.4 160.9,770.7 161.5,771.0 C162.2,771.3 162.9,771.9 163.5,772.4 C164.2,773.0 164.9,773.8 165.5,774.5 C166.2,775.4 166.9,776.3 167.5,777.3 C168.2,778.4 168.9,779.5 169.5,780.7 C170.2,782.0 170.8,783.3 171.5,784.6 C172.2,786.1 172.8,787.5 173.5,789.0 C174.2,790.6 174.8,792.2 175.5,793.9 C176.2,795.7 176.8,797.4 177.5,799.3 C178.2,801.2 178.8,803.2 179.5,805.2 C180.2,807.4 180.8,809.6 181.5,811.8 C182.2,814.2 182.8,816.6 183.5,819.1 C184.2,821.7 184.8,824.4 185.5,827.1 C186.2,830.0 186.8,832.9 187.5,835.8 C188.2,838.6 188.8,841.6 189.5,844.4 C190.2,847.1 190.8,849.8 191.5,852.3 C192.1,854.6 192.8,856.9 193.5,859.1 C194.1,861.1 194.8,863.0 195.5,864.9 C196.2,866.7 196.8,868.4 197.5,870.2 C198.2,871.9 198.8,873.6 199.5,875.3 C200.2,877.0 200.8,878.7 201.5,880.3 C202.2,882.0 202.8,883.7 203.5,885.3 C204.2,886.9 204.8,888.4 205.5,889.9 C206.2,891.4 206.8,892.8 207.5,894.1 C208.1,895.4 208.8,896.6 209.5,897.8 C210.2,898.9 210.8,900.0 211.5,901.0 C212.2,902.0 212.8,902.9 213.5,903.8 C214.2,904.6 214.8,905.5 215.5,906.3 C216.2,907.1 216.8,907.8 217.5,908.6 C218.2,909.3 218.8,910.1 219.5,910.8 C220.2,911.6 220.8,912.4 221.5,913.2 C222.2,914.1 222.9,914.9 223.5,915.9 C224.2,916.9 224.9,917.9 225.5,919.1 C226.2,920.3 226.9,921.6 227.5,923.0 C228.2,924.4 228.8,925.9 229.5,927.5 C230.2,929.1 230.8,930.8 231.5,932.4 C232.2,934.1 232.8,935.8 233.5,937.5 C234.2,939.2 234.8,940.9 235.5,942.6 C236.2,944.2 236.8,945.9 237.5,947.5 C238.2,949.1 238.8,950.7 239.5,952.3 C240.2,953.9 240.8,955.5 241.5,957.1 C242.2,958.7 242.8,960.4 243.5,962.0 C244.2,963.6 244.8,965.3 245.5,966.9 C246.2,968.5 246.8,970.1 247.5,971.7 C248.2,973.2 248.8,974.7 249.5,976.2 C250.2,977.6 250.8,979.0 251.5,980.4 C252.2,981.6 252.8,982.9 253.5,984.0 C254.1,985.1 254.8,986.1 255.5,987.0 C256.1,987.8 256.8,988.6 257.5,989.2 C258.1,989.8 258.8,990.3 259.5,990.6 C260.1,990.9 260.8,991.1 261.5,991.2 C262.2,991.2 262.9,991.0 263.5,990.8 C264.2,990.5 264.9,990.1 265.5,989.5 C266.2,988.9 266.9,988.2 267.5,987.4 C268.2,986.5 268.9,985.5 269.5,984.4 C270.2,983.3 270.8,982.1 271.5,980.9 C272.2,979.6 272.8,978.3 273.5,976.9 C274.2,975.6 274.8,974.1 275.5,972.7 C276.2,971.3 276.8,969.8 277.5,968.4 C278.2,967.0 278.8,965.5 279.5,964.1 C280.2,962.7 280.8,961.3 281.5,960.0 C282.2,958.7 282.8,957.4 283.5,956.2 C284.2,955.0 284.8,953.9 285.5,952.8 C286.1,951.8 286.8,950.9 287.5,950.0 C288.1,949.3 288.8,948.5 289.5,948.0 C290.1,947.5 290.8,947.0 291.5,946.8 C292.1,946.6 292.8,946.6 293.5,946.7 C294.2,946.8 294.9,947.2 295.5,947.6 C296.2,948.0 296.9,948.7 297.5,949.4 C298.2,950.2 298.9,951.1 299.5,952.0 C300.2,953.0 300.9,954.1 301.5,955.3 C302.2,956.5 302.8,957.7 303.5,959.0 C304.2,960.4 304.8,961.7 305.5,963.1 C306.2,964.6 306.8,966.0 307.5,967.5 C308.2,968.9 308.8,970.4 309.5,971.9 C310.2,973.3 310.8,974.8 311.5,976.2 C312.2,977.5 312.8,978.9 313.5,980.2 C314.2,981.5 314.8,982.7 315.5,983.9 C316.1,985.0 316.8,986.1 317.5,987.0 C318.1,987.9 318.8,988.8 319.5,989.4 C320.1,990.1 320.8,990.6 321.5,991.0 C322.1,991.4 322.8,991.6 323.5,991.7 C324.2,991.7 324.9,991.6 325.5,991.4 C326.2,991.2 326.9,990.7 327.5,990.2 C328.2,989.7 328.9,988.9 329.5,988.1 C330.2,987.3 330.9,986.3 331.5,985.3 C332.2,984.2 332.8,983.0 333.5,981.8 C334.2,980.5 334.8,979.2 335.5,977.8 C336.2,976.5 336.8,975.0 337.5,973.6 C338.2,972.2 338.8,970.7 339.5,969.3 C340.2,967.9 340.8,966.4 341.5,965.1 C342.2,963.7 342.8,962.3 343.5,961.0 C344.2,959.8 344.8,958.5 345.5,957.4 C346.2,956.3 346.8,955.2 347.5,954.2 C348.1,953.3 348.8,952.4 349.5,951.6 C350.1,950.9 350.8,950.1 351.5,949.6 C352.1,949.0 352.8,948.5 353.5,948.2 C354.1,947.8 354.8,947.6 355.5,947.5 C356.2,947.3 356.8,947.4 357.5,947.5 C358.2,947.6 358.9,948.0 359.5,948.4 C360.2,948.8 360.9,949.4 361.5,950.1 C362.2,950.8 362.9,951.7 363.5,952.7 C364.2,953.8 364.9,955.0 365.5,956.3 C366.2,957.6 366.8,959.1 367.5,960.6 C368.2,962.1 368.8,963.7 369.5,965.3 C370.2,967.0 370.8,968.6 371.5,970.3 C372.2,971.9 372.8,973.6 373.5,975.2 C374.2,976.8 374.8,978.3 375.5,979.8 C376.1,981.2 376.8,982.6 377.5,983.9 C378.1,985.1 378.8,986.2 379.5,987.1 C380.1,988.0 380.8,988.8 381.5,989.4 C382.1,990.0 382.8,990.5 383.5,990.8 C384.1,991.1 384.8,991.3 385.5,991.4 C386.2,991.4 386.9,991.3 387.5,991.1 C388.2,990.9 388.9,990.5 389.5,990.1 C390.2,989.6 390.9,989.0 391.5,988.4 C392.2,987.7 392.9,986.9 393.5,986.0 C394.2,985.1 394.9,984.1 395.5,983.0 C396.2,981.9 396.8,980.7 397.5,979.5 C398.2,978.2 398.8,976.9 399.5,975.5 C400.2,974.1 400.8,972.6 401.5,971.2 C402.2,969.7 402.8,968.2 403.5,966.7 C404.2,965.2 404.8,963.7 405.5,962.2 C406.2,960.8 406.8,959.3 407.5,957.9 C408.2,956.6 408.8,955.3 409.5,954.1 C410.1,953.0 410.8,951.9 411.5,950.9 C412.1,950.0 412.8,949.2 413.5,948.5 C414.1,947.9 414.8,947.4 415.5,947.1 C416.1,946.8 416.8,946.7 417.5,946.7 C418.2,946.7 418.9,946.9 419.5,947.2 C420.2,947.5 420.9,948.0 421.5,948.5 C422.2,949.1 422.9,949.9 423.5,950.7 C424.2,951.6 424.9,952.6 425.5,953.6 C426.2,954.8 426.8,956.0 427.5,957.3 C428.2,958.6 428.8,960.0 429.5,961.4 C430.2,962.8 430.8,964.3 431.5,965.8 C432.2,967.3 432.8,968.8 433.5,970.3 C434.2,971.8 434.8,973.3 435.5,974.7 C436.2,976.1 436.8,977.6 437.5,978.9 C438.2,980.2 438.8,981.5 439.5,982.8 C440.2,983.9 440.8,985.1 441.5,986.1 C442.1,987.1 442.8,988.1 443.5,988.9 C444.1,989.6 444.8,990.3 445.5,990.8 C446.1,991.3 446.8,991.7 447.5,991.9 C448.1,992.1 448.8,992.1 449.5,992.0 C450.2,991.9 450.9,991.6 451.5,991.2 C452.2,990.7 452.9,990.0 453.5,989.3 C454.2,988.5 454.9,987.5 455.5,986.5 C456.2,985.4 456.9,984.2 457.5,982.9 C458.2,981.6 458.8,980.2 459.5,978.8 C460.2,977.3 460.8,975.8 461.5,974.3 C462.2,972.8 462.8,971.2 463.5,969.6 C464.2,968.1 464.8,966.5 465.5,965.0 C466.2,963.5 466.8,962.0 467.5,960.6 C468.2,959.2 468.8,957.8 469.5,956.6 C470.1,955.4 470.8,954.2 471.5,953.2 C472.1,952.2 472.8,951.3 473.5,950.6 C474.1,949.9 474.8,949.2 475.5,948.7 C476.1,948.3 476.8,947.9 477.5,947.7 C478.1,947.5 478.8,947.4 479.5,947.4 C480.2,947.5 480.9,947.7 481.5,948.0 C482.2,948.3 482.9,948.8 483.5,949.3 C484.2,949.9 484.9,950.6 485.5,951.4 C486.2,952.3 486.9,953.3 487.5,954.3 C488.2,955.4 488.9,956.6 489.5,957.9 C490.2,959.2 490.8,960.6 491.5,962.0 C492.2,963.5 492.8,965.0 493.5,966.5 C494.2,968.0 494.8,969.5 495.5,971.1 C496.2,972.6 496.8,974.2 497.5,975.7 C498.2,977.1 498.8,978.6 499.5,980.0 C500.2,981.4 500.8,982.7 501.5,983.9 C502.1,985.1 502.8,986.3 503.5,987.3 C504.1,988.2 504.8,989.1 505.5,989.8 C506.1,990.5 506.8,991.0 507.5,991.4 C508.1,991.7 508.8,991.9 509.5,992.0 C510.2,992.0 510.9,991.8 511.5,991.6 C512.2,991.3 512.9,990.9 513.5,990.4 C514.2,989.9 514.9,989.2 515.5,988.5 C516.2,987.7 516.9,986.8 517.5,985.9 C518.2,984.9 518.8,983.8 519.5,982.7 C520.2,981.6 520.8,980.4 521.5,979.1 C522.2,977.8 522.8,976.5 523.5,975.1 C524.2,973.7 524.8,972.3 525.5,970.9 C526.2,969.4 526.8,968.0 527.5,966.5 C528.2,965.1 528.8,963.6 529.5,962.2 C530.2,960.9 530.8,959.5 531.5,958.2 C532.2,956.9 532.8,955.6 533.5,954.5 C534.1,953.3 534.8,952.3 535.5,951.3 C536.1,950.4 536.8,949.5 537.5,948.8 C538.1,948.1 538.8,947.5 539.5,947.1 C540.1,946.8 540.8,946.5 541.5,946.4 C542.2,946.4 542.9,946.6 543.5,946.9 C544.2,947.2 544.9,947.8 545.5,948.3 C546.2,949.0 546.9,949.8 547.5,950.7 C548.2,951.6 548.9,952.7 549.5,953.8 C550.2,954.9 550.8,956.2 551.5,957.4 C552.2,958.7 552.8,960.1 553.5,961.5 C554.2,962.9 554.8,964.3 555.5,965.8 C556.2,967.3 556.8,968.8 557.5,970.2 C558.2,971.7 558.8,973.2 559.5,974.6 C560.2,976.1 560.8,977.5 561.5,978.8 C562.2,980.2 562.8,981.5 563.5,982.7 C564.2,983.9 564.8,985.0 565.5,986.1 C566.1,987.1 566.8,988.0 567.5,988.9 C568.1,989.6 568.8,990.3 569.5,990.8 C570.1,991.3 570.8,991.7 571.5,992.0 C572.1,992.2 572.8,992.2 573.5,992.2 C574.2,992.1 574.9,991.8 575.5,991.4 C576.2,991.0 576.9,990.4 577.5,989.7 C578.2,988.9 578.9,988.0 579.5,987.1 C580.2,986.0 580.9,984.9 581.5,983.7 C582.2,982.5 582.8,981.2 583.5,979.8 C584.2,978.4 584.8,977.0 585.5,975.6 C586.2,974.1 586.8,972.6 587.5,971.1 C588.2,969.7 588.8,968.2 589.5,966.7 C590.2,965.3 590.8,963.8 591.5,962.5 C592.2,961.1 592.8,959.8 593.5,958.6 C594.2,957.4 594.8,956.3 595.5,955.2 C596.1,954.2 596.8,953.2 597.5,952.3 C598.1,951.5 598.8,950.7 599.5,950.1 C600.1,949.4 600.8,948.8 601.5,948.4 C602.1,948.0 602.8,947.6 603.5,947.4 C604.2,947.2 604.8,947.1 605.5,947.1 C606.2,947.2 606.9,947.4 607.5,947.6 C608.2,947.9 608.9,948.4 609.5,948.9 C610.2,949.5 610.9,950.2 611.5,951.0 C612.2,951.9 612.9,953.0 613.5,954.1 C614.2,955.3 614.9,956.6 615.5,957.9 C616.2,959.3 616.8,960.8 617.5,962.3 C618.2,963.8 618.8,965.4 619.5,967.0 C620.2,968.6 620.8,970.2 621.5,971.8 C622.2,973.4 622.8,975.0 623.5,976.5 C624.2,978.0 624.8,979.4 625.5,980.8 C626.1,982.1 626.8,983.4 627.5,984.5 C628.1,985.6 628.8,986.6 629.5,987.4 C630.1,988.2 630.8,988.9 631.5,989.4 C632.1,989.9 632.8,990.4 633.5,990.6 C634.1,990.8 634.8,991.0 635.5,991.0 C636.2,990.9 636.9,990.8 637.5,990.5 C638.2,990.3 638.9,989.8 639.5,989.4 C640.2,988.8 640.9,988.2 641.5,987.5 C642.2,986.7 642.9,985.8 643.5,984.9 C644.2,983.9 644.9,982.9 645.5,981.8 C646.2,980.6 646.8,979.3 647.5,978.0 C648.2,976.6 648.8,975.1 649.5,973.7 C650.2,972.2 650.8,970.6 651.5,969.1 C652.2,967.5 652.8,965.9 653.5,964.3 C654.2,962.8 654.8,961.2 655.5,959.7 C656.2,958.3 656.8,956.8 657.5,955.5 C658.1,954.2 658.8,952.9 659.5,951.8 C660.1,950.8 660.8,949.8 661.5,949.0 C662.1,948.2 662.8,947.6 663.5,947.1 C664.1,946.7 664.8,946.5 665.5,946.4 C666.2,946.3 666.9,946.5 667.5,946.7 C668.2,947.0 668.9,947.4 669.5,947.9 C670.2,948.5 670.9,949.2 671.5,949.9 C672.2,950.7 672.9,951.7 673.5,952.6 C674.2,953.6 674.8,954.8 675.5,955.9 C676.2,957.1 676.8,958.4 677.5,959.7 C678.2,961.0 678.8,962.4 679.5,963.8 C680.2,965.2 680.8,966.7 681.5,968.2 C682.2,969.7 682.8,971.2 683.5,972.7 C684.2,974.2 684.8,975.7 685.5,977.2 C686.2,978.6 686.8,980.1 687.5,981.4 C688.2,982.7 688.8,984.0 689.5,985.2 C690.1,986.3 690.8,987.3 691.5,988.2 C692.1,989.1 692.8,989.9 693.5,990.4 C694.1,990.9 694.9,991.3 695.5,991.4 C696.0,991.6 696.5,991.4 697.0,991.4" fill="none" stroke="#ff0000" stroke-width="1.35" stroke-dasharray="3.3 1.5" stroke-linejoin="round" clip-path="url(#c2)"/>
<line x1="570.0" y1="761.6" x2="601.6" y2="761.6" stroke="#0000ff" stroke-width="1.35" stroke-dasharray="3.6 1.2 1.1 1.3"/><text x="605.6" y="765.7" class="lg">V - type</text>
<line x1="570.0" y1="793.3" x2="601.6" y2="793.3" stroke="#1a8a1a" stroke-width="1.4"/><text x="605.6" y="797.7" class="lg">X - type</text>
<line x1="570.0" y1="824.5" x2="601.6" y2="824.5" stroke="#000000" stroke-width="1.3" stroke-dasharray="1.2 1.2"/><circle cx="585.8" cy="824.5" r="1.4" fill="#000"/><text x="605.6" y="829.6" class="lg">O - type</text>
<line x1="570.0" y1="858.1" x2="601.6" y2="858.1" stroke="#ff0000" stroke-width="1.35" stroke-dasharray="3.3 1.5"/><text x="605.6" y="864.6" class="lg"><tspan class="lam">Λ</tspan> - type</text>

</svg>
</body></html>
